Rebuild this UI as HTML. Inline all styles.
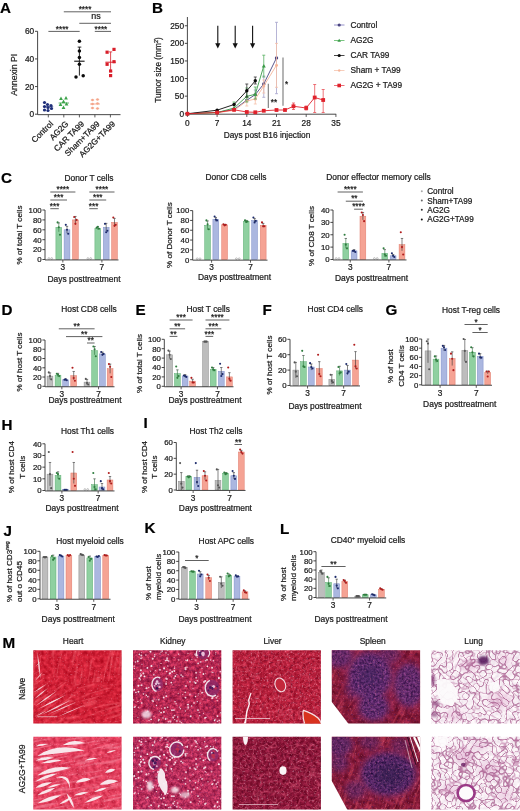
<!DOCTYPE html>
<html><head><meta charset="utf-8"><title>Figure</title>
<style>html,body{margin:0;padding:0;background:#fff;width:520px;height:811px;overflow:hidden}svg{display:block} text{stroke:#1a1a1a;stroke-width:0.22px;paint-order:stroke}</style>
</head><body>
<svg width="520" height="811" viewBox="0 0 520 811" font-family="'Liberation Sans', Arial, Helvetica, sans-serif"><defs><filter id="bl05" x="-50%" y="-50%" width="200%" height="200%"><feGaussianBlur stdDeviation="0.5"/></filter><filter id="bl1" x="-50%" y="-50%" width="200%" height="200%"><feGaussianBlur stdDeviation="0.9"/></filter><filter id="bl2" x="-50%" y="-50%" width="200%" height="200%"><feGaussianBlur stdDeviation="2.5"/></filter><filter id="bl4" x="-50%" y="-50%" width="200%" height="200%"><feGaussianBlur stdDeviation="4.5"/></filter><filter id="fHeartN" x="0" y="0" width="1" height="1" color-interpolation-filters="sRGB"><feTurbulence type="fractalNoise" baseFrequency="0.25" numOctaves="3" seed="2"/><feColorMatrix type="matrix" values="0 0 0 0.345 0.635 0 0 0 0.251 -0.008 0 0 0 0.251 0.078 0 0 0 0 1"/></filter><filter id="fibN" x="0" y="0" width="1" height="1" color-interpolation-filters="sRGB"><feTurbulence type="fractalNoise" baseFrequency="0.04 0.45" numOctaves="2" seed="31"/><feColorMatrix type="matrix" values="0 0 0 0 0.941 0 0 0 0 0.353 0 0 0 0 0.412 0 0 0 6 -3.2"/><feGaussianBlur stdDeviation="0.3"/></filter><filter id="fibA" x="0" y="0" width="1" height="1" color-interpolation-filters="sRGB"><feTurbulence type="fractalNoise" baseFrequency="0.04 0.4" numOctaves="2" seed="32"/><feColorMatrix type="matrix" values="0 0 0 0 0.980 0 0 0 0 0.588 0 0 0 0 0.667 0 0 0 6 -3.2"/><feGaussianBlur stdDeviation="0.3"/></filter><filter id="fHeartA" x="0" y="0" width="1" height="1" color-interpolation-filters="sRGB"><feTurbulence type="fractalNoise" baseFrequency="0.25" numOctaves="3" seed="3"/><feColorMatrix type="matrix" values="0 0 0 0.314 0.722 0 0 0 0.314 0.078 0 0 0 0.314 0.196 0 0 0 0 1"/></filter><filter id="fKidN" x="0" y="0" width="1" height="1" color-interpolation-filters="sRGB"><feTurbulence type="fractalNoise" baseFrequency="0.3" numOctaves="3" seed="4"/><feColorMatrix type="matrix" values="0 0 0 0.627 0.424 0 0 0 0.345 -0.008 0 0 0 0.376 0.133 0 0 0 0 1"/></filter><filter id="kNet" x="0" y="0" width="1" height="1" color-interpolation-filters="sRGB"><feTurbulence type="turbulence" baseFrequency="0.22" numOctaves="1" seed="41"/><feColorMatrix type="matrix" values="0 0 0 0 0.431 0 0 0 0 0.078 0 0 0 0 0.275 0 0 0 -16 1.6"/><feGaussianBlur stdDeviation="0.3"/></filter><filter id="kDots" x="0" y="0" width="1" height="1" color-interpolation-filters="sRGB"><feTurbulence type="fractalNoise" baseFrequency="0.38" numOctaves="1" seed="42"/><feColorMatrix type="matrix" values="0 0 0 0 0.980 0 0 0 0 0.894 0 0 0 0 0.933 0 0 0 7 -4.1"/><feGaussianBlur stdDeviation="0.45"/></filter><filter id="fKidA" x="0" y="0" width="1" height="1" color-interpolation-filters="sRGB"><feTurbulence type="fractalNoise" baseFrequency="0.3" numOctaves="3" seed="5"/><feColorMatrix type="matrix" values="0 0 0 0.627 0.431 0 0 0 0.376 0.000 0 0 0 0.408 0.157 0 0 0 0 1"/></filter><filter id="fLivN" x="0" y="0" width="1" height="1" color-interpolation-filters="sRGB"><feTurbulence type="fractalNoise" baseFrequency="0.3" numOctaves="3" seed="6"/><feColorMatrix type="matrix" values="0 0 0 0.408 0.502 0 0 0 0.251 -0.008 0 0 0 0.282 0.086 0 0 0 0 1"/></filter><filter id="fLivA" x="0" y="0" width="1" height="1" color-interpolation-filters="sRGB"><feTurbulence type="fractalNoise" baseFrequency="0.3" numOctaves="3" seed="7"/><feColorMatrix type="matrix" values="0 0 0 0.408 0.337 0 0 0 0.220 -0.024 0 0 0 0.282 0.078 0 0 0 0 1"/></filter><filter id="fSplN" x="0" y="0" width="1" height="1" color-interpolation-filters="sRGB"><feTurbulence type="fractalNoise" baseFrequency="0.2" numOctaves="3" seed="8"/><feColorMatrix type="matrix" values="0 0 0 0.439 0.290 0 0 0 0.188 0.004 0 0 0 0.251 0.086 0 0 0 0 1"/></filter><filter id="fPurp" x="0" y="0" width="1" height="1" color-interpolation-filters="sRGB"><feTurbulence type="fractalNoise" baseFrequency="0.45" numOctaves="3" seed="61"/><feColorMatrix type="matrix" values="0 0 0 0.565 0.063 0 0 0 0.314 0.008 0 0 0 0.471 0.188 0 0 0 0 1"/></filter><filter id="fPurp2" x="0" y="0" width="1" height="1" color-interpolation-filters="sRGB"><feTurbulence type="fractalNoise" baseFrequency="0.45" numOctaves="3" seed="62"/><feColorMatrix type="matrix" values="0 0 0 0.565 0.031 0 0 0 0.314 -0.008 0 0 0 0.471 0.157 0 0 0 0 1"/></filter><filter id="livNet" x="0" y="0" width="1" height="1" color-interpolation-filters="sRGB"><feTurbulence type="turbulence" baseFrequency="0.15" numOctaves="1" seed="51"/><feColorMatrix type="matrix" values="0 0 0 0 0.882 0 0 0 0 0.373 0 0 0 0 0.471 0 0 0 -14 1.3"/><feGaussianBlur stdDeviation="0.3"/></filter><filter id="livNet2" x="0" y="0" width="1" height="1" color-interpolation-filters="sRGB"><feTurbulence type="turbulence" baseFrequency="0.13" numOctaves="1" seed="52"/><feColorMatrix type="matrix" values="0 0 0 0 0.843 0 0 0 0 0.353 0 0 0 0 0.471 0 0 0 -14 1.3"/><feGaussianBlur stdDeviation="0.3"/></filter><filter id="splDots" x="0" y="0" width="1" height="1" color-interpolation-filters="sRGB"><feTurbulence type="fractalNoise" baseFrequency="0.6" numOctaves="1" seed="53"/><feColorMatrix type="matrix" values="0 0 0 0 0.902 0 0 0 0 0.471 0 0 0 0 0.588 0 0 0 6 -3.6"/><feGaussianBlur stdDeviation="0.35"/></filter><filter id="fSplA" x="0" y="0" width="1" height="1" color-interpolation-filters="sRGB"><feTurbulence type="fractalNoise" baseFrequency="0.2" numOctaves="3" seed="9"/><feColorMatrix type="matrix" values="0 0 0 0.439 0.290 0 0 0 0.188 0.004 0 0 0 0.251 0.086 0 0 0 0 1"/></filter><filter id="fLung" x="0" y="0" width="1" height="1" color-interpolation-filters="sRGB"><feTurbulence type="fractalNoise" baseFrequency="0.25" numOctaves="3" seed="10"/><feColorMatrix type="matrix" values="0 0 0 0.125 0.910 0 0 0 0.188 0.847 0 0 0 0.125 0.898 0 0 0 0 1"/></filter><filter id="dLight" x="0" y="0" width="1" height="1" color-interpolation-filters="sRGB"><feTurbulence type="fractalNoise" baseFrequency="0.7" numOctaves="1" seed="12"/><feColorMatrix type="matrix" values="0 0 0 0 0.965 0 0 0 0 0.769 0 0 0 0 0.839 0 0 0 7 -4.4"/><feGaussianBlur stdDeviation="0.35"/></filter><filter id="dLight2" x="0" y="0" width="1" height="1" color-interpolation-filters="sRGB"><feTurbulence type="fractalNoise" baseFrequency="0.55" numOctaves="1" seed="13"/><feColorMatrix type="matrix" values="0 0 0 0 0.973 0 0 0 0 0.824 0 0 0 0 0.878 0 0 0 7 -4.2"/><feGaussianBlur stdDeviation="0.35"/></filter><filter id="dPurp" x="0" y="0" width="1" height="1" color-interpolation-filters="sRGB"><feTurbulence type="fractalNoise" baseFrequency="0.5" numOctaves="1" seed="14"/><feColorMatrix type="matrix" values="0 0 0 0 0.314 0 0 0 0 0.118 0 0 0 0 0.392 0 0 0 6 -3.7"/><feGaussianBlur stdDeviation="0.35"/></filter><filter id="dDark" x="0" y="0" width="1" height="1" color-interpolation-filters="sRGB"><feTurbulence type="fractalNoise" baseFrequency="0.45" numOctaves="1" seed="15"/><feColorMatrix type="matrix" values="0 0 0 0 0.353 0 0 0 0 0.047 0 0 0 0 0.176 0 0 0 6 -3.4"/><feGaussianBlur stdDeviation="0.35"/></filter><filter id="lungMesh" x="0" y="0" width="1" height="1" color-interpolation-filters="sRGB"><feTurbulence type="turbulence" baseFrequency="0.15" numOctaves="1" seed="16"/><feColorMatrix type="matrix" values="0 0 0 0 0.588 0 0 0 0 0.267 0 0 0 0 0.478 0 0 0 -14 1.4"/><feGaussianBlur stdDeviation="0.3"/></filter><filter id="lungMesh2" x="0" y="0" width="1" height="1" color-interpolation-filters="sRGB"><feTurbulence type="turbulence" baseFrequency="0.15" numOctaves="1" seed="17"/><feColorMatrix type="matrix" values="0 0 0 0 0.686 0 0 0 0 0.353 0 0 0 0 0.569 0 0 0 -14 1.4"/><feGaussianBlur stdDeviation="0.3"/></filter><clipPath id="c00"><rect x="33.30" y="650.20" width="88.30" height="73.40"/></clipPath><clipPath id="hz1"><path d="M33.3 650.2 L121.6 650.2 L121.6 680.2 L73.3 684.2 L33.3 670.2Z"/></clipPath><clipPath id="hz2"><path d="M73.3 684.2 L121.6 680.2 L121.6 723.6 L63.3 723.6Z"/></clipPath><clipPath id="hz3"><path d="M33.3 670.2 L73.3 684.2 L63.3 723.6 L33.3 723.6Z"/></clipPath><clipPath id="c01"><rect x="33.30" y="736.70" width="88.30" height="72.80"/></clipPath><clipPath id="c10"><rect x="133.00" y="650.20" width="88.30" height="73.40"/></clipPath><clipPath id="c11"><rect x="133.00" y="736.70" width="88.30" height="72.80"/></clipPath><clipPath id="c20"><rect x="232.60" y="650.20" width="88.30" height="73.40"/></clipPath><clipPath id="c21"><rect x="232.60" y="736.70" width="88.30" height="72.80"/></clipPath><clipPath id="c30"><rect x="331.80" y="650.20" width="88.30" height="73.40"/></clipPath><mask id="mSN" maskUnits="userSpaceOnUse" x="331.8" y="650.2" width="88.3" height="73.4"><ellipse cx="370" cy="676" rx="21.3" ry="23.5" fill="#fff" fill-opacity="0.9" filter="url(#bl2)"/><ellipse cx="373.7" cy="707" rx="14.6" ry="13.4" fill="#fff" fill-opacity="0.9" filter="url(#bl2)"/><ellipse cx="409" cy="685" rx="14.6" ry="21.3" fill="#fff" fill-opacity="0.85" filter="url(#bl2)"/><ellipse cx="339" cy="656" rx="13.4" ry="11.2" fill="#fff" fill-opacity="0.75" filter="url(#bl2)"/><ellipse cx="390" cy="654" rx="10.1" ry="9.0" fill="#fff" fill-opacity="0.55" filter="url(#bl2)"/><ellipse cx="352" cy="690" rx="6.7" ry="9.0" fill="#fff" fill-opacity="0.4" filter="url(#bl2)"/></mask><clipPath id="c31"><rect x="331.80" y="736.70" width="88.30" height="72.80"/></clipPath><mask id="mSA" maskUnits="userSpaceOnUse" x="331.8" y="736.7" width="88.3" height="72.8"><ellipse cx="388.3" cy="773.9" rx="26.9" ry="21.3" fill="#fff" fill-opacity="0.95" filter="url(#bl2)"/><ellipse cx="339" cy="744.6" rx="13.4" ry="11.2" fill="#fff" fill-opacity="0.75" filter="url(#bl2)"/><ellipse cx="339" cy="763" rx="9.0" ry="9.0" fill="#fff" fill-opacity="0.6" filter="url(#bl2)"/><ellipse cx="355.4" cy="790" rx="10.1" ry="9.0" fill="#fff" fill-opacity="0.55" filter="url(#bl2)"/><ellipse cx="370" cy="742" rx="10.1" ry="7.8" fill="#fff" fill-opacity="0.5" filter="url(#bl2)"/><ellipse cx="400" cy="745" rx="9.0" ry="7.8" fill="#fff" fill-opacity="0.45" filter="url(#bl2)"/></mask><clipPath id="c40"><rect x="431.30" y="650.20" width="88.30" height="73.40"/></clipPath><clipPath id="c41"><rect x="431.30" y="736.70" width="88.30" height="72.80"/></clipPath></defs><rect width="520" height="811" fill="#fff"/><text x="0.00" y="13.10" font-size="15.2" font-weight="bold" fill="#000">A</text>
<line x1="37.60" y1="31.30" x2="37.60" y2="114.65" stroke="#333" stroke-width="0.9"/>
<line x1="35.00" y1="114.20" x2="37.60" y2="114.20" stroke="#333" stroke-width="0.9"/>
<text x="34.20" y="117.19" font-size="8.3" text-anchor="end" font-weight="normal" fill="#1a1a1a">0</text>
<line x1="35.00" y1="86.57" x2="37.60" y2="86.57" stroke="#333" stroke-width="0.9"/>
<text x="34.20" y="89.55" font-size="8.3" text-anchor="end" font-weight="normal" fill="#1a1a1a">20</text>
<line x1="35.00" y1="58.93" x2="37.60" y2="58.93" stroke="#333" stroke-width="0.9"/>
<text x="34.20" y="61.92" font-size="8.3" text-anchor="end" font-weight="normal" fill="#1a1a1a">40</text>
<line x1="35.00" y1="31.30" x2="37.60" y2="31.30" stroke="#333" stroke-width="0.9"/>
<text x="34.20" y="34.29" font-size="8.3" text-anchor="end" font-weight="normal" fill="#1a1a1a">60</text>
<line x1="37.60" y1="114.65" x2="120.50" y2="114.65" stroke="#333" stroke-width="0.9"/>
<line x1="48.30" y1="114.65" x2="48.30" y2="117.40" stroke="#333" stroke-width="0.8"/>
<text x="53.70" y="124.40" font-size="8.3" text-anchor="end" fill="#1a1a1a" transform="rotate(-45 53.70 124.40)">Control</text>
<line x1="63.80" y1="114.65" x2="63.80" y2="117.40" stroke="#333" stroke-width="0.8"/>
<text x="69.20" y="124.40" font-size="8.3" text-anchor="end" fill="#1a1a1a" transform="rotate(-45 69.20 124.40)">AG2G</text>
<line x1="79.40" y1="114.65" x2="79.40" y2="117.40" stroke="#333" stroke-width="0.8"/>
<text x="84.80" y="124.40" font-size="8.3" text-anchor="end" fill="#1a1a1a" transform="rotate(-45 84.80 124.40)">CAR TA99</text>
<line x1="94.90" y1="114.65" x2="94.90" y2="117.40" stroke="#333" stroke-width="0.8"/>
<text x="100.30" y="124.40" font-size="8.3" text-anchor="end" fill="#1a1a1a" transform="rotate(-45 100.30 124.40)">Sham+TA99</text>
<line x1="110.40" y1="114.65" x2="110.40" y2="117.40" stroke="#333" stroke-width="0.8"/>
<text x="115.80" y="124.40" font-size="8.3" text-anchor="end" fill="#1a1a1a" transform="rotate(-45 115.80 124.40)">AG2G+TA99</text>
<text x="14.20" y="77.93" font-size="8.7" text-anchor="middle" font-weight="normal" fill="#1a1a1a" transform="rotate(-90 14.20 74.80)">Annexin PI</text>
<circle cx="44.50" cy="102.50" r="1.60" fill="#1f2f7a" stroke="none" stroke-width="0.5"/>
<circle cx="47.50" cy="104.50" r="1.60" fill="#1f2f7a" stroke="none" stroke-width="0.5"/>
<circle cx="51.00" cy="105.50" r="1.60" fill="#1f2f7a" stroke="none" stroke-width="0.5"/>
<circle cx="44.50" cy="106.50" r="1.60" fill="#1f2f7a" stroke="none" stroke-width="0.5"/>
<circle cx="48.00" cy="107.50" r="1.60" fill="#1f2f7a" stroke="none" stroke-width="0.5"/>
<circle cx="51.50" cy="108.50" r="1.60" fill="#1f2f7a" stroke="none" stroke-width="0.5"/>
<circle cx="44.50" cy="110.00" r="1.60" fill="#1f2f7a" stroke="none" stroke-width="0.5"/>
<circle cx="48.00" cy="110.50" r="1.60" fill="#1f2f7a" stroke="none" stroke-width="0.5"/>
<line x1="43.20" y1="106.80" x2="53.20" y2="106.80" stroke="#1f2f7a" stroke-width="0.8"/>
<path d="M61.0 96.6 L62.9 99.9 L59.1 99.9Z" fill="#3ca34a"/>
<path d="M66.0 96.1 L67.9 99.4 L64.1 99.4Z" fill="#3ca34a"/>
<path d="M63.5 99.6 L65.4 102.9 L61.6 102.9Z" fill="#3ca34a"/>
<path d="M60.5 102.6 L62.4 105.9 L58.6 105.9Z" fill="#3ca34a"/>
<path d="M66.5 102.1 L68.4 105.4 L64.6 105.4Z" fill="#3ca34a"/>
<path d="M63.5 105.6 L65.4 108.9 L61.6 108.9Z" fill="#3ca34a"/>
<line x1="58.60" y1="103.00" x2="69.00" y2="103.00" stroke="#3ca34a" stroke-width="0.8"/>
<line x1="79.40" y1="47.10" x2="79.40" y2="75.60" stroke="#111" stroke-width="0.9"/>
<line x1="77.70" y1="47.10" x2="81.30" y2="47.10" stroke="#111" stroke-width="0.9"/>
<line x1="74.20" y1="61.20" x2="84.60" y2="61.20" stroke="#111" stroke-width="1.1"/>
<circle cx="79.40" cy="41.20" r="1.75" fill="#0a0a0a" stroke="none" stroke-width="0.5"/>
<circle cx="79.40" cy="51.10" r="1.75" fill="#0a0a0a" stroke="none" stroke-width="0.5"/>
<circle cx="79.40" cy="57.50" r="1.75" fill="#0a0a0a" stroke="none" stroke-width="0.5"/>
<circle cx="79.40" cy="64.30" r="1.75" fill="#0a0a0a" stroke="none" stroke-width="0.5"/>
<circle cx="76.00" cy="77.00" r="1.75" fill="#0a0a0a" stroke="none" stroke-width="0.5"/>
<circle cx="83.20" cy="75.80" r="1.75" fill="#0a0a0a" stroke="none" stroke-width="0.5"/>
<line x1="90.00" y1="104.00" x2="100.00" y2="104.00" stroke="#f4a58a" stroke-width="0.8"/>
<circle cx="92.50" cy="100.00" r="1.30" fill="#f4a58a" stroke="none" stroke-width="0.5"/>
<line x1="90.70" y1="100.00" x2="94.30" y2="100.00" stroke="#f4a58a" stroke-width="0.5"/>
<circle cx="97.50" cy="99.50" r="1.30" fill="#f4a58a" stroke="none" stroke-width="0.5"/>
<line x1="95.70" y1="99.50" x2="99.30" y2="99.50" stroke="#f4a58a" stroke-width="0.5"/>
<circle cx="92.50" cy="104.00" r="1.30" fill="#f4a58a" stroke="none" stroke-width="0.5"/>
<line x1="90.70" y1="104.00" x2="94.30" y2="104.00" stroke="#f4a58a" stroke-width="0.5"/>
<circle cx="97.50" cy="103.50" r="1.30" fill="#f4a58a" stroke="none" stroke-width="0.5"/>
<line x1="95.70" y1="103.50" x2="99.30" y2="103.50" stroke="#f4a58a" stroke-width="0.5"/>
<circle cx="92.50" cy="108.00" r="1.30" fill="#f4a58a" stroke="none" stroke-width="0.5"/>
<line x1="90.70" y1="108.00" x2="94.30" y2="108.00" stroke="#f4a58a" stroke-width="0.5"/>
<circle cx="97.50" cy="108.50" r="1.30" fill="#f4a58a" stroke="none" stroke-width="0.5"/>
<line x1="95.70" y1="108.50" x2="99.30" y2="108.50" stroke="#f4a58a" stroke-width="0.5"/>
<line x1="110.60" y1="51.90" x2="110.60" y2="71.50" stroke="#d81e2a" stroke-width="0.8"/>
<line x1="109.00" y1="51.90" x2="112.20" y2="51.90" stroke="#d81e2a" stroke-width="0.8"/>
<line x1="109.00" y1="71.50" x2="112.20" y2="71.50" stroke="#d81e2a" stroke-width="0.8"/>
<line x1="105.40" y1="62.20" x2="115.80" y2="62.20" stroke="#d81e2a" stroke-width="1.0"/>
<rect x="112.40" y="47.80" width="3.20" height="3.20" fill="#d81e2a" stroke="none" stroke-width="0.6"/>
<rect x="105.50" y="50.60" width="3.20" height="3.20" fill="#d81e2a" stroke="none" stroke-width="0.6"/>
<rect x="112.40" y="60.10" width="3.20" height="3.20" fill="#d81e2a" stroke="none" stroke-width="0.6"/>
<rect x="105.50" y="62.70" width="3.20" height="3.20" fill="#d81e2a" stroke="none" stroke-width="0.6"/>
<rect x="109.00" y="69.40" width="3.20" height="3.20" fill="#d81e2a" stroke="none" stroke-width="0.6"/>
<rect x="109.00" y="74.00" width="3.20" height="3.20" fill="#d81e2a" stroke="none" stroke-width="0.6"/>
<line x1="63.80" y1="11.80" x2="111.00" y2="11.80" stroke="#444" stroke-width="0.85"/>
<text x="85.00" y="12.00" font-size="8.2" text-anchor="middle" font-weight="normal" fill="#222">****</text>
<line x1="79.30" y1="23.30" x2="111.00" y2="23.30" stroke="#444" stroke-width="0.85"/>
<text x="96.00" y="18.80" font-size="9" text-anchor="middle" font-weight="normal" fill="#222">ns</text>
<line x1="48.40" y1="31.40" x2="79.70" y2="31.40" stroke="#444" stroke-width="0.85"/>
<text x="62.20" y="31.60" font-size="8.2" text-anchor="middle" font-weight="normal" fill="#222">****</text>
<line x1="94.80" y1="31.40" x2="111.00" y2="31.40" stroke="#444" stroke-width="0.85"/>
<text x="100.90" y="31.60" font-size="8.2" text-anchor="middle" font-weight="normal" fill="#222">****</text>
<text x="152.00" y="13.10" font-size="15.2" font-weight="bold" fill="#000">B</text>
<line x1="187.40" y1="17.00" x2="187.40" y2="114.20" stroke="#333" stroke-width="0.9"/>
<line x1="184.80" y1="113.75" x2="187.40" y2="113.75" stroke="#333" stroke-width="0.9"/>
<text x="184.00" y="116.74" font-size="8.3" text-anchor="end" font-weight="normal" fill="#1a1a1a">0</text>
<line x1="184.80" y1="96.15" x2="187.40" y2="96.15" stroke="#333" stroke-width="0.9"/>
<text x="184.00" y="99.14" font-size="8.3" text-anchor="end" font-weight="normal" fill="#1a1a1a">50</text>
<line x1="184.80" y1="78.55" x2="187.40" y2="78.55" stroke="#333" stroke-width="0.9"/>
<text x="184.00" y="81.54" font-size="8.3" text-anchor="end" font-weight="normal" fill="#1a1a1a">100</text>
<line x1="184.80" y1="60.95" x2="187.40" y2="60.95" stroke="#333" stroke-width="0.9"/>
<text x="184.00" y="63.94" font-size="8.3" text-anchor="end" font-weight="normal" fill="#1a1a1a">150</text>
<line x1="184.80" y1="43.35" x2="187.40" y2="43.35" stroke="#333" stroke-width="0.9"/>
<text x="184.00" y="46.34" font-size="8.3" text-anchor="end" font-weight="normal" fill="#1a1a1a">200</text>
<line x1="184.80" y1="25.75" x2="187.40" y2="25.75" stroke="#333" stroke-width="0.9"/>
<text x="184.00" y="28.74" font-size="8.3" text-anchor="end" font-weight="normal" fill="#1a1a1a">250</text>
<line x1="187.40" y1="114.20" x2="336.20" y2="114.20" stroke="#333" stroke-width="0.9"/>
<line x1="187.40" y1="114.20" x2="187.40" y2="116.95" stroke="#333" stroke-width="0.8"/>
<text x="187.40" y="126.29" font-size="8.3" text-anchor="middle" font-weight="normal" fill="#1a1a1a">0</text>
<line x1="217.10" y1="114.20" x2="217.10" y2="116.95" stroke="#333" stroke-width="0.8"/>
<text x="217.10" y="126.29" font-size="8.3" text-anchor="middle" font-weight="normal" fill="#1a1a1a">7</text>
<line x1="246.80" y1="114.20" x2="246.80" y2="116.95" stroke="#333" stroke-width="0.8"/>
<text x="246.80" y="126.29" font-size="8.3" text-anchor="middle" font-weight="normal" fill="#1a1a1a">14</text>
<line x1="276.50" y1="114.20" x2="276.50" y2="116.95" stroke="#333" stroke-width="0.8"/>
<text x="276.50" y="126.29" font-size="8.3" text-anchor="middle" font-weight="normal" fill="#1a1a1a">21</text>
<line x1="306.20" y1="114.20" x2="306.20" y2="116.95" stroke="#333" stroke-width="0.8"/>
<text x="306.20" y="126.29" font-size="8.3" text-anchor="middle" font-weight="normal" fill="#1a1a1a">28</text>
<line x1="335.91" y1="114.20" x2="335.91" y2="116.95" stroke="#333" stroke-width="0.8"/>
<text x="335.91" y="126.29" font-size="8.3" text-anchor="middle" font-weight="normal" fill="#1a1a1a">35</text>
<text x="267.00" y="137.99" font-size="8.3" text-anchor="middle" font-weight="normal" fill="#1a1a1a">Days post B16 injection</text>
<text x="158.2" y="70" font-size="8.3" text-anchor="middle" fill="#1a1a1a" transform="rotate(-90 158.2 70)" dy="2.9">Tumor size (mm<tspan font-size="5.5" dy="-3">2</tspan><tspan dy="3">)</tspan></text>
<line x1="217.80" y1="25.70" x2="217.80" y2="45.50" stroke="#111" stroke-width="1.1"/>
<path d="M215.20 43.2 L220.40 43.2 L217.80 48.4Z" fill="#111"/>
<line x1="235.20" y1="25.70" x2="235.20" y2="45.50" stroke="#111" stroke-width="1.1"/>
<path d="M232.60 43.2 L237.80 43.2 L235.20 48.4Z" fill="#111"/>
<line x1="252.60" y1="25.70" x2="252.60" y2="45.50" stroke="#111" stroke-width="1.1"/>
<path d="M250.00 43.2 L255.20 43.2 L252.60 48.4Z" fill="#111"/>
<path d="M187.40 113.75 L217.10 112.30 L234.07 109.50 L246.80 100.20 L255.29 94.60 L263.77 83.90 L276.50 57.90" fill="none" stroke="#4a4580" stroke-width="0.9"/>
<line x1="276.50" y1="22.30" x2="276.50" y2="93.70" stroke="#a4a2cc" stroke-width="0.8"/>
<line x1="275.00" y1="22.30" x2="278.00" y2="22.30" stroke="#a4a2cc" stroke-width="0.8"/>
<line x1="275.00" y1="93.70" x2="278.00" y2="93.70" stroke="#a4a2cc" stroke-width="0.8"/>
<line x1="263.77" y1="76.00" x2="263.77" y2="97.30" stroke="#a4a2cc" stroke-width="0.8"/>
<line x1="262.27" y1="76.00" x2="265.27" y2="76.00" stroke="#a4a2cc" stroke-width="0.8"/>
<line x1="262.27" y1="97.30" x2="265.27" y2="97.30" stroke="#a4a2cc" stroke-width="0.8"/>
<line x1="255.29" y1="90.00" x2="255.29" y2="99.00" stroke="#a4a2cc" stroke-width="0.8"/>
<line x1="253.79" y1="90.00" x2="256.79" y2="90.00" stroke="#a4a2cc" stroke-width="0.8"/>
<line x1="253.79" y1="99.00" x2="256.79" y2="99.00" stroke="#a4a2cc" stroke-width="0.8"/>
<circle cx="187.40" cy="113.75" r="1.70" fill="#4a4580" stroke="none" stroke-width="0.5"/>
<circle cx="217.10" cy="112.30" r="1.70" fill="#4a4580" stroke="none" stroke-width="0.5"/>
<circle cx="234.07" cy="109.50" r="1.70" fill="#4a4580" stroke="none" stroke-width="0.5"/>
<circle cx="246.80" cy="100.20" r="1.70" fill="#4a4580" stroke="none" stroke-width="0.5"/>
<circle cx="255.29" cy="94.60" r="1.70" fill="#4a4580" stroke="none" stroke-width="0.5"/>
<circle cx="263.77" cy="83.90" r="1.70" fill="#4a4580" stroke="none" stroke-width="0.5"/>
<circle cx="276.50" cy="57.90" r="1.70" fill="#4a4580" stroke="none" stroke-width="0.5"/>
<path d="M187.40 113.75 L217.10 112.60 L234.07 110.50 L246.80 101.00 L255.29 99.00 L263.77 86.00 L276.50 65.20" fill="none" stroke="#f6b59a" stroke-width="0.9"/>
<line x1="276.50" y1="43.40" x2="276.50" y2="87.30" stroke="#f6c0a8" stroke-width="0.8"/>
<line x1="275.00" y1="43.40" x2="278.00" y2="43.40" stroke="#f6c0a8" stroke-width="0.8"/>
<line x1="275.00" y1="87.30" x2="278.00" y2="87.30" stroke="#f6c0a8" stroke-width="0.8"/>
<line x1="263.77" y1="80.00" x2="263.77" y2="93.00" stroke="#f6c0a8" stroke-width="0.8"/>
<line x1="262.27" y1="80.00" x2="265.27" y2="80.00" stroke="#f6c0a8" stroke-width="0.8"/>
<line x1="262.27" y1="93.00" x2="265.27" y2="93.00" stroke="#f6c0a8" stroke-width="0.8"/>
<line x1="255.29" y1="94.00" x2="255.29" y2="104.00" stroke="#f6c0a8" stroke-width="0.8"/>
<line x1="253.79" y1="94.00" x2="256.79" y2="94.00" stroke="#f6c0a8" stroke-width="0.8"/>
<line x1="253.79" y1="104.00" x2="256.79" y2="104.00" stroke="#f6c0a8" stroke-width="0.8"/>
<line x1="246.80" y1="97.00" x2="246.80" y2="106.00" stroke="#f6c0a8" stroke-width="0.8"/>
<line x1="245.30" y1="97.00" x2="248.30" y2="97.00" stroke="#f6c0a8" stroke-width="0.8"/>
<line x1="245.30" y1="106.00" x2="248.30" y2="106.00" stroke="#f6c0a8" stroke-width="0.8"/>
<circle cx="187.40" cy="113.75" r="1.50" fill="#f6b59a" stroke="none" stroke-width="0.5"/>
<circle cx="217.10" cy="112.60" r="1.50" fill="#f6b59a" stroke="none" stroke-width="0.5"/>
<circle cx="234.07" cy="110.50" r="1.50" fill="#f6b59a" stroke="none" stroke-width="0.5"/>
<circle cx="246.80" cy="101.00" r="1.50" fill="#f6b59a" stroke="none" stroke-width="0.5"/>
<circle cx="255.29" cy="99.00" r="1.50" fill="#f6b59a" stroke="none" stroke-width="0.5"/>
<circle cx="263.77" cy="86.00" r="1.50" fill="#f6b59a" stroke="none" stroke-width="0.5"/>
<circle cx="276.50" cy="65.20" r="1.50" fill="#f6b59a" stroke="none" stroke-width="0.5"/>
<path d="M187.40 113.75 L217.10 112.60 L234.07 108.00 L246.80 96.30 L255.29 94.30 L263.77 66.00" fill="none" stroke="#3a9a48" stroke-width="0.9"/>
<line x1="263.77" y1="55.20" x2="263.77" y2="77.00" stroke="#55b060" stroke-width="0.8"/>
<line x1="262.27" y1="55.20" x2="265.27" y2="55.20" stroke="#55b060" stroke-width="0.8"/>
<line x1="262.27" y1="77.00" x2="265.27" y2="77.00" stroke="#55b060" stroke-width="0.8"/>
<line x1="246.80" y1="88.00" x2="246.80" y2="102.00" stroke="#55b060" stroke-width="0.8"/>
<line x1="245.30" y1="88.00" x2="248.30" y2="88.00" stroke="#55b060" stroke-width="0.8"/>
<line x1="245.30" y1="102.00" x2="248.30" y2="102.00" stroke="#55b060" stroke-width="0.8"/>
<line x1="255.29" y1="87.00" x2="255.29" y2="99.00" stroke="#55b060" stroke-width="0.8"/>
<line x1="253.79" y1="87.00" x2="256.79" y2="87.00" stroke="#55b060" stroke-width="0.8"/>
<line x1="253.79" y1="99.00" x2="256.79" y2="99.00" stroke="#55b060" stroke-width="0.8"/>
<line x1="234.07" y1="102.00" x2="234.07" y2="110.00" stroke="#55b060" stroke-width="0.8"/>
<line x1="232.57" y1="102.00" x2="235.57" y2="102.00" stroke="#55b060" stroke-width="0.8"/>
<line x1="232.57" y1="110.00" x2="235.57" y2="110.00" stroke="#55b060" stroke-width="0.8"/>
<path d="M187.4 111.8 L189.4 115.2 L185.4 115.2Z" fill="#3a9a48"/>
<path d="M217.1 110.6 L219.1 114.0 L215.1 114.0Z" fill="#3a9a48"/>
<path d="M234.1 106.0 L236.1 109.4 L232.1 109.4Z" fill="#3a9a48"/>
<path d="M246.8 94.3 L248.8 97.7 L244.8 97.7Z" fill="#3a9a48"/>
<path d="M255.3 92.3 L257.3 95.7 L253.3 95.7Z" fill="#3a9a48"/>
<path d="M263.8 64.0 L265.8 67.4 L261.8 67.4Z" fill="#3a9a48"/>
<path d="M187.40 113.75 L217.10 110.20 L234.07 104.50 L246.80 90.80 L255.29 80.80" fill="none" stroke="#0a0a0a" stroke-width="0.9"/>
<line x1="246.80" y1="84.00" x2="246.80" y2="97.00" stroke="#333" stroke-width="0.8"/>
<line x1="245.30" y1="84.00" x2="248.30" y2="84.00" stroke="#333" stroke-width="0.8"/>
<line x1="245.30" y1="97.00" x2="248.30" y2="97.00" stroke="#333" stroke-width="0.8"/>
<line x1="255.29" y1="77.00" x2="255.29" y2="84.00" stroke="#333" stroke-width="0.8"/>
<line x1="253.79" y1="77.00" x2="256.79" y2="77.00" stroke="#333" stroke-width="0.8"/>
<line x1="253.79" y1="84.00" x2="256.79" y2="84.00" stroke="#333" stroke-width="0.8"/>
<circle cx="187.40" cy="113.75" r="1.70" fill="#0a0a0a" stroke="none" stroke-width="0.5"/>
<circle cx="217.10" cy="110.20" r="1.70" fill="#0a0a0a" stroke="none" stroke-width="0.5"/>
<circle cx="234.07" cy="104.50" r="1.70" fill="#0a0a0a" stroke="none" stroke-width="0.5"/>
<circle cx="246.80" cy="90.80" r="1.70" fill="#0a0a0a" stroke="none" stroke-width="0.5"/>
<circle cx="255.29" cy="80.80" r="1.70" fill="#0a0a0a" stroke="none" stroke-width="0.5"/>
<path d="M187.40 113.75 L217.10 112.50 L234.07 109.80 L246.80 112.00 L255.29 112.30 L263.77 110.75 L276.50 110.00 L284.99 110.00 L293.48 106.25 L306.20 108.00 L314.69 97.50 L323.18 100.00" fill="none" stroke="#e0222c" stroke-width="0.9"/>
<line x1="314.69" y1="84.50" x2="314.69" y2="112.50" stroke="#e85058" stroke-width="0.8"/>
<line x1="313.19" y1="84.50" x2="316.19" y2="84.50" stroke="#e85058" stroke-width="0.8"/>
<line x1="313.19" y1="112.50" x2="316.19" y2="112.50" stroke="#e85058" stroke-width="0.8"/>
<line x1="323.18" y1="89.50" x2="323.18" y2="112.50" stroke="#e85058" stroke-width="0.8"/>
<line x1="321.68" y1="89.50" x2="324.68" y2="89.50" stroke="#e85058" stroke-width="0.8"/>
<line x1="321.68" y1="112.50" x2="324.68" y2="112.50" stroke="#e85058" stroke-width="0.8"/>
<line x1="293.48" y1="103.00" x2="293.48" y2="109.50" stroke="#e85058" stroke-width="0.8"/>
<line x1="291.98" y1="103.00" x2="294.98" y2="103.00" stroke="#e85058" stroke-width="0.8"/>
<line x1="291.98" y1="109.50" x2="294.98" y2="109.50" stroke="#e85058" stroke-width="0.8"/>
<line x1="306.20" y1="106.00" x2="306.20" y2="110.00" stroke="#e85058" stroke-width="0.8"/>
<line x1="304.70" y1="106.00" x2="307.70" y2="106.00" stroke="#e85058" stroke-width="0.8"/>
<line x1="304.70" y1="110.00" x2="307.70" y2="110.00" stroke="#e85058" stroke-width="0.8"/>
<rect x="185.50" y="111.85" width="3.80" height="3.80" fill="#e0222c" stroke="none" stroke-width="0.6"/>
<rect x="215.20" y="110.60" width="3.80" height="3.80" fill="#e0222c" stroke="none" stroke-width="0.6"/>
<rect x="232.17" y="107.90" width="3.80" height="3.80" fill="#e0222c" stroke="none" stroke-width="0.6"/>
<rect x="244.90" y="110.10" width="3.80" height="3.80" fill="#e0222c" stroke="none" stroke-width="0.6"/>
<rect x="253.39" y="110.40" width="3.80" height="3.80" fill="#e0222c" stroke="none" stroke-width="0.6"/>
<rect x="261.87" y="108.85" width="3.80" height="3.80" fill="#e0222c" stroke="none" stroke-width="0.6"/>
<rect x="274.60" y="108.10" width="3.80" height="3.80" fill="#e0222c" stroke="none" stroke-width="0.6"/>
<rect x="283.09" y="108.10" width="3.80" height="3.80" fill="#e0222c" stroke="none" stroke-width="0.6"/>
<rect x="291.58" y="104.35" width="3.80" height="3.80" fill="#e0222c" stroke="none" stroke-width="0.6"/>
<rect x="304.30" y="106.10" width="3.80" height="3.80" fill="#e0222c" stroke="none" stroke-width="0.6"/>
<rect x="312.79" y="95.60" width="3.80" height="3.80" fill="#e0222c" stroke="none" stroke-width="0.6"/>
<rect x="321.28" y="98.10" width="3.80" height="3.80" fill="#e0222c" stroke="none" stroke-width="0.6"/>
<line x1="268.30" y1="83.70" x2="268.30" y2="108.10" stroke="#777" stroke-width="1.1"/>
<text x="274.00" y="104.80" font-size="8.2" text-anchor="middle" font-weight="normal" fill="#1a1a1a">**</text>
<line x1="283.00" y1="57.60" x2="283.00" y2="105.70" stroke="#777" stroke-width="1.1"/>
<text x="286.60" y="87.00" font-size="8.2" text-anchor="middle" font-weight="normal" fill="#1a1a1a">*</text>
<line x1="334.00" y1="25.00" x2="344.50" y2="25.00" stroke="#8a86c4" stroke-width="0.9"/>
<circle cx="339.20" cy="25.00" r="1.60" fill="#4a4580" stroke="none" stroke-width="0.5"/>
<text x="350.50" y="27.99" font-size="8.3" text-anchor="start" font-weight="normal" fill="#1a1a1a">Control</text>
<line x1="334.00" y1="40.50" x2="344.50" y2="40.50" stroke="#6cbf74" stroke-width="0.9"/>
<path d="M339.2 38.8 L341 41.7 L337.4 41.7Z" fill="#3a9a48"/>
<text x="350.50" y="43.49" font-size="8.3" text-anchor="start" font-weight="normal" fill="#1a1a1a">AG2G</text>
<line x1="334.00" y1="55.50" x2="344.50" y2="55.50" stroke="#333" stroke-width="0.9"/>
<circle cx="339.20" cy="55.50" r="1.60" fill="#0a0a0a" stroke="none" stroke-width="0.5"/>
<text x="350.50" y="58.49" font-size="8.3" text-anchor="start" font-weight="normal" fill="#1a1a1a">CAR TA99</text>
<line x1="334.00" y1="70.50" x2="344.50" y2="70.50" stroke="#f6c8b4" stroke-width="0.9"/>
<circle cx="339.20" cy="70.50" r="1.20" fill="#f6b59a" stroke="none" stroke-width="0.5"/>
<text x="350.50" y="73.49" font-size="8.3" text-anchor="start" font-weight="normal" fill="#1a1a1a">Sham + TA99</text>
<line x1="334.00" y1="85.50" x2="344.50" y2="85.50" stroke="#e8606a" stroke-width="0.9"/>
<rect x="337.40" y="83.70" width="3.60" height="3.60" fill="#e0222c" stroke="none" stroke-width="0.6"/>
<text x="350.50" y="88.49" font-size="8.3" text-anchor="start" font-weight="normal" fill="#1a1a1a">AG2G + TA99</text>
<text x="1.00" y="183.20" font-size="15.2" font-weight="bold" fill="#000">C</text>
<line x1="45.00" y1="210.00" x2="45.00" y2="259.95" stroke="#333" stroke-width="0.9"/>
<line x1="42.40" y1="259.50" x2="45.00" y2="259.50" stroke="#333" stroke-width="0.9"/>
<text x="41.60" y="262.31" font-size="7.8" text-anchor="end" font-weight="normal" fill="#1a1a1a">0</text>
<line x1="42.40" y1="249.60" x2="45.00" y2="249.60" stroke="#333" stroke-width="0.9"/>
<text x="41.60" y="252.41" font-size="7.8" text-anchor="end" font-weight="normal" fill="#1a1a1a">20</text>
<line x1="42.40" y1="239.70" x2="45.00" y2="239.70" stroke="#333" stroke-width="0.9"/>
<text x="41.60" y="242.51" font-size="7.8" text-anchor="end" font-weight="normal" fill="#1a1a1a">40</text>
<line x1="42.40" y1="229.80" x2="45.00" y2="229.80" stroke="#333" stroke-width="0.9"/>
<text x="41.60" y="232.61" font-size="7.8" text-anchor="end" font-weight="normal" fill="#1a1a1a">60</text>
<line x1="42.40" y1="219.90" x2="45.00" y2="219.90" stroke="#333" stroke-width="0.9"/>
<text x="41.60" y="222.71" font-size="7.8" text-anchor="end" font-weight="normal" fill="#1a1a1a">80</text>
<line x1="42.40" y1="210.00" x2="45.00" y2="210.00" stroke="#333" stroke-width="0.9"/>
<text x="41.60" y="212.81" font-size="7.8" text-anchor="end" font-weight="normal" fill="#1a1a1a">100</text>
<circle cx="48.90" cy="258.50" r="0.90" fill="none" stroke="#8a8a8a" stroke-width="0.5"/>
<circle cx="51.70" cy="258.50" r="0.90" fill="none" stroke="#8a8a8a" stroke-width="0.5"/>
<rect x="55.90" y="227.32" width="5.80" height="32.17" fill="#8fd0a0" stroke="#5fae74" stroke-width="0.5"/>
<line x1="58.80" y1="222.87" x2="58.80" y2="231.78" stroke="#2e6e3a" stroke-width="0.6"/>
<line x1="57.60" y1="222.87" x2="60.00" y2="222.87" stroke="#333" stroke-width="0.6"/>
<circle cx="57.60" cy="222.38" r="1.05" fill="#2e7d3e" stroke="none" stroke-width="0.5"/>
<circle cx="60.00" cy="234.75" r="1.05" fill="#2e7d3e" stroke="none" stroke-width="0.5"/>
<circle cx="58.80" cy="227.32" r="1.05" fill="#2e7d3e" stroke="none" stroke-width="0.5"/>
<rect x="64.10" y="229.80" width="5.80" height="29.70" fill="#abb7e0" stroke="#7f8fc8" stroke-width="0.5"/>
<line x1="67.00" y1="226.34" x2="67.00" y2="233.27" stroke="#333" stroke-width="0.6"/>
<line x1="65.80" y1="226.34" x2="68.20" y2="226.34" stroke="#333" stroke-width="0.6"/>
<circle cx="65.80" cy="224.85" r="1.05" fill="#1c2a6a" stroke="none" stroke-width="0.5"/>
<circle cx="68.20" cy="233.76" r="1.05" fill="#1c2a6a" stroke="none" stroke-width="0.5"/>
<circle cx="67.00" cy="229.80" r="1.05" fill="#1c2a6a" stroke="none" stroke-width="0.5"/>
<rect x="72.50" y="219.90" width="5.80" height="39.60" fill="#f5a394" stroke="#e07a6a" stroke-width="0.5"/>
<line x1="75.40" y1="216.44" x2="75.40" y2="223.37" stroke="#333" stroke-width="0.6"/>
<line x1="74.20" y1="216.44" x2="76.60" y2="216.44" stroke="#333" stroke-width="0.6"/>
<circle cx="74.20" cy="216.93" r="1.05" fill="#b01c1c" stroke="none" stroke-width="0.5"/>
<circle cx="76.60" cy="219.90" r="1.05" fill="#b01c1c" stroke="none" stroke-width="0.5"/>
<circle cx="75.40" cy="223.86" r="1.05" fill="#b01c1c" stroke="none" stroke-width="0.5"/>
<circle cx="87.90" cy="258.50" r="0.90" fill="none" stroke="#8a8a8a" stroke-width="0.5"/>
<circle cx="90.70" cy="258.50" r="0.90" fill="none" stroke="#8a8a8a" stroke-width="0.5"/>
<rect x="94.90" y="228.31" width="5.80" height="31.18" fill="#8fd0a0" stroke="#5fae74" stroke-width="0.5"/>
<line x1="97.80" y1="226.83" x2="97.80" y2="229.80" stroke="#2e6e3a" stroke-width="0.6"/>
<line x1="96.60" y1="226.83" x2="99.00" y2="226.83" stroke="#333" stroke-width="0.6"/>
<circle cx="96.60" cy="227.82" r="1.05" fill="#2e7d3e" stroke="none" stroke-width="0.5"/>
<circle cx="99.00" cy="228.81" r="1.05" fill="#2e7d3e" stroke="none" stroke-width="0.5"/>
<circle cx="97.80" cy="226.83" r="1.05" fill="#2e7d3e" stroke="none" stroke-width="0.5"/>
<rect x="103.30" y="227.32" width="5.80" height="32.17" fill="#abb7e0" stroke="#7f8fc8" stroke-width="0.5"/>
<line x1="106.20" y1="223.36" x2="106.20" y2="231.28" stroke="#333" stroke-width="0.6"/>
<line x1="105.00" y1="223.36" x2="107.40" y2="223.36" stroke="#333" stroke-width="0.6"/>
<circle cx="105.00" cy="223.86" r="1.05" fill="#1c2a6a" stroke="none" stroke-width="0.5"/>
<circle cx="107.40" cy="230.79" r="1.05" fill="#1c2a6a" stroke="none" stroke-width="0.5"/>
<circle cx="106.20" cy="232.28" r="1.05" fill="#1c2a6a" stroke="none" stroke-width="0.5"/>
<rect x="111.60" y="222.38" width="5.80" height="37.12" fill="#f5a394" stroke="#e07a6a" stroke-width="0.5"/>
<line x1="114.50" y1="218.41" x2="114.50" y2="226.34" stroke="#333" stroke-width="0.6"/>
<line x1="113.30" y1="218.41" x2="115.70" y2="218.41" stroke="#333" stroke-width="0.6"/>
<circle cx="113.30" cy="217.43" r="1.05" fill="#b01c1c" stroke="none" stroke-width="0.5"/>
<circle cx="115.70" cy="224.85" r="1.05" fill="#b01c1c" stroke="none" stroke-width="0.5"/>
<circle cx="114.50" cy="225.84" r="1.05" fill="#b01c1c" stroke="none" stroke-width="0.5"/>
<line x1="45.00" y1="259.95" x2="118.50" y2="259.95" stroke="#333" stroke-width="0.9"/>
<line x1="62.85" y1="259.95" x2="62.85" y2="262.50" stroke="#333" stroke-width="0.8"/>
<line x1="101.90" y1="259.95" x2="101.90" y2="262.50" stroke="#333" stroke-width="0.8"/>
<text x="62.85" y="270.29" font-size="8.3" text-anchor="middle" font-weight="normal" fill="#1a1a1a">3</text>
<text x="101.90" y="270.29" font-size="8.3" text-anchor="middle" font-weight="normal" fill="#1a1a1a">7</text>
<text x="84.00" y="282.04" font-size="8.45" text-anchor="middle" font-weight="normal" fill="#1a1a1a">Days posttreatment</text>
<text x="89.00" y="180.52" font-size="8.4" text-anchor="middle" font-weight="normal" fill="#1a1a1a">Donor T cells</text>
<text x="19.30" y="237.92" font-size="8.1" text-anchor="middle" font-weight="normal" fill="#1a1a1a" transform="rotate(-90 19.30 235.00)">% of total T cells</text>
<line x1="50.30" y1="192.00" x2="75.40" y2="192.00" stroke="#444" stroke-width="0.85"/>
<text x="62.85" y="192.20" font-size="8.2" text-anchor="middle" font-weight="normal" fill="#222">****</text>
<line x1="50.30" y1="200.00" x2="67.00" y2="200.00" stroke="#444" stroke-width="0.85"/>
<text x="58.65" y="200.20" font-size="8.2" text-anchor="middle" font-weight="normal" fill="#222">***</text>
<line x1="50.30" y1="208.70" x2="58.80" y2="208.70" stroke="#444" stroke-width="0.85"/>
<text x="54.55" y="208.90" font-size="8.2" text-anchor="middle" font-weight="normal" fill="#222">***</text>
<line x1="89.30" y1="192.00" x2="114.50" y2="192.00" stroke="#444" stroke-width="0.85"/>
<text x="101.90" y="192.20" font-size="8.2" text-anchor="middle" font-weight="normal" fill="#222">****</text>
<line x1="89.30" y1="200.00" x2="106.20" y2="200.00" stroke="#444" stroke-width="0.85"/>
<text x="97.75" y="200.20" font-size="8.2" text-anchor="middle" font-weight="normal" fill="#222">***</text>
<line x1="89.30" y1="208.70" x2="97.80" y2="208.70" stroke="#444" stroke-width="0.85"/>
<text x="93.55" y="208.90" font-size="8.2" text-anchor="middle" font-weight="normal" fill="#222">***</text>
<line x1="192.70" y1="210.60" x2="192.70" y2="260.15" stroke="#333" stroke-width="0.9"/>
<line x1="190.10" y1="259.70" x2="192.70" y2="259.70" stroke="#333" stroke-width="0.9"/>
<text x="189.30" y="262.51" font-size="7.8" text-anchor="end" font-weight="normal" fill="#1a1a1a">0</text>
<line x1="190.10" y1="249.88" x2="192.70" y2="249.88" stroke="#333" stroke-width="0.9"/>
<text x="189.30" y="252.69" font-size="7.8" text-anchor="end" font-weight="normal" fill="#1a1a1a">20</text>
<line x1="190.10" y1="240.06" x2="192.70" y2="240.06" stroke="#333" stroke-width="0.9"/>
<text x="189.30" y="242.87" font-size="7.8" text-anchor="end" font-weight="normal" fill="#1a1a1a">40</text>
<line x1="190.10" y1="230.24" x2="192.70" y2="230.24" stroke="#333" stroke-width="0.9"/>
<text x="189.30" y="233.05" font-size="7.8" text-anchor="end" font-weight="normal" fill="#1a1a1a">60</text>
<line x1="190.10" y1="220.42" x2="192.70" y2="220.42" stroke="#333" stroke-width="0.9"/>
<text x="189.30" y="223.23" font-size="7.8" text-anchor="end" font-weight="normal" fill="#1a1a1a">80</text>
<line x1="190.10" y1="210.60" x2="192.70" y2="210.60" stroke="#333" stroke-width="0.9"/>
<text x="189.30" y="213.41" font-size="7.8" text-anchor="end" font-weight="normal" fill="#1a1a1a">100</text>
<circle cx="197.20" cy="258.70" r="0.90" fill="none" stroke="#8a8a8a" stroke-width="0.5"/>
<circle cx="200.00" cy="258.70" r="0.90" fill="none" stroke="#8a8a8a" stroke-width="0.5"/>
<rect x="204.70" y="225.33" width="5.80" height="34.37" fill="#8fd0a0" stroke="#5fae74" stroke-width="0.5"/>
<line x1="207.60" y1="220.91" x2="207.60" y2="229.75" stroke="#2e6e3a" stroke-width="0.6"/>
<line x1="206.40" y1="220.91" x2="208.80" y2="220.91" stroke="#333" stroke-width="0.6"/>
<circle cx="206.40" cy="220.42" r="1.05" fill="#2e7d3e" stroke="none" stroke-width="0.5"/>
<circle cx="208.80" cy="229.26" r="1.05" fill="#2e7d3e" stroke="none" stroke-width="0.5"/>
<circle cx="207.60" cy="224.35" r="1.05" fill="#2e7d3e" stroke="none" stroke-width="0.5"/>
<rect x="212.90" y="219.44" width="5.80" height="40.26" fill="#abb7e0" stroke="#7f8fc8" stroke-width="0.5"/>
<line x1="215.80" y1="217.47" x2="215.80" y2="221.40" stroke="#333" stroke-width="0.6"/>
<line x1="214.60" y1="217.47" x2="217.00" y2="217.47" stroke="#333" stroke-width="0.6"/>
<circle cx="214.60" cy="216.49" r="1.05" fill="#1c2a6a" stroke="none" stroke-width="0.5"/>
<circle cx="217.00" cy="220.42" r="1.05" fill="#1c2a6a" stroke="none" stroke-width="0.5"/>
<circle cx="215.80" cy="219.44" r="1.05" fill="#1c2a6a" stroke="none" stroke-width="0.5"/>
<rect x="221.70" y="224.84" width="5.80" height="34.86" fill="#f5a394" stroke="#e07a6a" stroke-width="0.5"/>
<line x1="224.60" y1="224.35" x2="224.60" y2="225.33" stroke="#333" stroke-width="0.6"/>
<line x1="223.40" y1="224.35" x2="225.80" y2="224.35" stroke="#333" stroke-width="0.6"/>
<circle cx="223.40" cy="224.35" r="1.05" fill="#b01c1c" stroke="none" stroke-width="0.5"/>
<circle cx="225.80" cy="224.84" r="1.05" fill="#b01c1c" stroke="none" stroke-width="0.5"/>
<circle cx="224.60" cy="225.33" r="1.05" fill="#b01c1c" stroke="none" stroke-width="0.5"/>
<circle cx="236.40" cy="258.70" r="0.90" fill="none" stroke="#8a8a8a" stroke-width="0.5"/>
<circle cx="239.20" cy="258.70" r="0.90" fill="none" stroke="#8a8a8a" stroke-width="0.5"/>
<rect x="243.30" y="221.40" width="5.80" height="38.30" fill="#8fd0a0" stroke="#5fae74" stroke-width="0.5"/>
<line x1="246.20" y1="220.42" x2="246.20" y2="222.38" stroke="#2e6e3a" stroke-width="0.6"/>
<line x1="245.00" y1="220.42" x2="247.40" y2="220.42" stroke="#333" stroke-width="0.6"/>
<circle cx="245.00" cy="220.42" r="1.05" fill="#2e7d3e" stroke="none" stroke-width="0.5"/>
<circle cx="247.40" cy="221.40" r="1.05" fill="#2e7d3e" stroke="none" stroke-width="0.5"/>
<circle cx="246.20" cy="221.89" r="1.05" fill="#2e7d3e" stroke="none" stroke-width="0.5"/>
<rect x="251.70" y="220.42" width="5.80" height="39.28" fill="#abb7e0" stroke="#7f8fc8" stroke-width="0.5"/>
<line x1="254.60" y1="218.46" x2="254.60" y2="222.38" stroke="#333" stroke-width="0.6"/>
<line x1="253.40" y1="218.46" x2="255.80" y2="218.46" stroke="#333" stroke-width="0.6"/>
<circle cx="253.40" cy="217.47" r="1.05" fill="#1c2a6a" stroke="none" stroke-width="0.5"/>
<circle cx="255.80" cy="220.91" r="1.05" fill="#1c2a6a" stroke="none" stroke-width="0.5"/>
<circle cx="254.60" cy="222.38" r="1.05" fill="#1c2a6a" stroke="none" stroke-width="0.5"/>
<rect x="260.30" y="225.33" width="5.80" height="34.37" fill="#f5a394" stroke="#e07a6a" stroke-width="0.5"/>
<line x1="263.20" y1="223.37" x2="263.20" y2="227.29" stroke="#333" stroke-width="0.6"/>
<line x1="262.00" y1="223.37" x2="264.40" y2="223.37" stroke="#333" stroke-width="0.6"/>
<circle cx="262.00" cy="222.38" r="1.05" fill="#b01c1c" stroke="none" stroke-width="0.5"/>
<circle cx="264.40" cy="226.31" r="1.05" fill="#b01c1c" stroke="none" stroke-width="0.5"/>
<circle cx="263.20" cy="226.31" r="1.05" fill="#b01c1c" stroke="none" stroke-width="0.5"/>
<line x1="192.70" y1="260.15" x2="267.50" y2="260.15" stroke="#333" stroke-width="0.9"/>
<line x1="211.60" y1="260.15" x2="211.60" y2="262.70" stroke="#333" stroke-width="0.8"/>
<line x1="250.50" y1="260.15" x2="250.50" y2="262.70" stroke="#333" stroke-width="0.8"/>
<text x="211.60" y="270.49" font-size="8.3" text-anchor="middle" font-weight="normal" fill="#1a1a1a">3</text>
<text x="250.50" y="270.49" font-size="8.3" text-anchor="middle" font-weight="normal" fill="#1a1a1a">7</text>
<text x="234.50" y="279.64" font-size="8.45" text-anchor="middle" font-weight="normal" fill="#1a1a1a">Days posttreatment</text>
<text x="236.00" y="180.32" font-size="8.4" text-anchor="middle" font-weight="normal" fill="#1a1a1a">Donor CD8 cells</text>
<text x="168.80" y="237.92" font-size="8.1" text-anchor="middle" font-weight="normal" fill="#1a1a1a" transform="rotate(-90 168.80 235.00)">% of Donor T cells</text>
<line x1="333.00" y1="210.00" x2="333.00" y2="259.95" stroke="#333" stroke-width="0.9"/>
<line x1="330.40" y1="259.50" x2="333.00" y2="259.50" stroke="#333" stroke-width="0.9"/>
<text x="329.60" y="262.31" font-size="7.8" text-anchor="end" font-weight="normal" fill="#1a1a1a">0</text>
<line x1="330.40" y1="247.12" x2="333.00" y2="247.12" stroke="#333" stroke-width="0.9"/>
<text x="329.60" y="249.93" font-size="7.8" text-anchor="end" font-weight="normal" fill="#1a1a1a">10</text>
<line x1="330.40" y1="234.75" x2="333.00" y2="234.75" stroke="#333" stroke-width="0.9"/>
<text x="329.60" y="237.56" font-size="7.8" text-anchor="end" font-weight="normal" fill="#1a1a1a">20</text>
<line x1="330.40" y1="222.38" x2="333.00" y2="222.38" stroke="#333" stroke-width="0.9"/>
<text x="329.60" y="225.18" font-size="7.8" text-anchor="end" font-weight="normal" fill="#1a1a1a">30</text>
<line x1="330.40" y1="210.00" x2="333.00" y2="210.00" stroke="#333" stroke-width="0.9"/>
<text x="329.60" y="212.81" font-size="7.8" text-anchor="end" font-weight="normal" fill="#1a1a1a">40</text>
<circle cx="336.20" cy="258.50" r="0.90" fill="none" stroke="#8a8a8a" stroke-width="0.5"/>
<circle cx="339.00" cy="258.50" r="0.90" fill="none" stroke="#8a8a8a" stroke-width="0.5"/>
<rect x="342.90" y="243.41" width="5.80" height="16.09" fill="#8fd0a0" stroke="#5fae74" stroke-width="0.5"/>
<line x1="345.80" y1="238.46" x2="345.80" y2="248.36" stroke="#2e6e3a" stroke-width="0.6"/>
<line x1="344.60" y1="238.46" x2="347.00" y2="238.46" stroke="#333" stroke-width="0.6"/>
<circle cx="344.60" cy="234.75" r="1.05" fill="#2e7d3e" stroke="none" stroke-width="0.5"/>
<circle cx="347.00" cy="248.36" r="1.05" fill="#2e7d3e" stroke="none" stroke-width="0.5"/>
<circle cx="345.80" cy="244.65" r="1.05" fill="#2e7d3e" stroke="none" stroke-width="0.5"/>
<rect x="351.20" y="250.84" width="5.80" height="8.66" fill="#abb7e0" stroke="#7f8fc8" stroke-width="0.5"/>
<line x1="354.10" y1="249.60" x2="354.10" y2="252.08" stroke="#333" stroke-width="0.6"/>
<line x1="352.90" y1="249.60" x2="355.30" y2="249.60" stroke="#333" stroke-width="0.6"/>
<circle cx="352.90" cy="250.84" r="1.05" fill="#1c2a6a" stroke="none" stroke-width="0.5"/>
<circle cx="355.30" cy="252.07" r="1.05" fill="#1c2a6a" stroke="none" stroke-width="0.5"/>
<circle cx="354.10" cy="250.84" r="1.05" fill="#1c2a6a" stroke="none" stroke-width="0.5"/>
<rect x="360.00" y="216.19" width="5.80" height="43.31" fill="#f5a394" stroke="#e07a6a" stroke-width="0.5"/>
<line x1="362.90" y1="212.47" x2="362.90" y2="219.90" stroke="#333" stroke-width="0.6"/>
<line x1="361.70" y1="212.47" x2="364.10" y2="212.47" stroke="#333" stroke-width="0.6"/>
<circle cx="361.70" cy="212.47" r="1.05" fill="#b01c1c" stroke="none" stroke-width="0.5"/>
<circle cx="364.10" cy="221.14" r="1.05" fill="#b01c1c" stroke="none" stroke-width="0.5"/>
<circle cx="362.90" cy="214.95" r="1.05" fill="#b01c1c" stroke="none" stroke-width="0.5"/>
<circle cx="374.40" cy="258.50" r="0.90" fill="none" stroke="#8a8a8a" stroke-width="0.5"/>
<circle cx="377.20" cy="258.50" r="0.90" fill="none" stroke="#8a8a8a" stroke-width="0.5"/>
<rect x="381.90" y="253.31" width="5.80" height="6.19" fill="#8fd0a0" stroke="#5fae74" stroke-width="0.5"/>
<line x1="384.80" y1="249.60" x2="384.80" y2="257.02" stroke="#2e6e3a" stroke-width="0.6"/>
<line x1="383.60" y1="249.60" x2="386.00" y2="249.60" stroke="#333" stroke-width="0.6"/>
<circle cx="383.60" cy="248.36" r="1.05" fill="#2e7d3e" stroke="none" stroke-width="0.5"/>
<circle cx="386.00" cy="255.79" r="1.05" fill="#2e7d3e" stroke="none" stroke-width="0.5"/>
<circle cx="384.80" cy="254.55" r="1.05" fill="#2e7d3e" stroke="none" stroke-width="0.5"/>
<rect x="390.20" y="255.79" width="5.80" height="3.71" fill="#abb7e0" stroke="#7f8fc8" stroke-width="0.5"/>
<line x1="393.10" y1="254.55" x2="393.10" y2="257.02" stroke="#333" stroke-width="0.6"/>
<line x1="391.90" y1="254.55" x2="394.30" y2="254.55" stroke="#333" stroke-width="0.6"/>
<circle cx="391.90" cy="253.31" r="1.05" fill="#1c2a6a" stroke="none" stroke-width="0.5"/>
<circle cx="394.30" cy="257.02" r="1.05" fill="#1c2a6a" stroke="none" stroke-width="0.5"/>
<circle cx="393.10" cy="255.79" r="1.05" fill="#1c2a6a" stroke="none" stroke-width="0.5"/>
<rect x="399.10" y="244.65" width="5.80" height="14.85" fill="#f5a394" stroke="#e07a6a" stroke-width="0.5"/>
<line x1="402.00" y1="238.46" x2="402.00" y2="250.84" stroke="#333" stroke-width="0.6"/>
<line x1="400.80" y1="238.46" x2="403.20" y2="238.46" stroke="#333" stroke-width="0.6"/>
<circle cx="400.80" cy="232.28" r="1.05" fill="#b01c1c" stroke="none" stroke-width="0.5"/>
<circle cx="403.20" cy="254.55" r="1.05" fill="#b01c1c" stroke="none" stroke-width="0.5"/>
<circle cx="402.00" cy="247.12" r="1.05" fill="#b01c1c" stroke="none" stroke-width="0.5"/>
<line x1="333.00" y1="259.95" x2="406.50" y2="259.95" stroke="#333" stroke-width="0.9"/>
<line x1="350.25" y1="259.95" x2="350.25" y2="262.50" stroke="#333" stroke-width="0.8"/>
<line x1="388.90" y1="259.95" x2="388.90" y2="262.50" stroke="#333" stroke-width="0.8"/>
<text x="350.25" y="270.29" font-size="8.3" text-anchor="middle" font-weight="normal" fill="#1a1a1a">3</text>
<text x="388.90" y="270.29" font-size="8.3" text-anchor="middle" font-weight="normal" fill="#1a1a1a">7</text>
<text x="371.50" y="280.64" font-size="8.45" text-anchor="middle" font-weight="normal" fill="#1a1a1a">Days posttreatment</text>
<text x="378.50" y="180.32" font-size="8.4" text-anchor="middle" font-weight="normal" fill="#1a1a1a">Donor effector memory cells</text>
<text x="311.50" y="238.92" font-size="8.1" text-anchor="middle" font-weight="normal" fill="#1a1a1a" transform="rotate(-90 311.50 236.00)">% of CD8 T cells</text>
<line x1="337.60" y1="192.00" x2="362.90" y2="192.00" stroke="#444" stroke-width="0.85"/>
<text x="350.25" y="192.20" font-size="8.2" text-anchor="middle" font-weight="normal" fill="#222">****</text>
<line x1="345.80" y1="201.20" x2="362.90" y2="201.20" stroke="#444" stroke-width="0.85"/>
<text x="354.35" y="201.40" font-size="8.2" text-anchor="middle" font-weight="normal" fill="#222">**</text>
<line x1="354.10" y1="209.20" x2="362.90" y2="209.20" stroke="#444" stroke-width="0.85"/>
<text x="358.50" y="209.40" font-size="8.2" text-anchor="middle" font-weight="normal" fill="#222">****</text>
<circle cx="421.80" cy="191.20" r="1.00" fill="#aaa" stroke="none" stroke-width="0.5"/>
<text x="427.20" y="194.15" font-size="8.2" text-anchor="start" font-weight="normal" fill="#1a1a1a">Control</text>
<circle cx="421.80" cy="200.60" r="1.00" fill="#666" stroke="none" stroke-width="0.5"/>
<text x="427.20" y="203.55" font-size="8.2" text-anchor="start" font-weight="normal" fill="#1a1a1a">Sham+TA99</text>
<circle cx="421.80" cy="209.80" r="1.00" fill="#333" stroke="none" stroke-width="0.5"/>
<text x="427.20" y="212.75" font-size="8.2" text-anchor="start" font-weight="normal" fill="#1a1a1a">AG2G</text>
<circle cx="421.80" cy="219.50" r="1.00" fill="#111" stroke="none" stroke-width="0.5"/>
<text x="427.20" y="222.45" font-size="8.2" text-anchor="start" font-weight="normal" fill="#1a1a1a">AG2G+TA99</text>
<text x="1.50" y="314.50" font-size="15.2" font-weight="bold" fill="#000">D</text>
<line x1="45.00" y1="340.00" x2="45.00" y2="386.75" stroke="#333" stroke-width="0.9"/>
<line x1="42.40" y1="386.30" x2="45.00" y2="386.30" stroke="#333" stroke-width="0.9"/>
<text x="41.60" y="389.11" font-size="7.8" text-anchor="end" font-weight="normal" fill="#1a1a1a">0</text>
<line x1="42.40" y1="377.04" x2="45.00" y2="377.04" stroke="#333" stroke-width="0.9"/>
<text x="41.60" y="379.85" font-size="7.8" text-anchor="end" font-weight="normal" fill="#1a1a1a">20</text>
<line x1="42.40" y1="367.78" x2="45.00" y2="367.78" stroke="#333" stroke-width="0.9"/>
<text x="41.60" y="370.59" font-size="7.8" text-anchor="end" font-weight="normal" fill="#1a1a1a">40</text>
<line x1="42.40" y1="358.52" x2="45.00" y2="358.52" stroke="#333" stroke-width="0.9"/>
<text x="41.60" y="361.33" font-size="7.8" text-anchor="end" font-weight="normal" fill="#1a1a1a">60</text>
<line x1="42.40" y1="349.26" x2="45.00" y2="349.26" stroke="#333" stroke-width="0.9"/>
<text x="41.60" y="352.07" font-size="7.8" text-anchor="end" font-weight="normal" fill="#1a1a1a">80</text>
<line x1="42.40" y1="340.00" x2="45.00" y2="340.00" stroke="#333" stroke-width="0.9"/>
<text x="41.60" y="342.81" font-size="7.8" text-anchor="end" font-weight="normal" fill="#1a1a1a">100</text>
<rect x="47.10" y="376.11" width="5.80" height="10.19" fill="#bdbdbd" stroke="#8a8a8a" stroke-width="0.5"/>
<line x1="50.00" y1="372.87" x2="50.00" y2="379.36" stroke="#333" stroke-width="0.6"/>
<line x1="48.80" y1="372.87" x2="51.20" y2="372.87" stroke="#333" stroke-width="0.6"/>
<circle cx="48.80" cy="372.41" r="1.05" fill="#555555" stroke="none" stroke-width="0.5"/>
<circle cx="51.20" cy="379.36" r="1.05" fill="#555555" stroke="none" stroke-width="0.5"/>
<circle cx="50.00" cy="376.11" r="1.05" fill="#555555" stroke="none" stroke-width="0.5"/>
<rect x="55.10" y="375.19" width="5.80" height="11.11" fill="#8fd0a0" stroke="#5fae74" stroke-width="0.5"/>
<line x1="58.00" y1="373.34" x2="58.00" y2="377.04" stroke="#2e6e3a" stroke-width="0.6"/>
<line x1="56.80" y1="373.34" x2="59.20" y2="373.34" stroke="#333" stroke-width="0.6"/>
<circle cx="56.80" cy="373.80" r="1.05" fill="#2e7d3e" stroke="none" stroke-width="0.5"/>
<circle cx="59.20" cy="376.11" r="1.05" fill="#2e7d3e" stroke="none" stroke-width="0.5"/>
<circle cx="58.00" cy="374.73" r="1.05" fill="#2e7d3e" stroke="none" stroke-width="0.5"/>
<rect x="62.70" y="379.82" width="5.80" height="6.48" fill="#abb7e0" stroke="#7f8fc8" stroke-width="0.5"/>
<line x1="65.60" y1="378.89" x2="65.60" y2="380.74" stroke="#333" stroke-width="0.6"/>
<line x1="64.40" y1="378.89" x2="66.80" y2="378.89" stroke="#333" stroke-width="0.6"/>
<circle cx="64.40" cy="379.82" r="1.05" fill="#1c2a6a" stroke="none" stroke-width="0.5"/>
<circle cx="66.80" cy="380.28" r="1.05" fill="#1c2a6a" stroke="none" stroke-width="0.5"/>
<circle cx="65.60" cy="379.36" r="1.05" fill="#1c2a6a" stroke="none" stroke-width="0.5"/>
<rect x="70.80" y="375.65" width="5.80" height="10.65" fill="#f5a394" stroke="#e07a6a" stroke-width="0.5"/>
<line x1="73.70" y1="371.48" x2="73.70" y2="379.82" stroke="#333" stroke-width="0.6"/>
<line x1="72.50" y1="371.48" x2="74.90" y2="371.48" stroke="#333" stroke-width="0.6"/>
<circle cx="72.50" cy="367.78" r="1.05" fill="#b01c1c" stroke="none" stroke-width="0.5"/>
<circle cx="74.90" cy="380.74" r="1.05" fill="#b01c1c" stroke="none" stroke-width="0.5"/>
<circle cx="73.70" cy="377.97" r="1.05" fill="#b01c1c" stroke="none" stroke-width="0.5"/>
<rect x="84.10" y="382.13" width="5.80" height="4.17" fill="#bdbdbd" stroke="#8a8a8a" stroke-width="0.5"/>
<line x1="87.00" y1="379.36" x2="87.00" y2="384.91" stroke="#333" stroke-width="0.6"/>
<line x1="85.80" y1="379.36" x2="88.20" y2="379.36" stroke="#333" stroke-width="0.6"/>
<circle cx="85.80" cy="378.89" r="1.05" fill="#555555" stroke="none" stroke-width="0.5"/>
<circle cx="88.20" cy="384.45" r="1.05" fill="#555555" stroke="none" stroke-width="0.5"/>
<circle cx="87.00" cy="383.06" r="1.05" fill="#555555" stroke="none" stroke-width="0.5"/>
<rect x="91.70" y="350.65" width="5.80" height="35.65" fill="#8fd0a0" stroke="#5fae74" stroke-width="0.5"/>
<line x1="94.60" y1="346.48" x2="94.60" y2="354.82" stroke="#2e6e3a" stroke-width="0.6"/>
<line x1="93.40" y1="346.48" x2="95.80" y2="346.48" stroke="#333" stroke-width="0.6"/>
<circle cx="93.40" cy="346.48" r="1.05" fill="#2e7d3e" stroke="none" stroke-width="0.5"/>
<circle cx="95.80" cy="356.20" r="1.05" fill="#2e7d3e" stroke="none" stroke-width="0.5"/>
<circle cx="94.60" cy="349.26" r="1.05" fill="#2e7d3e" stroke="none" stroke-width="0.5"/>
<rect x="99.50" y="353.89" width="5.80" height="32.41" fill="#abb7e0" stroke="#7f8fc8" stroke-width="0.5"/>
<line x1="102.40" y1="352.04" x2="102.40" y2="355.74" stroke="#333" stroke-width="0.6"/>
<line x1="101.20" y1="352.04" x2="103.60" y2="352.04" stroke="#333" stroke-width="0.6"/>
<circle cx="101.20" cy="352.04" r="1.05" fill="#1c2a6a" stroke="none" stroke-width="0.5"/>
<circle cx="103.60" cy="353.89" r="1.05" fill="#1c2a6a" stroke="none" stroke-width="0.5"/>
<circle cx="102.40" cy="354.82" r="1.05" fill="#1c2a6a" stroke="none" stroke-width="0.5"/>
<rect x="107.20" y="368.71" width="5.80" height="17.59" fill="#f5a394" stroke="#e07a6a" stroke-width="0.5"/>
<line x1="110.10" y1="364.08" x2="110.10" y2="373.34" stroke="#333" stroke-width="0.6"/>
<line x1="108.90" y1="364.08" x2="111.30" y2="364.08" stroke="#333" stroke-width="0.6"/>
<circle cx="108.90" cy="364.08" r="1.05" fill="#b01c1c" stroke="none" stroke-width="0.5"/>
<circle cx="111.30" cy="377.04" r="1.05" fill="#b01c1c" stroke="none" stroke-width="0.5"/>
<circle cx="110.10" cy="366.85" r="1.05" fill="#b01c1c" stroke="none" stroke-width="0.5"/>
<line x1="45.00" y1="386.75" x2="114.50" y2="386.75" stroke="#333" stroke-width="0.9"/>
<line x1="61.85" y1="386.75" x2="61.85" y2="389.30" stroke="#333" stroke-width="0.8"/>
<line x1="98.55" y1="386.75" x2="98.55" y2="389.30" stroke="#333" stroke-width="0.8"/>
<text x="61.85" y="397.09" font-size="8.3" text-anchor="middle" font-weight="normal" fill="#1a1a1a">3</text>
<text x="98.55" y="397.09" font-size="8.3" text-anchor="middle" font-weight="normal" fill="#1a1a1a">7</text>
<text x="85.00" y="403.04" font-size="8.45" text-anchor="middle" font-weight="normal" fill="#1a1a1a">Days posttreatment</text>
<text x="89.00" y="312.02" font-size="8.4" text-anchor="middle" font-weight="normal" fill="#1a1a1a">Host CD8 cells</text>
<text x="19.30" y="364.92" font-size="8.1" text-anchor="middle" font-weight="normal" fill="#1a1a1a" transform="rotate(-90 19.30 362.00)">% of host T cells</text>
<line x1="58.80" y1="328.80" x2="94.60" y2="328.80" stroke="#444" stroke-width="0.85"/>
<text x="76.70" y="329.00" font-size="8.2" text-anchor="middle" font-weight="normal" fill="#222">**</text>
<line x1="66.00" y1="336.60" x2="102.40" y2="336.60" stroke="#444" stroke-width="0.85"/>
<text x="84.20" y="336.80" font-size="8.2" text-anchor="middle" font-weight="normal" fill="#222">**</text>
<line x1="87.00" y1="343.00" x2="94.60" y2="343.00" stroke="#444" stroke-width="0.85"/>
<text x="90.80" y="343.20" font-size="8.2" text-anchor="middle" font-weight="normal" fill="#222">**</text>
<text x="135.60" y="315.10" font-size="15.2" font-weight="bold" fill="#000">E</text>
<line x1="164.30" y1="339.30" x2="164.30" y2="386.75" stroke="#333" stroke-width="0.9"/>
<line x1="161.70" y1="386.30" x2="164.30" y2="386.30" stroke="#333" stroke-width="0.9"/>
<text x="160.90" y="389.11" font-size="7.8" text-anchor="end" font-weight="normal" fill="#1a1a1a">0</text>
<line x1="161.70" y1="376.90" x2="164.30" y2="376.90" stroke="#333" stroke-width="0.9"/>
<text x="160.90" y="379.71" font-size="7.8" text-anchor="end" font-weight="normal" fill="#1a1a1a">20</text>
<line x1="161.70" y1="367.50" x2="164.30" y2="367.50" stroke="#333" stroke-width="0.9"/>
<text x="160.90" y="370.31" font-size="7.8" text-anchor="end" font-weight="normal" fill="#1a1a1a">40</text>
<line x1="161.70" y1="358.10" x2="164.30" y2="358.10" stroke="#333" stroke-width="0.9"/>
<text x="160.90" y="360.91" font-size="7.8" text-anchor="end" font-weight="normal" fill="#1a1a1a">60</text>
<line x1="161.70" y1="348.70" x2="164.30" y2="348.70" stroke="#333" stroke-width="0.9"/>
<text x="160.90" y="351.51" font-size="7.8" text-anchor="end" font-weight="normal" fill="#1a1a1a">80</text>
<line x1="161.70" y1="339.30" x2="164.30" y2="339.30" stroke="#333" stroke-width="0.9"/>
<text x="160.90" y="342.11" font-size="7.8" text-anchor="end" font-weight="normal" fill="#1a1a1a">100</text>
<rect x="166.70" y="354.81" width="5.80" height="31.49" fill="#bdbdbd" stroke="#8a8a8a" stroke-width="0.5"/>
<line x1="169.60" y1="351.05" x2="169.60" y2="358.57" stroke="#333" stroke-width="0.6"/>
<line x1="168.40" y1="351.05" x2="170.80" y2="351.05" stroke="#333" stroke-width="0.6"/>
<circle cx="168.40" cy="350.58" r="1.05" fill="#555555" stroke="none" stroke-width="0.5"/>
<circle cx="170.80" cy="359.04" r="1.05" fill="#555555" stroke="none" stroke-width="0.5"/>
<circle cx="169.60" cy="354.81" r="1.05" fill="#555555" stroke="none" stroke-width="0.5"/>
<rect x="174.50" y="373.61" width="5.80" height="12.69" fill="#8fd0a0" stroke="#5fae74" stroke-width="0.5"/>
<line x1="177.40" y1="369.85" x2="177.40" y2="377.37" stroke="#2e6e3a" stroke-width="0.6"/>
<line x1="176.20" y1="369.85" x2="178.60" y2="369.85" stroke="#333" stroke-width="0.6"/>
<circle cx="176.20" cy="366.56" r="1.05" fill="#2e7d3e" stroke="none" stroke-width="0.5"/>
<circle cx="178.60" cy="375.96" r="1.05" fill="#2e7d3e" stroke="none" stroke-width="0.5"/>
<circle cx="177.40" cy="377.84" r="1.05" fill="#2e7d3e" stroke="none" stroke-width="0.5"/>
<rect x="182.20" y="375.96" width="5.80" height="10.34" fill="#abb7e0" stroke="#7f8fc8" stroke-width="0.5"/>
<line x1="185.10" y1="374.55" x2="185.10" y2="377.37" stroke="#333" stroke-width="0.6"/>
<line x1="183.90" y1="374.55" x2="186.30" y2="374.55" stroke="#333" stroke-width="0.6"/>
<circle cx="183.90" cy="375.49" r="1.05" fill="#1c2a6a" stroke="none" stroke-width="0.5"/>
<circle cx="186.30" cy="376.90" r="1.05" fill="#1c2a6a" stroke="none" stroke-width="0.5"/>
<circle cx="185.10" cy="375.96" r="1.05" fill="#1c2a6a" stroke="none" stroke-width="0.5"/>
<rect x="189.70" y="381.13" width="5.80" height="5.17" fill="#f5a394" stroke="#e07a6a" stroke-width="0.5"/>
<line x1="192.60" y1="379.25" x2="192.60" y2="383.01" stroke="#333" stroke-width="0.6"/>
<line x1="191.40" y1="379.25" x2="193.80" y2="379.25" stroke="#333" stroke-width="0.6"/>
<circle cx="191.40" cy="377.84" r="1.05" fill="#b01c1c" stroke="none" stroke-width="0.5"/>
<circle cx="193.80" cy="382.54" r="1.05" fill="#b01c1c" stroke="none" stroke-width="0.5"/>
<circle cx="192.60" cy="382.54" r="1.05" fill="#b01c1c" stroke="none" stroke-width="0.5"/>
<rect x="202.60" y="341.65" width="5.80" height="44.65" fill="#bdbdbd" stroke="#8a8a8a" stroke-width="0.5"/>
<line x1="205.50" y1="341.18" x2="205.50" y2="342.12" stroke="#333" stroke-width="0.6"/>
<line x1="204.30" y1="341.18" x2="206.70" y2="341.18" stroke="#333" stroke-width="0.6"/>
<circle cx="204.30" cy="341.65" r="1.05" fill="#555555" stroke="none" stroke-width="0.5"/>
<circle cx="206.70" cy="341.65" r="1.05" fill="#555555" stroke="none" stroke-width="0.5"/>
<circle cx="205.50" cy="341.65" r="1.05" fill="#555555" stroke="none" stroke-width="0.5"/>
<rect x="210.30" y="369.38" width="5.80" height="16.92" fill="#8fd0a0" stroke="#5fae74" stroke-width="0.5"/>
<line x1="213.20" y1="367.50" x2="213.20" y2="371.26" stroke="#2e6e3a" stroke-width="0.6"/>
<line x1="212.00" y1="367.50" x2="214.40" y2="367.50" stroke="#333" stroke-width="0.6"/>
<circle cx="212.00" cy="367.50" r="1.05" fill="#2e7d3e" stroke="none" stroke-width="0.5"/>
<circle cx="214.40" cy="370.32" r="1.05" fill="#2e7d3e" stroke="none" stroke-width="0.5"/>
<circle cx="213.20" cy="369.38" r="1.05" fill="#2e7d3e" stroke="none" stroke-width="0.5"/>
<rect x="218.40" y="371.26" width="5.80" height="15.04" fill="#abb7e0" stroke="#7f8fc8" stroke-width="0.5"/>
<line x1="221.30" y1="367.50" x2="221.30" y2="375.02" stroke="#333" stroke-width="0.6"/>
<line x1="220.10" y1="367.50" x2="222.50" y2="367.50" stroke="#333" stroke-width="0.6"/>
<circle cx="220.10" cy="363.74" r="1.05" fill="#1c2a6a" stroke="none" stroke-width="0.5"/>
<circle cx="222.50" cy="374.08" r="1.05" fill="#1c2a6a" stroke="none" stroke-width="0.5"/>
<circle cx="221.30" cy="375.96" r="1.05" fill="#1c2a6a" stroke="none" stroke-width="0.5"/>
<rect x="226.50" y="376.90" width="5.80" height="9.40" fill="#f5a394" stroke="#e07a6a" stroke-width="0.5"/>
<line x1="229.40" y1="372.67" x2="229.40" y2="381.13" stroke="#333" stroke-width="0.6"/>
<line x1="228.20" y1="372.67" x2="230.60" y2="372.67" stroke="#333" stroke-width="0.6"/>
<circle cx="228.20" cy="367.50" r="1.05" fill="#b01c1c" stroke="none" stroke-width="0.5"/>
<circle cx="230.60" cy="380.66" r="1.05" fill="#b01c1c" stroke="none" stroke-width="0.5"/>
<circle cx="229.40" cy="378.78" r="1.05" fill="#b01c1c" stroke="none" stroke-width="0.5"/>
<line x1="164.30" y1="386.75" x2="233.50" y2="386.75" stroke="#333" stroke-width="0.9"/>
<line x1="181.10" y1="386.75" x2="181.10" y2="389.30" stroke="#333" stroke-width="0.8"/>
<line x1="217.45" y1="386.75" x2="217.45" y2="389.30" stroke="#333" stroke-width="0.8"/>
<text x="181.10" y="397.09" font-size="8.3" text-anchor="middle" font-weight="normal" fill="#1a1a1a">3</text>
<text x="217.45" y="397.09" font-size="8.3" text-anchor="middle" font-weight="normal" fill="#1a1a1a">7</text>
<text x="205.00" y="403.04" font-size="8.45" text-anchor="middle" font-weight="normal" fill="#1a1a1a">Days posttreatment</text>
<text x="208.20" y="311.82" font-size="8.4" text-anchor="middle" font-weight="normal" fill="#1a1a1a">Host T cells</text>
<text x="138.80" y="366.42" font-size="8.1" text-anchor="middle" font-weight="normal" fill="#1a1a1a" transform="rotate(-90 138.80 363.50)">% of total T cells</text>
<line x1="169.60" y1="320.00" x2="192.60" y2="320.00" stroke="#444" stroke-width="0.85"/>
<text x="181.10" y="320.20" font-size="8.2" text-anchor="middle" font-weight="normal" fill="#222">***</text>
<line x1="169.60" y1="328.80" x2="185.10" y2="328.80" stroke="#444" stroke-width="0.85"/>
<text x="177.35" y="329.00" font-size="8.2" text-anchor="middle" font-weight="normal" fill="#222">**</text>
<line x1="169.60" y1="336.40" x2="177.40" y2="336.40" stroke="#444" stroke-width="0.85"/>
<text x="173.50" y="336.60" font-size="8.2" text-anchor="middle" font-weight="normal" fill="#222">**</text>
<line x1="205.50" y1="320.00" x2="229.40" y2="320.00" stroke="#444" stroke-width="0.85"/>
<text x="217.45" y="320.20" font-size="8.2" text-anchor="middle" font-weight="normal" fill="#222">****</text>
<line x1="205.50" y1="328.80" x2="221.30" y2="328.80" stroke="#444" stroke-width="0.85"/>
<text x="213.40" y="329.00" font-size="8.2" text-anchor="middle" font-weight="normal" fill="#222">***</text>
<line x1="205.50" y1="336.40" x2="213.20" y2="336.40" stroke="#444" stroke-width="0.85"/>
<text x="209.35" y="336.60" font-size="8.2" text-anchor="middle" font-weight="normal" fill="#222">***</text>
<text x="262.50" y="314.90" font-size="15.2" font-weight="bold" fill="#000">F</text>
<line x1="290.00" y1="339.30" x2="290.00" y2="385.95" stroke="#333" stroke-width="0.9"/>
<line x1="287.40" y1="385.50" x2="290.00" y2="385.50" stroke="#333" stroke-width="0.9"/>
<text x="286.60" y="388.31" font-size="7.8" text-anchor="end" font-weight="normal" fill="#1a1a1a">0</text>
<line x1="287.40" y1="370.10" x2="290.00" y2="370.10" stroke="#333" stroke-width="0.9"/>
<text x="286.60" y="372.91" font-size="7.8" text-anchor="end" font-weight="normal" fill="#1a1a1a">20</text>
<line x1="287.40" y1="354.70" x2="290.00" y2="354.70" stroke="#333" stroke-width="0.9"/>
<text x="286.60" y="357.51" font-size="7.8" text-anchor="end" font-weight="normal" fill="#1a1a1a">40</text>
<line x1="287.40" y1="339.30" x2="290.00" y2="339.30" stroke="#333" stroke-width="0.9"/>
<text x="286.60" y="342.11" font-size="7.8" text-anchor="end" font-weight="normal" fill="#1a1a1a">60</text>
<rect x="292.90" y="370.10" width="5.80" height="15.40" fill="#bdbdbd" stroke="#8a8a8a" stroke-width="0.5"/>
<line x1="295.80" y1="362.40" x2="295.80" y2="377.80" stroke="#333" stroke-width="0.6"/>
<line x1="294.60" y1="362.40" x2="297.00" y2="362.40" stroke="#333" stroke-width="0.6"/>
<circle cx="294.60" cy="362.40" r="1.05" fill="#555555" stroke="none" stroke-width="0.5"/>
<circle cx="297.00" cy="376.26" r="1.05" fill="#555555" stroke="none" stroke-width="0.5"/>
<circle cx="295.80" cy="371.64" r="1.05" fill="#555555" stroke="none" stroke-width="0.5"/>
<rect x="300.50" y="361.63" width="5.80" height="23.87" fill="#8fd0a0" stroke="#5fae74" stroke-width="0.5"/>
<line x1="303.40" y1="355.47" x2="303.40" y2="367.79" stroke="#2e6e3a" stroke-width="0.6"/>
<line x1="302.20" y1="355.47" x2="304.60" y2="355.47" stroke="#333" stroke-width="0.6"/>
<circle cx="302.20" cy="350.85" r="1.05" fill="#2e7d3e" stroke="none" stroke-width="0.5"/>
<circle cx="304.60" cy="367.02" r="1.05" fill="#2e7d3e" stroke="none" stroke-width="0.5"/>
<circle cx="303.40" cy="366.25" r="1.05" fill="#2e7d3e" stroke="none" stroke-width="0.5"/>
<rect x="308.40" y="367.02" width="5.80" height="18.48" fill="#abb7e0" stroke="#7f8fc8" stroke-width="0.5"/>
<line x1="311.30" y1="363.94" x2="311.30" y2="370.10" stroke="#333" stroke-width="0.6"/>
<line x1="310.10" y1="363.94" x2="312.50" y2="363.94" stroke="#333" stroke-width="0.6"/>
<circle cx="310.10" cy="363.17" r="1.05" fill="#1c2a6a" stroke="none" stroke-width="0.5"/>
<circle cx="312.50" cy="368.56" r="1.05" fill="#1c2a6a" stroke="none" stroke-width="0.5"/>
<circle cx="311.30" cy="367.02" r="1.05" fill="#1c2a6a" stroke="none" stroke-width="0.5"/>
<rect x="316.40" y="368.56" width="5.80" height="16.94" fill="#f5a394" stroke="#e07a6a" stroke-width="0.5"/>
<line x1="319.30" y1="361.63" x2="319.30" y2="375.49" stroke="#333" stroke-width="0.6"/>
<line x1="318.10" y1="361.63" x2="320.50" y2="361.63" stroke="#333" stroke-width="0.6"/>
<circle cx="318.10" cy="354.70" r="1.05" fill="#b01c1c" stroke="none" stroke-width="0.5"/>
<circle cx="320.50" cy="376.26" r="1.05" fill="#b01c1c" stroke="none" stroke-width="0.5"/>
<circle cx="319.30" cy="373.95" r="1.05" fill="#b01c1c" stroke="none" stroke-width="0.5"/>
<rect x="328.90" y="379.34" width="5.80" height="6.16" fill="#bdbdbd" stroke="#8a8a8a" stroke-width="0.5"/>
<line x1="331.80" y1="374.72" x2="331.80" y2="383.96" stroke="#333" stroke-width="0.6"/>
<line x1="330.60" y1="374.72" x2="333.00" y2="374.72" stroke="#333" stroke-width="0.6"/>
<circle cx="330.60" cy="374.72" r="1.05" fill="#555555" stroke="none" stroke-width="0.5"/>
<circle cx="333.00" cy="382.42" r="1.05" fill="#555555" stroke="none" stroke-width="0.5"/>
<circle cx="331.80" cy="380.88" r="1.05" fill="#555555" stroke="none" stroke-width="0.5"/>
<rect x="336.70" y="370.87" width="5.80" height="14.63" fill="#8fd0a0" stroke="#5fae74" stroke-width="0.5"/>
<line x1="339.60" y1="366.25" x2="339.60" y2="375.49" stroke="#2e6e3a" stroke-width="0.6"/>
<line x1="338.40" y1="366.25" x2="340.80" y2="366.25" stroke="#333" stroke-width="0.6"/>
<circle cx="338.40" cy="367.02" r="1.05" fill="#2e7d3e" stroke="none" stroke-width="0.5"/>
<circle cx="340.80" cy="372.41" r="1.05" fill="#2e7d3e" stroke="none" stroke-width="0.5"/>
<circle cx="339.60" cy="373.18" r="1.05" fill="#2e7d3e" stroke="none" stroke-width="0.5"/>
<rect x="344.60" y="370.10" width="5.80" height="15.40" fill="#abb7e0" stroke="#7f8fc8" stroke-width="0.5"/>
<line x1="347.50" y1="365.48" x2="347.50" y2="374.72" stroke="#333" stroke-width="0.6"/>
<line x1="346.30" y1="365.48" x2="348.70" y2="365.48" stroke="#333" stroke-width="0.6"/>
<circle cx="346.30" cy="363.94" r="1.05" fill="#1c2a6a" stroke="none" stroke-width="0.5"/>
<circle cx="348.70" cy="371.64" r="1.05" fill="#1c2a6a" stroke="none" stroke-width="0.5"/>
<circle cx="347.50" cy="373.18" r="1.05" fill="#1c2a6a" stroke="none" stroke-width="0.5"/>
<rect x="352.60" y="360.09" width="5.80" height="25.41" fill="#f5a394" stroke="#e07a6a" stroke-width="0.5"/>
<line x1="355.50" y1="351.62" x2="355.50" y2="368.56" stroke="#333" stroke-width="0.6"/>
<line x1="354.30" y1="351.62" x2="356.70" y2="351.62" stroke="#333" stroke-width="0.6"/>
<circle cx="354.30" cy="344.69" r="1.05" fill="#b01c1c" stroke="none" stroke-width="0.5"/>
<circle cx="356.70" cy="368.56" r="1.05" fill="#b01c1c" stroke="none" stroke-width="0.5"/>
<circle cx="355.50" cy="366.25" r="1.05" fill="#b01c1c" stroke="none" stroke-width="0.5"/>
<line x1="290.00" y1="385.95" x2="360.00" y2="385.95" stroke="#333" stroke-width="0.9"/>
<line x1="307.55" y1="385.95" x2="307.55" y2="388.50" stroke="#333" stroke-width="0.8"/>
<line x1="343.65" y1="385.95" x2="343.65" y2="388.50" stroke="#333" stroke-width="0.8"/>
<text x="307.55" y="396.29" font-size="8.3" text-anchor="middle" font-weight="normal" fill="#1a1a1a">3</text>
<text x="343.65" y="396.29" font-size="8.3" text-anchor="middle" font-weight="normal" fill="#1a1a1a">7</text>
<text x="325.00" y="408.54" font-size="8.45" text-anchor="middle" font-weight="normal" fill="#1a1a1a">Days posttreatment</text>
<text x="335.30" y="311.82" font-size="8.4" text-anchor="middle" font-weight="normal" fill="#1a1a1a">Host CD4 cells</text>
<text x="268.80" y="367.92" font-size="8.1" text-anchor="middle" font-weight="normal" fill="#1a1a1a" transform="rotate(-90 268.80 365.00)">% of host T cells</text>
<text x="385.50" y="314.90" font-size="15.2" font-weight="bold" fill="#000">G</text>
<line x1="421.70" y1="339.00" x2="421.70" y2="385.25" stroke="#333" stroke-width="0.9"/>
<line x1="419.10" y1="384.80" x2="421.70" y2="384.80" stroke="#333" stroke-width="0.9"/>
<text x="418.30" y="387.61" font-size="7.8" text-anchor="end" font-weight="normal" fill="#1a1a1a">0</text>
<line x1="419.10" y1="375.64" x2="421.70" y2="375.64" stroke="#333" stroke-width="0.9"/>
<text x="418.30" y="378.45" font-size="7.8" text-anchor="end" font-weight="normal" fill="#1a1a1a">20</text>
<line x1="419.10" y1="366.48" x2="421.70" y2="366.48" stroke="#333" stroke-width="0.9"/>
<text x="418.30" y="369.29" font-size="7.8" text-anchor="end" font-weight="normal" fill="#1a1a1a">40</text>
<line x1="419.10" y1="357.32" x2="421.70" y2="357.32" stroke="#333" stroke-width="0.9"/>
<text x="418.30" y="360.13" font-size="7.8" text-anchor="end" font-weight="normal" fill="#1a1a1a">60</text>
<line x1="419.10" y1="348.16" x2="421.70" y2="348.16" stroke="#333" stroke-width="0.9"/>
<text x="418.30" y="350.97" font-size="7.8" text-anchor="end" font-weight="normal" fill="#1a1a1a">80</text>
<line x1="419.10" y1="339.00" x2="421.70" y2="339.00" stroke="#333" stroke-width="0.9"/>
<text x="418.30" y="341.81" font-size="7.8" text-anchor="end" font-weight="normal" fill="#1a1a1a">100</text>
<rect x="425.10" y="350.91" width="5.80" height="33.89" fill="#bdbdbd" stroke="#8a8a8a" stroke-width="0.5"/>
<line x1="428.00" y1="339.00" x2="428.00" y2="362.82" stroke="#333" stroke-width="0.6"/>
<line x1="426.80" y1="339.00" x2="429.20" y2="339.00" stroke="#333" stroke-width="0.6"/>
<circle cx="426.80" cy="341.29" r="1.05" fill="#555555" stroke="none" stroke-width="0.5"/>
<circle cx="429.20" cy="369.23" r="1.05" fill="#555555" stroke="none" stroke-width="0.5"/>
<circle cx="428.00" cy="343.58" r="1.05" fill="#555555" stroke="none" stroke-width="0.5"/>
<rect x="433.10" y="359.15" width="5.80" height="25.65" fill="#8fd0a0" stroke="#5fae74" stroke-width="0.5"/>
<line x1="436.00" y1="355.95" x2="436.00" y2="362.36" stroke="#2e6e3a" stroke-width="0.6"/>
<line x1="434.80" y1="355.95" x2="437.20" y2="355.95" stroke="#333" stroke-width="0.6"/>
<circle cx="434.80" cy="356.40" r="1.05" fill="#2e7d3e" stroke="none" stroke-width="0.5"/>
<circle cx="437.20" cy="360.98" r="1.05" fill="#2e7d3e" stroke="none" stroke-width="0.5"/>
<circle cx="436.00" cy="359.61" r="1.05" fill="#2e7d3e" stroke="none" stroke-width="0.5"/>
<rect x="441.10" y="348.16" width="5.80" height="36.64" fill="#abb7e0" stroke="#7f8fc8" stroke-width="0.5"/>
<line x1="444.00" y1="345.41" x2="444.00" y2="350.91" stroke="#333" stroke-width="0.6"/>
<line x1="442.80" y1="345.41" x2="445.20" y2="345.41" stroke="#333" stroke-width="0.6"/>
<circle cx="442.80" cy="345.87" r="1.05" fill="#1c2a6a" stroke="none" stroke-width="0.5"/>
<circle cx="445.20" cy="349.99" r="1.05" fill="#1c2a6a" stroke="none" stroke-width="0.5"/>
<circle cx="444.00" cy="347.24" r="1.05" fill="#1c2a6a" stroke="none" stroke-width="0.5"/>
<rect x="449.30" y="358.69" width="5.80" height="26.11" fill="#f5a394" stroke="#e07a6a" stroke-width="0.5"/>
<line x1="452.20" y1="351.82" x2="452.20" y2="365.56" stroke="#333" stroke-width="0.6"/>
<line x1="451.00" y1="351.82" x2="453.40" y2="351.82" stroke="#333" stroke-width="0.6"/>
<circle cx="451.00" cy="353.66" r="1.05" fill="#b01c1c" stroke="none" stroke-width="0.5"/>
<circle cx="453.40" cy="370.14" r="1.05" fill="#b01c1c" stroke="none" stroke-width="0.5"/>
<circle cx="452.20" cy="358.69" r="1.05" fill="#b01c1c" stroke="none" stroke-width="0.5"/>
<rect x="461.90" y="350.45" width="5.80" height="34.35" fill="#bdbdbd" stroke="#8a8a8a" stroke-width="0.5"/>
<line x1="464.80" y1="339.46" x2="464.80" y2="361.44" stroke="#333" stroke-width="0.6"/>
<line x1="463.60" y1="339.46" x2="466.00" y2="339.46" stroke="#333" stroke-width="0.6"/>
<circle cx="463.60" cy="339.00" r="1.05" fill="#555555" stroke="none" stroke-width="0.5"/>
<circle cx="466.00" cy="361.90" r="1.05" fill="#555555" stroke="none" stroke-width="0.5"/>
<circle cx="464.80" cy="350.91" r="1.05" fill="#555555" stroke="none" stroke-width="0.5"/>
<rect x="469.50" y="352.28" width="5.80" height="32.52" fill="#8fd0a0" stroke="#5fae74" stroke-width="0.5"/>
<line x1="472.40" y1="347.70" x2="472.40" y2="356.86" stroke="#2e6e3a" stroke-width="0.6"/>
<line x1="471.20" y1="347.70" x2="473.60" y2="347.70" stroke="#333" stroke-width="0.6"/>
<circle cx="471.20" cy="347.24" r="1.05" fill="#2e7d3e" stroke="none" stroke-width="0.5"/>
<circle cx="473.60" cy="356.40" r="1.05" fill="#2e7d3e" stroke="none" stroke-width="0.5"/>
<circle cx="472.40" cy="352.28" r="1.05" fill="#2e7d3e" stroke="none" stroke-width="0.5"/>
<rect x="477.30" y="356.40" width="5.80" height="28.40" fill="#abb7e0" stroke="#7f8fc8" stroke-width="0.5"/>
<line x1="480.20" y1="353.66" x2="480.20" y2="359.15" stroke="#333" stroke-width="0.6"/>
<line x1="479.00" y1="353.66" x2="481.40" y2="353.66" stroke="#333" stroke-width="0.6"/>
<circle cx="479.00" cy="353.66" r="1.05" fill="#1c2a6a" stroke="none" stroke-width="0.5"/>
<circle cx="481.40" cy="357.78" r="1.05" fill="#1c2a6a" stroke="none" stroke-width="0.5"/>
<circle cx="480.20" cy="357.32" r="1.05" fill="#1c2a6a" stroke="none" stroke-width="0.5"/>
<rect x="484.80" y="372.43" width="5.80" height="12.37" fill="#f5a394" stroke="#e07a6a" stroke-width="0.5"/>
<line x1="487.70" y1="371.06" x2="487.70" y2="373.81" stroke="#333" stroke-width="0.6"/>
<line x1="486.50" y1="371.06" x2="488.90" y2="371.06" stroke="#333" stroke-width="0.6"/>
<circle cx="486.50" cy="371.52" r="1.05" fill="#b01c1c" stroke="none" stroke-width="0.5"/>
<circle cx="488.90" cy="371.52" r="1.05" fill="#b01c1c" stroke="none" stroke-width="0.5"/>
<circle cx="487.70" cy="376.56" r="1.05" fill="#b01c1c" stroke="none" stroke-width="0.5"/>
<line x1="421.70" y1="385.25" x2="492.00" y2="385.25" stroke="#333" stroke-width="0.9"/>
<line x1="440.10" y1="385.25" x2="440.10" y2="387.80" stroke="#333" stroke-width="0.8"/>
<line x1="476.25" y1="385.25" x2="476.25" y2="387.80" stroke="#333" stroke-width="0.8"/>
<text x="440.10" y="395.59" font-size="8.3" text-anchor="middle" font-weight="normal" fill="#1a1a1a">3</text>
<text x="476.25" y="395.59" font-size="8.3" text-anchor="middle" font-weight="normal" fill="#1a1a1a">7</text>
<text x="459.70" y="407.04" font-size="8.45" text-anchor="middle" font-weight="normal" fill="#1a1a1a">Days posttreatment</text>
<text x="471.00" y="312.72" font-size="8.4" text-anchor="middle" font-weight="normal" fill="#1a1a1a">Host T-reg cells</text>
<text x="390.40" y="368.92" font-size="8.1" text-anchor="middle" font-weight="normal" fill="#1a1a1a" transform="rotate(-90 390.40 366.00)">% of host</text>
<text x="400.80" y="368.92" font-size="8.1" text-anchor="middle" font-weight="normal" fill="#1a1a1a" transform="rotate(-90 400.80 366.00)">CD4 T cells</text>
<line x1="464.50" y1="324.50" x2="487.70" y2="324.50" stroke="#444" stroke-width="0.85"/>
<text x="476.10" y="324.70" font-size="8.2" text-anchor="middle" font-weight="normal" fill="#222">*</text>
<line x1="472.40" y1="332.50" x2="487.70" y2="332.50" stroke="#444" stroke-width="0.85"/>
<text x="480.05" y="332.70" font-size="8.2" text-anchor="middle" font-weight="normal" fill="#222">*</text>
<text x="1.50" y="429.60" font-size="15.2" font-weight="bold" fill="#000">H</text>
<line x1="45.00" y1="443.80" x2="45.00" y2="490.95" stroke="#333" stroke-width="0.9"/>
<line x1="42.40" y1="490.50" x2="45.00" y2="490.50" stroke="#333" stroke-width="0.9"/>
<text x="41.60" y="493.31" font-size="7.8" text-anchor="end" font-weight="normal" fill="#1a1a1a">0</text>
<line x1="42.40" y1="478.82" x2="45.00" y2="478.82" stroke="#333" stroke-width="0.9"/>
<text x="41.60" y="481.63" font-size="7.8" text-anchor="end" font-weight="normal" fill="#1a1a1a">10</text>
<line x1="42.40" y1="467.15" x2="45.00" y2="467.15" stroke="#333" stroke-width="0.9"/>
<text x="41.60" y="469.96" font-size="7.8" text-anchor="end" font-weight="normal" fill="#1a1a1a">20</text>
<line x1="42.40" y1="455.48" x2="45.00" y2="455.48" stroke="#333" stroke-width="0.9"/>
<text x="41.60" y="458.28" font-size="7.8" text-anchor="end" font-weight="normal" fill="#1a1a1a">30</text>
<line x1="42.40" y1="443.80" x2="45.00" y2="443.80" stroke="#333" stroke-width="0.9"/>
<text x="41.60" y="446.61" font-size="7.8" text-anchor="end" font-weight="normal" fill="#1a1a1a">40</text>
<rect x="47.10" y="474.16" width="5.80" height="16.34" fill="#bdbdbd" stroke="#8a8a8a" stroke-width="0.5"/>
<line x1="50.00" y1="462.48" x2="50.00" y2="485.83" stroke="#333" stroke-width="0.6"/>
<line x1="48.80" y1="462.48" x2="51.20" y2="462.48" stroke="#333" stroke-width="0.6"/>
<circle cx="48.80" cy="451.97" r="1.05" fill="#555555" stroke="none" stroke-width="0.5"/>
<circle cx="51.20" cy="488.17" r="1.05" fill="#555555" stroke="none" stroke-width="0.5"/>
<circle cx="50.00" cy="474.16" r="1.05" fill="#555555" stroke="none" stroke-width="0.5"/>
<rect x="55.10" y="475.32" width="5.80" height="15.18" fill="#8fd0a0" stroke="#5fae74" stroke-width="0.5"/>
<line x1="58.00" y1="471.82" x2="58.00" y2="478.82" stroke="#2e6e3a" stroke-width="0.6"/>
<line x1="56.80" y1="471.82" x2="59.20" y2="471.82" stroke="#333" stroke-width="0.6"/>
<circle cx="56.80" cy="472.99" r="1.05" fill="#2e7d3e" stroke="none" stroke-width="0.5"/>
<circle cx="59.20" cy="478.82" r="1.05" fill="#2e7d3e" stroke="none" stroke-width="0.5"/>
<circle cx="58.00" cy="474.16" r="1.05" fill="#2e7d3e" stroke="none" stroke-width="0.5"/>
<rect x="62.70" y="489.57" width="5.80" height="0.93" fill="#abb7e0" stroke="#7f8fc8" stroke-width="0.5"/>
<circle cx="64.40" cy="489.92" r="1.05" fill="#1c2a6a" stroke="none" stroke-width="0.5"/>
<circle cx="66.80" cy="489.92" r="1.05" fill="#1c2a6a" stroke="none" stroke-width="0.5"/>
<circle cx="65.60" cy="489.92" r="1.05" fill="#1c2a6a" stroke="none" stroke-width="0.5"/>
<rect x="70.90" y="472.99" width="5.80" height="17.51" fill="#f5a394" stroke="#e07a6a" stroke-width="0.5"/>
<line x1="73.80" y1="462.48" x2="73.80" y2="483.50" stroke="#333" stroke-width="0.6"/>
<line x1="72.60" y1="462.48" x2="75.00" y2="462.48" stroke="#333" stroke-width="0.6"/>
<circle cx="72.60" cy="451.97" r="1.05" fill="#b01c1c" stroke="none" stroke-width="0.5"/>
<circle cx="75.00" cy="485.83" r="1.05" fill="#b01c1c" stroke="none" stroke-width="0.5"/>
<circle cx="73.80" cy="478.82" r="1.05" fill="#b01c1c" stroke="none" stroke-width="0.5"/>
<circle cx="84.90" cy="489.50" r="0.90" fill="none" stroke="#8a8a8a" stroke-width="0.5"/>
<circle cx="87.70" cy="489.50" r="0.90" fill="none" stroke="#8a8a8a" stroke-width="0.5"/>
<rect x="91.60" y="484.66" width="5.80" height="5.84" fill="#8fd0a0" stroke="#5fae74" stroke-width="0.5"/>
<line x1="94.50" y1="478.83" x2="94.50" y2="490.50" stroke="#2e6e3a" stroke-width="0.6"/>
<line x1="93.30" y1="478.83" x2="95.70" y2="478.83" stroke="#333" stroke-width="0.6"/>
<circle cx="93.30" cy="472.99" r="1.05" fill="#2e7d3e" stroke="none" stroke-width="0.5"/>
<circle cx="95.70" cy="489.33" r="1.05" fill="#2e7d3e" stroke="none" stroke-width="0.5"/>
<circle cx="94.50" cy="487.00" r="1.05" fill="#2e7d3e" stroke="none" stroke-width="0.5"/>
<rect x="99.10" y="487.00" width="5.80" height="3.50" fill="#abb7e0" stroke="#7f8fc8" stroke-width="0.5"/>
<line x1="102.00" y1="483.50" x2="102.00" y2="490.50" stroke="#333" stroke-width="0.6"/>
<line x1="100.80" y1="483.50" x2="103.20" y2="483.50" stroke="#333" stroke-width="0.6"/>
<circle cx="100.80" cy="481.16" r="1.05" fill="#1c2a6a" stroke="none" stroke-width="0.5"/>
<circle cx="103.20" cy="489.33" r="1.05" fill="#1c2a6a" stroke="none" stroke-width="0.5"/>
<circle cx="102.00" cy="488.17" r="1.05" fill="#1c2a6a" stroke="none" stroke-width="0.5"/>
<rect x="107.10" y="479.99" width="5.80" height="10.51" fill="#f5a394" stroke="#e07a6a" stroke-width="0.5"/>
<line x1="110.00" y1="476.49" x2="110.00" y2="483.50" stroke="#333" stroke-width="0.6"/>
<line x1="108.80" y1="476.49" x2="111.20" y2="476.49" stroke="#333" stroke-width="0.6"/>
<circle cx="108.80" cy="472.99" r="1.05" fill="#b01c1c" stroke="none" stroke-width="0.5"/>
<circle cx="111.20" cy="483.50" r="1.05" fill="#b01c1c" stroke="none" stroke-width="0.5"/>
<circle cx="110.00" cy="481.16" r="1.05" fill="#b01c1c" stroke="none" stroke-width="0.5"/>
<line x1="45.00" y1="490.95" x2="114.50" y2="490.95" stroke="#333" stroke-width="0.9"/>
<line x1="61.90" y1="490.95" x2="61.90" y2="493.50" stroke="#333" stroke-width="0.8"/>
<line x1="98.15" y1="490.95" x2="98.15" y2="493.50" stroke="#333" stroke-width="0.8"/>
<text x="61.90" y="501.29" font-size="8.3" text-anchor="middle" font-weight="normal" fill="#1a1a1a">3</text>
<text x="98.15" y="501.29" font-size="8.3" text-anchor="middle" font-weight="normal" fill="#1a1a1a">7</text>
<text x="82.00" y="511.04" font-size="8.45" text-anchor="middle" font-weight="normal" fill="#1a1a1a">Days posttreatment</text>
<text x="87.50" y="434.32" font-size="8.4" text-anchor="middle" font-weight="normal" fill="#1a1a1a">Host Th1 cells</text>
<text x="11.25" y="470.12" font-size="8.1" text-anchor="middle" font-weight="normal" fill="#1a1a1a" transform="rotate(-90 11.25 467.20)">% of host CD4</text>
<text x="21.65" y="470.12" font-size="8.1" text-anchor="middle" font-weight="normal" fill="#1a1a1a" transform="rotate(-90 21.65 467.20)">T cells</text>
<text x="143.50" y="428.40" font-size="15.2" font-weight="bold" fill="#000">I</text>
<line x1="176.30" y1="442.50" x2="176.30" y2="490.45" stroke="#333" stroke-width="0.9"/>
<line x1="173.70" y1="490.00" x2="176.30" y2="490.00" stroke="#333" stroke-width="0.9"/>
<text x="172.90" y="492.81" font-size="7.8" text-anchor="end" font-weight="normal" fill="#1a1a1a">0</text>
<line x1="173.70" y1="474.17" x2="176.30" y2="474.17" stroke="#333" stroke-width="0.9"/>
<text x="172.90" y="476.97" font-size="7.8" text-anchor="end" font-weight="normal" fill="#1a1a1a">20</text>
<line x1="173.70" y1="458.33" x2="176.30" y2="458.33" stroke="#333" stroke-width="0.9"/>
<text x="172.90" y="461.14" font-size="7.8" text-anchor="end" font-weight="normal" fill="#1a1a1a">40</text>
<line x1="173.70" y1="442.50" x2="176.30" y2="442.50" stroke="#333" stroke-width="0.9"/>
<text x="172.90" y="445.31" font-size="7.8" text-anchor="end" font-weight="normal" fill="#1a1a1a">60</text>
<rect x="178.40" y="481.29" width="5.80" height="8.71" fill="#bdbdbd" stroke="#8a8a8a" stroke-width="0.5"/>
<line x1="181.30" y1="472.58" x2="181.30" y2="490.00" stroke="#333" stroke-width="0.6"/>
<line x1="180.10" y1="472.58" x2="182.50" y2="472.58" stroke="#333" stroke-width="0.6"/>
<circle cx="180.10" cy="463.08" r="1.05" fill="#555555" stroke="none" stroke-width="0.5"/>
<circle cx="182.50" cy="487.62" r="1.05" fill="#555555" stroke="none" stroke-width="0.5"/>
<circle cx="181.30" cy="483.67" r="1.05" fill="#555555" stroke="none" stroke-width="0.5"/>
<rect x="185.90" y="476.54" width="5.80" height="13.46" fill="#8fd0a0" stroke="#5fae74" stroke-width="0.5"/>
<line x1="188.80" y1="475.75" x2="188.80" y2="477.33" stroke="#2e6e3a" stroke-width="0.6"/>
<line x1="187.60" y1="475.75" x2="190.00" y2="475.75" stroke="#333" stroke-width="0.6"/>
<circle cx="187.60" cy="476.54" r="1.05" fill="#2e7d3e" stroke="none" stroke-width="0.5"/>
<circle cx="190.00" cy="476.54" r="1.05" fill="#2e7d3e" stroke="none" stroke-width="0.5"/>
<circle cx="188.80" cy="477.33" r="1.05" fill="#2e7d3e" stroke="none" stroke-width="0.5"/>
<rect x="194.10" y="477.33" width="5.80" height="12.67" fill="#abb7e0" stroke="#7f8fc8" stroke-width="0.5"/>
<line x1="197.00" y1="470.21" x2="197.00" y2="484.46" stroke="#333" stroke-width="0.6"/>
<line x1="195.80" y1="470.21" x2="198.20" y2="470.21" stroke="#333" stroke-width="0.6"/>
<circle cx="195.80" cy="463.08" r="1.05" fill="#1c2a6a" stroke="none" stroke-width="0.5"/>
<circle cx="198.20" cy="486.04" r="1.05" fill="#1c2a6a" stroke="none" stroke-width="0.5"/>
<circle cx="197.00" cy="482.08" r="1.05" fill="#1c2a6a" stroke="none" stroke-width="0.5"/>
<rect x="202.10" y="475.75" width="5.80" height="14.25" fill="#f5a394" stroke="#e07a6a" stroke-width="0.5"/>
<line x1="205.00" y1="471.79" x2="205.00" y2="479.71" stroke="#333" stroke-width="0.6"/>
<line x1="203.80" y1="471.79" x2="206.20" y2="471.79" stroke="#333" stroke-width="0.6"/>
<circle cx="203.80" cy="471.00" r="1.05" fill="#b01c1c" stroke="none" stroke-width="0.5"/>
<circle cx="206.20" cy="480.50" r="1.05" fill="#b01c1c" stroke="none" stroke-width="0.5"/>
<circle cx="205.00" cy="475.75" r="1.05" fill="#b01c1c" stroke="none" stroke-width="0.5"/>
<rect x="215.10" y="480.50" width="5.80" height="9.50" fill="#bdbdbd" stroke="#8a8a8a" stroke-width="0.5"/>
<line x1="218.00" y1="469.42" x2="218.00" y2="490.00" stroke="#333" stroke-width="0.6"/>
<line x1="216.80" y1="469.42" x2="219.20" y2="469.42" stroke="#333" stroke-width="0.6"/>
<circle cx="216.80" cy="469.42" r="1.05" fill="#555555" stroke="none" stroke-width="0.5"/>
<circle cx="219.20" cy="487.62" r="1.05" fill="#555555" stroke="none" stroke-width="0.5"/>
<circle cx="218.00" cy="485.25" r="1.05" fill="#555555" stroke="none" stroke-width="0.5"/>
<rect x="222.60" y="473.38" width="5.80" height="16.62" fill="#8fd0a0" stroke="#5fae74" stroke-width="0.5"/>
<line x1="225.50" y1="472.58" x2="225.50" y2="474.17" stroke="#2e6e3a" stroke-width="0.6"/>
<line x1="224.30" y1="472.58" x2="226.70" y2="472.58" stroke="#333" stroke-width="0.6"/>
<circle cx="224.30" cy="472.58" r="1.05" fill="#2e7d3e" stroke="none" stroke-width="0.5"/>
<circle cx="226.70" cy="473.38" r="1.05" fill="#2e7d3e" stroke="none" stroke-width="0.5"/>
<circle cx="225.50" cy="474.17" r="1.05" fill="#2e7d3e" stroke="none" stroke-width="0.5"/>
<rect x="230.90" y="475.75" width="5.80" height="14.25" fill="#abb7e0" stroke="#7f8fc8" stroke-width="0.5"/>
<line x1="233.80" y1="472.58" x2="233.80" y2="478.92" stroke="#333" stroke-width="0.6"/>
<line x1="232.60" y1="472.58" x2="235.00" y2="472.58" stroke="#333" stroke-width="0.6"/>
<circle cx="232.60" cy="471.00" r="1.05" fill="#1c2a6a" stroke="none" stroke-width="0.5"/>
<circle cx="235.00" cy="478.92" r="1.05" fill="#1c2a6a" stroke="none" stroke-width="0.5"/>
<circle cx="233.80" cy="475.75" r="1.05" fill="#1c2a6a" stroke="none" stroke-width="0.5"/>
<rect x="238.40" y="452.00" width="5.80" height="38.00" fill="#f5a394" stroke="#e07a6a" stroke-width="0.5"/>
<line x1="241.30" y1="450.42" x2="241.30" y2="453.58" stroke="#333" stroke-width="0.6"/>
<line x1="240.10" y1="450.42" x2="242.50" y2="450.42" stroke="#333" stroke-width="0.6"/>
<circle cx="240.10" cy="449.62" r="1.05" fill="#b01c1c" stroke="none" stroke-width="0.5"/>
<circle cx="242.50" cy="453.58" r="1.05" fill="#b01c1c" stroke="none" stroke-width="0.5"/>
<circle cx="241.30" cy="452.00" r="1.05" fill="#b01c1c" stroke="none" stroke-width="0.5"/>
<line x1="176.30" y1="490.45" x2="245.50" y2="490.45" stroke="#333" stroke-width="0.9"/>
<line x1="193.15" y1="490.45" x2="193.15" y2="493.00" stroke="#333" stroke-width="0.8"/>
<line x1="229.65" y1="490.45" x2="229.65" y2="493.00" stroke="#333" stroke-width="0.8"/>
<text x="193.15" y="500.79" font-size="8.3" text-anchor="middle" font-weight="normal" fill="#1a1a1a">3</text>
<text x="229.65" y="500.79" font-size="8.3" text-anchor="middle" font-weight="normal" fill="#1a1a1a">7</text>
<text x="215.40" y="510.54" font-size="8.45" text-anchor="middle" font-weight="normal" fill="#1a1a1a">Days posttreatment</text>
<text x="216.00" y="434.32" font-size="8.4" text-anchor="middle" font-weight="normal" fill="#1a1a1a">Host Th2 cells</text>
<text x="143.60" y="469.92" font-size="8.1" text-anchor="middle" font-weight="normal" fill="#1a1a1a" transform="rotate(-90 143.60 467.00)">% of host CD4</text>
<text x="154.00" y="469.92" font-size="8.1" text-anchor="middle" font-weight="normal" fill="#1a1a1a" transform="rotate(-90 154.00 467.00)">T cells</text>
<line x1="234.50" y1="444.50" x2="242.00" y2="444.50" stroke="#444" stroke-width="0.85"/>
<text x="238.25" y="444.70" font-size="8.2" text-anchor="middle" font-weight="normal" fill="#222">**</text>
<text x="3.50" y="536.40" font-size="15.2" font-weight="bold" fill="#000">J</text>
<line x1="40.00" y1="551.30" x2="40.00" y2="599.25" stroke="#333" stroke-width="0.9"/>
<line x1="37.40" y1="598.80" x2="40.00" y2="598.80" stroke="#333" stroke-width="0.9"/>
<text x="36.60" y="601.61" font-size="7.8" text-anchor="end" font-weight="normal" fill="#1a1a1a">0</text>
<line x1="37.40" y1="589.30" x2="40.00" y2="589.30" stroke="#333" stroke-width="0.9"/>
<text x="36.60" y="592.11" font-size="7.8" text-anchor="end" font-weight="normal" fill="#1a1a1a">20</text>
<line x1="37.40" y1="579.80" x2="40.00" y2="579.80" stroke="#333" stroke-width="0.9"/>
<text x="36.60" y="582.61" font-size="7.8" text-anchor="end" font-weight="normal" fill="#1a1a1a">40</text>
<line x1="37.40" y1="570.30" x2="40.00" y2="570.30" stroke="#333" stroke-width="0.9"/>
<text x="36.60" y="573.11" font-size="7.8" text-anchor="end" font-weight="normal" fill="#1a1a1a">60</text>
<line x1="37.40" y1="560.80" x2="40.00" y2="560.80" stroke="#333" stroke-width="0.9"/>
<text x="36.60" y="563.61" font-size="7.8" text-anchor="end" font-weight="normal" fill="#1a1a1a">80</text>
<line x1="37.40" y1="551.30" x2="40.00" y2="551.30" stroke="#333" stroke-width="0.9"/>
<text x="36.60" y="554.11" font-size="7.8" text-anchor="end" font-weight="normal" fill="#1a1a1a">100</text>
<rect x="42.10" y="557.00" width="5.80" height="41.80" fill="#bdbdbd" stroke="#8a8a8a" stroke-width="0.5"/>
<line x1="45.00" y1="556.52" x2="45.00" y2="557.48" stroke="#333" stroke-width="0.6"/>
<line x1="43.80" y1="556.52" x2="46.20" y2="556.52" stroke="#333" stroke-width="0.6"/>
<circle cx="43.80" cy="557.00" r="1.05" fill="#555555" stroke="none" stroke-width="0.5"/>
<circle cx="46.20" cy="557.00" r="1.05" fill="#555555" stroke="none" stroke-width="0.5"/>
<circle cx="45.00" cy="557.47" r="1.05" fill="#555555" stroke="none" stroke-width="0.5"/>
<rect x="50.20" y="557.00" width="5.80" height="41.80" fill="#8fd0a0" stroke="#5fae74" stroke-width="0.5"/>
<line x1="53.10" y1="555.10" x2="53.10" y2="558.90" stroke="#2e6e3a" stroke-width="0.6"/>
<line x1="51.90" y1="555.10" x2="54.30" y2="555.10" stroke="#333" stroke-width="0.6"/>
<circle cx="51.90" cy="556.05" r="1.05" fill="#2e7d3e" stroke="none" stroke-width="0.5"/>
<circle cx="54.30" cy="558.42" r="1.05" fill="#2e7d3e" stroke="none" stroke-width="0.5"/>
<circle cx="53.10" cy="559.85" r="1.05" fill="#2e7d3e" stroke="none" stroke-width="0.5"/>
<rect x="58.10" y="556.05" width="5.80" height="42.75" fill="#abb7e0" stroke="#7f8fc8" stroke-width="0.5"/>
<line x1="61.00" y1="555.57" x2="61.00" y2="556.52" stroke="#333" stroke-width="0.6"/>
<line x1="59.80" y1="555.57" x2="62.20" y2="555.57" stroke="#333" stroke-width="0.6"/>
<circle cx="59.80" cy="555.10" r="1.05" fill="#1c2a6a" stroke="none" stroke-width="0.5"/>
<circle cx="62.20" cy="556.52" r="1.05" fill="#1c2a6a" stroke="none" stroke-width="0.5"/>
<circle cx="61.00" cy="555.57" r="1.05" fill="#1c2a6a" stroke="none" stroke-width="0.5"/>
<rect x="66.00" y="555.57" width="5.80" height="43.23" fill="#f5a394" stroke="#e07a6a" stroke-width="0.5"/>
<line x1="68.90" y1="555.10" x2="68.90" y2="556.05" stroke="#333" stroke-width="0.6"/>
<line x1="67.70" y1="555.10" x2="70.10" y2="555.10" stroke="#333" stroke-width="0.6"/>
<circle cx="67.70" cy="555.10" r="1.05" fill="#b01c1c" stroke="none" stroke-width="0.5"/>
<circle cx="70.10" cy="555.10" r="1.05" fill="#b01c1c" stroke="none" stroke-width="0.5"/>
<circle cx="68.90" cy="556.05" r="1.05" fill="#b01c1c" stroke="none" stroke-width="0.5"/>
<rect x="78.90" y="555.10" width="5.80" height="43.70" fill="#bdbdbd" stroke="#8a8a8a" stroke-width="0.5"/>
<line x1="81.80" y1="554.62" x2="81.80" y2="555.57" stroke="#333" stroke-width="0.6"/>
<line x1="80.60" y1="554.62" x2="83.00" y2="554.62" stroke="#333" stroke-width="0.6"/>
<circle cx="80.60" cy="554.15" r="1.05" fill="#555555" stroke="none" stroke-width="0.5"/>
<circle cx="83.00" cy="555.10" r="1.05" fill="#555555" stroke="none" stroke-width="0.5"/>
<circle cx="81.80" cy="554.62" r="1.05" fill="#555555" stroke="none" stroke-width="0.5"/>
<rect x="86.90" y="557.95" width="5.80" height="40.85" fill="#8fd0a0" stroke="#5fae74" stroke-width="0.5"/>
<line x1="89.80" y1="556.05" x2="89.80" y2="559.85" stroke="#2e6e3a" stroke-width="0.6"/>
<line x1="88.60" y1="556.05" x2="91.00" y2="556.05" stroke="#333" stroke-width="0.6"/>
<circle cx="88.60" cy="557.00" r="1.05" fill="#2e7d3e" stroke="none" stroke-width="0.5"/>
<circle cx="91.00" cy="558.90" r="1.05" fill="#2e7d3e" stroke="none" stroke-width="0.5"/>
<circle cx="89.80" cy="560.80" r="1.05" fill="#2e7d3e" stroke="none" stroke-width="0.5"/>
<rect x="94.80" y="556.52" width="5.80" height="42.27" fill="#abb7e0" stroke="#7f8fc8" stroke-width="0.5"/>
<line x1="97.70" y1="556.05" x2="97.70" y2="557.00" stroke="#333" stroke-width="0.6"/>
<line x1="96.50" y1="556.05" x2="98.90" y2="556.05" stroke="#333" stroke-width="0.6"/>
<circle cx="96.50" cy="556.52" r="1.05" fill="#1c2a6a" stroke="none" stroke-width="0.5"/>
<circle cx="98.90" cy="556.05" r="1.05" fill="#1c2a6a" stroke="none" stroke-width="0.5"/>
<circle cx="97.70" cy="557.00" r="1.05" fill="#1c2a6a" stroke="none" stroke-width="0.5"/>
<rect x="102.80" y="555.57" width="5.80" height="43.23" fill="#f5a394" stroke="#e07a6a" stroke-width="0.5"/>
<line x1="105.70" y1="555.10" x2="105.70" y2="556.05" stroke="#333" stroke-width="0.6"/>
<line x1="104.50" y1="555.10" x2="106.90" y2="555.10" stroke="#333" stroke-width="0.6"/>
<circle cx="104.50" cy="555.10" r="1.05" fill="#b01c1c" stroke="none" stroke-width="0.5"/>
<circle cx="106.90" cy="555.57" r="1.05" fill="#b01c1c" stroke="none" stroke-width="0.5"/>
<circle cx="105.70" cy="555.57" r="1.05" fill="#b01c1c" stroke="none" stroke-width="0.5"/>
<line x1="40.00" y1="599.25" x2="110.50" y2="599.25" stroke="#333" stroke-width="0.9"/>
<line x1="56.95" y1="599.25" x2="56.95" y2="601.80" stroke="#333" stroke-width="0.8"/>
<line x1="93.75" y1="599.25" x2="93.75" y2="601.80" stroke="#333" stroke-width="0.8"/>
<text x="56.95" y="609.59" font-size="8.3" text-anchor="middle" font-weight="normal" fill="#1a1a1a">3</text>
<text x="93.75" y="609.59" font-size="8.3" text-anchor="middle" font-weight="normal" fill="#1a1a1a">7</text>
<text x="78.20" y="621.74" font-size="8.45" text-anchor="middle" font-weight="normal" fill="#1a1a1a">Days posttreatment</text>
<text x="90.00" y="543.52" font-size="8.4" text-anchor="middle" font-weight="normal" fill="#1a1a1a">Host myeloid cells</text>
<text x="9.00" y="604.92" font-size="8.1" text-anchor="start" font-weight="normal" fill="#1a1a1a" transform="rotate(-90 9.00 602.00)">% of host CD3<tspan font-size="5" dy="-3">neg</tspan></text>
<text x="19.40" y="604.92" font-size="8.1" text-anchor="start" font-weight="normal" fill="#1a1a1a" transform="rotate(-90 19.40 602.00)">out o CD45</text>
<text x="144.40" y="533.10" font-size="15.2" font-weight="bold" fill="#000">K</text>
<line x1="178.80" y1="552.00" x2="178.80" y2="599.25" stroke="#333" stroke-width="0.9"/>
<line x1="176.20" y1="598.80" x2="178.80" y2="598.80" stroke="#333" stroke-width="0.9"/>
<text x="175.40" y="601.61" font-size="7.8" text-anchor="end" font-weight="normal" fill="#1a1a1a">0</text>
<line x1="176.20" y1="589.44" x2="178.80" y2="589.44" stroke="#333" stroke-width="0.9"/>
<text x="175.40" y="592.25" font-size="7.8" text-anchor="end" font-weight="normal" fill="#1a1a1a">20</text>
<line x1="176.20" y1="580.08" x2="178.80" y2="580.08" stroke="#333" stroke-width="0.9"/>
<text x="175.40" y="582.89" font-size="7.8" text-anchor="end" font-weight="normal" fill="#1a1a1a">40</text>
<line x1="176.20" y1="570.72" x2="178.80" y2="570.72" stroke="#333" stroke-width="0.9"/>
<text x="175.40" y="573.53" font-size="7.8" text-anchor="end" font-weight="normal" fill="#1a1a1a">60</text>
<line x1="176.20" y1="561.36" x2="178.80" y2="561.36" stroke="#333" stroke-width="0.9"/>
<text x="175.40" y="564.17" font-size="7.8" text-anchor="end" font-weight="normal" fill="#1a1a1a">80</text>
<line x1="176.20" y1="552.00" x2="178.80" y2="552.00" stroke="#333" stroke-width="0.9"/>
<text x="175.40" y="554.81" font-size="7.8" text-anchor="end" font-weight="normal" fill="#1a1a1a">100</text>
<rect x="181.40" y="567.44" width="5.80" height="31.36" fill="#bdbdbd" stroke="#8a8a8a" stroke-width="0.5"/>
<line x1="184.30" y1="566.51" x2="184.30" y2="568.38" stroke="#333" stroke-width="0.6"/>
<line x1="183.10" y1="566.51" x2="185.50" y2="566.51" stroke="#333" stroke-width="0.6"/>
<circle cx="183.10" cy="566.98" r="1.05" fill="#555555" stroke="none" stroke-width="0.5"/>
<circle cx="185.50" cy="567.91" r="1.05" fill="#555555" stroke="none" stroke-width="0.5"/>
<circle cx="184.30" cy="567.44" r="1.05" fill="#555555" stroke="none" stroke-width="0.5"/>
<rect x="189.60" y="571.66" width="5.80" height="27.14" fill="#8fd0a0" stroke="#5fae74" stroke-width="0.5"/>
<line x1="192.50" y1="571.19" x2="192.50" y2="572.12" stroke="#2e6e3a" stroke-width="0.6"/>
<line x1="191.30" y1="571.19" x2="193.70" y2="571.19" stroke="#333" stroke-width="0.6"/>
<circle cx="191.30" cy="571.19" r="1.05" fill="#2e7d3e" stroke="none" stroke-width="0.5"/>
<circle cx="193.70" cy="571.66" r="1.05" fill="#2e7d3e" stroke="none" stroke-width="0.5"/>
<circle cx="192.50" cy="571.66" r="1.05" fill="#2e7d3e" stroke="none" stroke-width="0.5"/>
<rect x="197.30" y="574.00" width="5.80" height="24.80" fill="#abb7e0" stroke="#7f8fc8" stroke-width="0.5"/>
<line x1="200.20" y1="571.66" x2="200.20" y2="576.34" stroke="#333" stroke-width="0.6"/>
<line x1="199.00" y1="571.66" x2="201.40" y2="571.66" stroke="#333" stroke-width="0.6"/>
<circle cx="199.00" cy="570.72" r="1.05" fill="#1c2a6a" stroke="none" stroke-width="0.5"/>
<circle cx="201.40" cy="574.46" r="1.05" fill="#1c2a6a" stroke="none" stroke-width="0.5"/>
<circle cx="200.20" cy="576.34" r="1.05" fill="#1c2a6a" stroke="none" stroke-width="0.5"/>
<rect x="205.80" y="577.74" width="5.80" height="21.06" fill="#f5a394" stroke="#e07a6a" stroke-width="0.5"/>
<line x1="208.70" y1="575.40" x2="208.70" y2="580.08" stroke="#333" stroke-width="0.6"/>
<line x1="207.50" y1="575.40" x2="209.90" y2="575.40" stroke="#333" stroke-width="0.6"/>
<circle cx="207.50" cy="574.46" r="1.05" fill="#b01c1c" stroke="none" stroke-width="0.5"/>
<circle cx="209.90" cy="581.02" r="1.05" fill="#b01c1c" stroke="none" stroke-width="0.5"/>
<circle cx="208.70" cy="577.74" r="1.05" fill="#b01c1c" stroke="none" stroke-width="0.5"/>
<rect x="218.40" y="582.42" width="5.80" height="16.38" fill="#bdbdbd" stroke="#8a8a8a" stroke-width="0.5"/>
<line x1="221.30" y1="576.80" x2="221.30" y2="588.04" stroke="#333" stroke-width="0.6"/>
<line x1="220.10" y1="576.80" x2="222.50" y2="576.80" stroke="#333" stroke-width="0.6"/>
<circle cx="220.10" cy="576.80" r="1.05" fill="#555555" stroke="none" stroke-width="0.5"/>
<circle cx="222.50" cy="585.70" r="1.05" fill="#555555" stroke="none" stroke-width="0.5"/>
<circle cx="221.30" cy="583.82" r="1.05" fill="#555555" stroke="none" stroke-width="0.5"/>
<rect x="225.90" y="575.40" width="5.80" height="23.40" fill="#8fd0a0" stroke="#5fae74" stroke-width="0.5"/>
<line x1="228.80" y1="574.00" x2="228.80" y2="576.80" stroke="#2e6e3a" stroke-width="0.6"/>
<line x1="227.60" y1="574.00" x2="230.00" y2="574.00" stroke="#333" stroke-width="0.6"/>
<circle cx="227.60" cy="573.53" r="1.05" fill="#2e7d3e" stroke="none" stroke-width="0.5"/>
<circle cx="230.00" cy="575.40" r="1.05" fill="#2e7d3e" stroke="none" stroke-width="0.5"/>
<circle cx="228.80" cy="576.34" r="1.05" fill="#2e7d3e" stroke="none" stroke-width="0.5"/>
<rect x="234.10" y="576.34" width="5.80" height="22.46" fill="#abb7e0" stroke="#7f8fc8" stroke-width="0.5"/>
<line x1="237.00" y1="575.87" x2="237.00" y2="576.80" stroke="#333" stroke-width="0.6"/>
<line x1="235.80" y1="575.87" x2="238.20" y2="575.87" stroke="#333" stroke-width="0.6"/>
<circle cx="235.80" cy="575.40" r="1.05" fill="#1c2a6a" stroke="none" stroke-width="0.5"/>
<circle cx="238.20" cy="576.34" r="1.05" fill="#1c2a6a" stroke="none" stroke-width="0.5"/>
<circle cx="237.00" cy="576.80" r="1.05" fill="#1c2a6a" stroke="none" stroke-width="0.5"/>
<rect x="242.10" y="591.78" width="5.80" height="7.02" fill="#f5a394" stroke="#e07a6a" stroke-width="0.5"/>
<line x1="245.00" y1="590.84" x2="245.00" y2="592.72" stroke="#333" stroke-width="0.6"/>
<line x1="243.80" y1="590.84" x2="246.20" y2="590.84" stroke="#333" stroke-width="0.6"/>
<circle cx="243.80" cy="590.38" r="1.05" fill="#b01c1c" stroke="none" stroke-width="0.5"/>
<circle cx="246.20" cy="592.72" r="1.05" fill="#b01c1c" stroke="none" stroke-width="0.5"/>
<circle cx="245.00" cy="592.25" r="1.05" fill="#b01c1c" stroke="none" stroke-width="0.5"/>
<line x1="178.80" y1="599.25" x2="249.50" y2="599.25" stroke="#333" stroke-width="0.9"/>
<line x1="196.50" y1="599.25" x2="196.50" y2="601.80" stroke="#333" stroke-width="0.8"/>
<line x1="233.15" y1="599.25" x2="233.15" y2="601.80" stroke="#333" stroke-width="0.8"/>
<text x="196.50" y="609.59" font-size="8.3" text-anchor="middle" font-weight="normal" fill="#1a1a1a">3</text>
<text x="233.15" y="609.59" font-size="8.3" text-anchor="middle" font-weight="normal" fill="#1a1a1a">7</text>
<text x="215.00" y="621.74" font-size="8.45" text-anchor="middle" font-weight="normal" fill="#1a1a1a">Days posttreatment</text>
<text x="226.30" y="543.52" font-size="8.4" text-anchor="middle" font-weight="normal" fill="#1a1a1a">Host APC cells</text>
<text x="147.60" y="602.92" font-size="8.1" text-anchor="start" font-weight="normal" fill="#1a1a1a" transform="rotate(-90 147.60 600.00)">% of host</text>
<text x="158.00" y="602.92" font-size="8.1" text-anchor="start" font-weight="normal" fill="#1a1a1a" transform="rotate(-90 158.00 600.00)">myeloid cells</text>
<line x1="185.00" y1="560.50" x2="208.70" y2="560.50" stroke="#444" stroke-width="0.85"/>
<text x="196.85" y="560.70" font-size="8.2" text-anchor="middle" font-weight="normal" fill="#222">*</text>
<text x="280.00" y="533.90" font-size="15.2" font-weight="bold" fill="#000">L</text>
<line x1="316.00" y1="551.70" x2="316.00" y2="597.95" stroke="#333" stroke-width="0.9"/>
<line x1="313.40" y1="597.50" x2="316.00" y2="597.50" stroke="#333" stroke-width="0.9"/>
<text x="312.60" y="600.31" font-size="7.8" text-anchor="end" font-weight="normal" fill="#1a1a1a">0</text>
<line x1="313.40" y1="588.34" x2="316.00" y2="588.34" stroke="#333" stroke-width="0.9"/>
<text x="312.60" y="591.15" font-size="7.8" text-anchor="end" font-weight="normal" fill="#1a1a1a">20</text>
<line x1="313.40" y1="579.18" x2="316.00" y2="579.18" stroke="#333" stroke-width="0.9"/>
<text x="312.60" y="581.99" font-size="7.8" text-anchor="end" font-weight="normal" fill="#1a1a1a">40</text>
<line x1="313.40" y1="570.02" x2="316.00" y2="570.02" stroke="#333" stroke-width="0.9"/>
<text x="312.60" y="572.83" font-size="7.8" text-anchor="end" font-weight="normal" fill="#1a1a1a">60</text>
<line x1="313.40" y1="560.86" x2="316.00" y2="560.86" stroke="#333" stroke-width="0.9"/>
<text x="312.60" y="563.67" font-size="7.8" text-anchor="end" font-weight="normal" fill="#1a1a1a">80</text>
<line x1="313.40" y1="551.70" x2="316.00" y2="551.70" stroke="#333" stroke-width="0.9"/>
<text x="312.60" y="554.51" font-size="7.8" text-anchor="end" font-weight="normal" fill="#1a1a1a">100</text>
<rect x="318.50" y="572.31" width="5.80" height="25.19" fill="#bdbdbd" stroke="#8a8a8a" stroke-width="0.5"/>
<line x1="321.40" y1="570.02" x2="321.40" y2="574.60" stroke="#333" stroke-width="0.6"/>
<line x1="320.20" y1="570.02" x2="322.60" y2="570.02" stroke="#333" stroke-width="0.6"/>
<circle cx="320.20" cy="570.94" r="1.05" fill="#555555" stroke="none" stroke-width="0.5"/>
<circle cx="322.60" cy="573.68" r="1.05" fill="#555555" stroke="none" stroke-width="0.5"/>
<circle cx="321.40" cy="572.31" r="1.05" fill="#555555" stroke="none" stroke-width="0.5"/>
<rect x="325.70" y="582.39" width="5.80" height="15.11" fill="#8fd0a0" stroke="#5fae74" stroke-width="0.5"/>
<line x1="328.60" y1="577.81" x2="328.60" y2="586.97" stroke="#2e6e3a" stroke-width="0.6"/>
<line x1="327.40" y1="577.81" x2="329.80" y2="577.81" stroke="#333" stroke-width="0.6"/>
<circle cx="327.40" cy="576.89" r="1.05" fill="#2e7d3e" stroke="none" stroke-width="0.5"/>
<circle cx="329.80" cy="586.05" r="1.05" fill="#2e7d3e" stroke="none" stroke-width="0.5"/>
<circle cx="328.60" cy="583.76" r="1.05" fill="#2e7d3e" stroke="none" stroke-width="0.5"/>
<rect x="333.80" y="583.76" width="5.80" height="13.74" fill="#abb7e0" stroke="#7f8fc8" stroke-width="0.5"/>
<line x1="336.70" y1="579.18" x2="336.70" y2="588.34" stroke="#333" stroke-width="0.6"/>
<line x1="335.50" y1="579.18" x2="337.90" y2="579.18" stroke="#333" stroke-width="0.6"/>
<circle cx="335.50" cy="576.89" r="1.05" fill="#1c2a6a" stroke="none" stroke-width="0.5"/>
<circle cx="337.90" cy="588.34" r="1.05" fill="#1c2a6a" stroke="none" stroke-width="0.5"/>
<circle cx="336.70" cy="585.59" r="1.05" fill="#1c2a6a" stroke="none" stroke-width="0.5"/>
<rect x="341.90" y="581.47" width="5.80" height="16.03" fill="#f5a394" stroke="#e07a6a" stroke-width="0.5"/>
<line x1="344.80" y1="580.10" x2="344.80" y2="582.84" stroke="#333" stroke-width="0.6"/>
<line x1="343.60" y1="580.10" x2="346.00" y2="580.10" stroke="#333" stroke-width="0.6"/>
<circle cx="343.60" cy="580.10" r="1.05" fill="#b01c1c" stroke="none" stroke-width="0.5"/>
<circle cx="346.00" cy="582.84" r="1.05" fill="#b01c1c" stroke="none" stroke-width="0.5"/>
<circle cx="344.80" cy="581.01" r="1.05" fill="#b01c1c" stroke="none" stroke-width="0.5"/>
<rect x="354.80" y="596.13" width="5.80" height="1.37" fill="#bdbdbd" stroke="#8a8a8a" stroke-width="0.5"/>
<line x1="357.70" y1="595.67" x2="357.70" y2="596.58" stroke="#333" stroke-width="0.6"/>
<line x1="356.50" y1="595.67" x2="358.90" y2="595.67" stroke="#333" stroke-width="0.6"/>
<circle cx="356.50" cy="596.13" r="1.05" fill="#555555" stroke="none" stroke-width="0.5"/>
<circle cx="358.90" cy="596.13" r="1.05" fill="#555555" stroke="none" stroke-width="0.5"/>
<circle cx="357.70" cy="596.13" r="1.05" fill="#555555" stroke="none" stroke-width="0.5"/>
<rect x="362.30" y="594.75" width="5.80" height="2.75" fill="#8fd0a0" stroke="#5fae74" stroke-width="0.5"/>
<line x1="365.20" y1="594.29" x2="365.20" y2="595.21" stroke="#2e6e3a" stroke-width="0.6"/>
<line x1="364.00" y1="594.29" x2="366.40" y2="594.29" stroke="#333" stroke-width="0.6"/>
<circle cx="364.00" cy="594.75" r="1.05" fill="#2e7d3e" stroke="none" stroke-width="0.5"/>
<circle cx="366.40" cy="594.75" r="1.05" fill="#2e7d3e" stroke="none" stroke-width="0.5"/>
<circle cx="365.20" cy="594.75" r="1.05" fill="#2e7d3e" stroke="none" stroke-width="0.5"/>
<rect x="370.40" y="594.75" width="5.80" height="2.75" fill="#abb7e0" stroke="#7f8fc8" stroke-width="0.5"/>
<line x1="373.30" y1="594.29" x2="373.30" y2="595.21" stroke="#333" stroke-width="0.6"/>
<line x1="372.10" y1="594.29" x2="374.50" y2="594.29" stroke="#333" stroke-width="0.6"/>
<circle cx="372.10" cy="594.29" r="1.05" fill="#1c2a6a" stroke="none" stroke-width="0.5"/>
<circle cx="374.50" cy="595.21" r="1.05" fill="#1c2a6a" stroke="none" stroke-width="0.5"/>
<circle cx="373.30" cy="594.75" r="1.05" fill="#1c2a6a" stroke="none" stroke-width="0.5"/>
<rect x="378.50" y="589.26" width="5.80" height="8.24" fill="#f5a394" stroke="#e07a6a" stroke-width="0.5"/>
<line x1="381.40" y1="588.80" x2="381.40" y2="589.71" stroke="#333" stroke-width="0.6"/>
<line x1="380.20" y1="588.80" x2="382.60" y2="588.80" stroke="#333" stroke-width="0.6"/>
<circle cx="380.20" cy="588.34" r="1.05" fill="#b01c1c" stroke="none" stroke-width="0.5"/>
<circle cx="382.60" cy="589.71" r="1.05" fill="#b01c1c" stroke="none" stroke-width="0.5"/>
<circle cx="381.40" cy="589.26" r="1.05" fill="#b01c1c" stroke="none" stroke-width="0.5"/>
<line x1="316.00" y1="597.95" x2="386.20" y2="597.95" stroke="#333" stroke-width="0.9"/>
<line x1="333.10" y1="597.95" x2="333.10" y2="600.50" stroke="#333" stroke-width="0.8"/>
<line x1="369.55" y1="597.95" x2="369.55" y2="600.50" stroke="#333" stroke-width="0.8"/>
<text x="333.10" y="608.29" font-size="8.3" text-anchor="middle" font-weight="normal" fill="#1a1a1a">3</text>
<text x="369.55" y="608.29" font-size="8.3" text-anchor="middle" font-weight="normal" fill="#1a1a1a">7</text>
<text x="351.00" y="622.04" font-size="8.45" text-anchor="middle" font-weight="normal" fill="#1a1a1a">Days posttreatment</text>
<text x="368.00" y="542.62" font-size="8.4" text-anchor="middle" font-weight="normal" fill="#1a1a1a">CD40<tspan font-size="5" dy="-3">+</tspan><tspan dy="3"> myeloid cells</tspan></text>
<text x="282.80" y="603.92" font-size="8.1" text-anchor="start" font-weight="normal" fill="#1a1a1a" transform="rotate(-90 282.80 601.00)">% of host</text>
<text x="293.20" y="603.92" font-size="8.1" text-anchor="start" font-weight="normal" fill="#1a1a1a" transform="rotate(-90 293.20 601.00)">myeloid cells</text>
<line x1="321.40" y1="566.50" x2="345.60" y2="566.50" stroke="#444" stroke-width="0.85"/>
<text x="333.50" y="566.70" font-size="8.2" text-anchor="middle" font-weight="normal" fill="#222">**</text>
<text x="2.50" y="648.20" font-size="15.2" font-weight="bold" fill="#000">M</text>
<text x="73.10" y="644.22" font-size="8.4" text-anchor="middle" font-weight="normal" fill="#1a1a1a">Heart</text>
<text x="172.70" y="644.22" font-size="8.4" text-anchor="middle" font-weight="normal" fill="#1a1a1a">Kidney</text>
<text x="272.50" y="644.22" font-size="8.4" text-anchor="middle" font-weight="normal" fill="#1a1a1a">Liver</text>
<text x="372.70" y="644.22" font-size="8.4" text-anchor="middle" font-weight="normal" fill="#1a1a1a">Spleen</text>
<text x="473.60" y="644.22" font-size="8.4" text-anchor="middle" font-weight="normal" fill="#1a1a1a">Lung</text>
<text x="21.80" y="691.82" font-size="8.4" text-anchor="middle" font-weight="normal" fill="#1a1a1a" transform="rotate(-90 21.80 688.80)">Naïve</text>
<text x="22.20" y="771.90" font-size="8.6" text-anchor="middle" font-weight="normal" fill="#1a1a1a" transform="rotate(-90 22.20 768.80)">AG2G+TA99</text>
<g clip-path="url(#c00)">
<rect x="33.30" y="650.20" width="88.30" height="73.40" fill="#000" filter="url(#fHeartN)" opacity="1.0"/>
<g clip-path="url(#hz1)"><g transform="rotate(-80 77.4 686.9)"><rect x="-6.7" y="610.2" width="168.3" height="153.4" fill="#000" filter="url(#fibN)" opacity="0.55"/></g></g>
<g clip-path="url(#hz2)"><g transform="rotate(-15 77.4 686.9)"><rect x="-6.7" y="610.2" width="168.3" height="153.4" fill="#000" filter="url(#fibN)" opacity="0.55"/></g></g>
<g clip-path="url(#hz3)"><g transform="rotate(-35 77.4 686.9)"><rect x="-6.7" y="610.2" width="168.3" height="153.4" fill="#000" filter="url(#fibN)" opacity="0.55"/></g></g>
<rect x="33.30" y="650.20" width="88.30" height="73.40" fill="#000" filter="url(#dLight)" opacity="0.25"/>
<path d="M37.3 652.0 Q37.5 665.9 40.6 679.4 Q40.4 665.6 37.3 652.0Z" fill="#f8dde2" opacity="0.9" filter="url(#bl05)"/>
<path d="M33.7 699.5 Q41.9 694.7 48.3 687.7 Q40.1 692.5 33.7 699.5Z" fill="#f8dde2" opacity="0.9" filter="url(#bl05)"/>
<path d="M35.5 705.9 Q47.3 699.3 57.4 690.4 Q45.6 697.0 35.5 705.9Z" fill="#f8dde2" opacity="0.9" filter="url(#bl05)"/>
<path d="M37.3 709.6 Q52.6 703.3 66.6 694.4 Q51.3 700.7 37.3 709.6Z" fill="#f8dde2" opacity="0.9" filter="url(#bl05)"/>
<path d="M41.0 715.1 Q57.1 708.6 72.0 699.5 Q55.9 706.0 41.0 715.1Z" fill="#f8dde2" opacity="0.9" filter="url(#bl05)"/>
<path d="M33.7 692.6 Q40.7 689.3 46.5 684.0 Q39.4 687.3 33.7 692.6Z" fill="#f8dde2" opacity="0.9" filter="url(#bl05)"/>
<path d="M34.6 681.3 Q39.4 677.3 42.8 672.1 Q38.0 676.1 34.6 681.3Z" fill="#f8dde2" opacity="0.9" filter="url(#bl05)"/>
<path d="M44.6 705.0 Q53.2 702.2 61.1 697.7 Q52.5 700.5 44.6 705.0Z" fill="#f8dde2" opacity="0.9" filter="url(#bl05)"/>
<path d="M48.3 714.2 Q63.4 708.9 77.5 701.4 Q62.4 706.7 48.3 714.2Z" fill="#f8dde2" opacity="0.9" filter="url(#bl05)"/>
<path d="M57.4 716.9 Q71.5 711.8 84.8 705.0 Q70.8 710.1 57.4 716.9Z" fill="#f8dde2" opacity="0.9" filter="url(#bl05)"/>
<path d="M35.5 666.6 Q38.7 664.4 41.0 661.2 Q37.7 663.4 35.5 666.6Z" fill="#f8dde2" opacity="0.9" filter="url(#bl05)"/>
<path d="M34.6 716.9 Q41.0 714.5 46.5 710.5 Q40.1 712.9 34.6 716.9Z" fill="#f8dde2" opacity="0.9" filter="url(#bl05)"/>
<line x1="37.30" y1="716.70" x2="57.30" y2="716.70" stroke="#f0c8d0" stroke-width="0.7"/>
</g>
<g clip-path="url(#c01)">
<rect x="33.30" y="736.70" width="88.30" height="72.80" fill="#000" filter="url(#fHeartA)" opacity="1.0"/>
<g transform="rotate(-12 77.4 773.1)"><rect x="13.3" y="716.7" width="128.3" height="112.8" fill="#000" filter="url(#fibA)" opacity="0.5"/></g>
<rect x="33.30" y="736.70" width="88.30" height="72.80" fill="#000" filter="url(#dLight)" opacity="0.3"/>
<path d="M37.3 755.9 Q58.1 753.1 84.8 750.4 Q56.8 742.2 37.3 755.9Z" fill="#fbf0f3" opacity="0.95" filter="url(#bl05)"/>
<path d="M62.9 744.9 Q74.2 745.4 84.8 743.1 Q73.6 738.1 62.9 744.9Z" fill="#fbf0f3" opacity="0.95" filter="url(#bl05)"/>
<path d="M35.5 760.4 Q45.1 761.1 53.8 757.7 Q44.2 755.3 35.5 760.4Z" fill="#fbf0f3" opacity="0.95" filter="url(#bl05)"/>
<path d="M41.0 763.2 Q52.3 763.0 62.0 760.4 Q51.6 757.9 41.0 763.2Z" fill="#fbf0f3" opacity="0.95" filter="url(#bl05)"/>
<path d="M37.3 775.4 Q52.9 772.9 71.1 767.7 Q51.0 764.4 37.3 775.4Z" fill="#fbf0f3" opacity="0.95" filter="url(#bl05)"/>
<path d="M35.5 781.4 Q47.4 779.3 57.4 773.6 Q45.5 773.8 35.5 781.4Z" fill="#fbf0f3" opacity="0.95" filter="url(#bl05)"/>
<path d="M55.6 777.8 Q67.7 776.2 69.9 788.8 Q70.9 772.1 55.6 777.8Z" fill="#fbf0f3" opacity="0.95" filter="url(#bl05)"/>
<path d="M66.6 793.3 Q69.4 802.7 73.9 808.0 Q74.0 800.4 66.6 793.3Z" fill="#fbf0f3" opacity="0.95" filter="url(#bl05)"/>
<path d="M35.5 787.8 Q43.7 787.5 51.9 782.4 Q41.9 782.0 35.5 787.8Z" fill="#fbf0f3" opacity="0.95" filter="url(#bl05)"/>
<path d="M37.3 795.2 Q47.5 793.9 55.6 787.8 Q45.4 788.4 37.3 795.2Z" fill="#fbf0f3" opacity="0.95" filter="url(#bl05)"/>
<path d="M37.3 803.4 Q51.3 801.9 61.1 795.2 Q48.9 795.0 37.3 803.4Z" fill="#fbf0f3" opacity="0.95" filter="url(#bl05)"/>
<path d="M75.7 782.7 Q84.7 782.6 90.7 779.6 Q83.2 775.5 75.7 782.7Z" fill="#fbf0f3" opacity="0.95" filter="url(#bl05)"/>
<path d="M99.5 784.6 Q109.5 785.2 118.1 780.9 Q107.8 776.6 99.5 784.6Z" fill="#fbf0f3" opacity="0.95" filter="url(#bl05)"/>
<path d="M105.0 772.7 Q111.4 773.3 115.2 769.6 Q109.5 767.0 105.0 772.7Z" fill="#fbf0f3" opacity="0.95" filter="url(#bl05)"/>
<path d="M73.9 795.5 Q81.7 795.5 88.5 792.4 Q80.7 790.5 73.9 795.5Z" fill="#fbf0f3" opacity="0.95" filter="url(#bl05)"/>
<path d="M84.8 802.8 Q95.1 801.5 103.1 795.5 Q92.9 796.1 84.8 802.8Z" fill="#fbf0f3" opacity="0.95" filter="url(#bl05)"/>
<path d="M94.0 791.9 Q102.1 791.7 106.8 787.8 Q100.5 786.9 94.0 791.9Z" fill="#fbf0f3" opacity="0.95" filter="url(#bl05)"/>
<path d="M35.5 746.2 Q41.3 746.5 48.3 744.0 Q40.7 742.9 35.5 746.2Z" fill="#fbf0f3" opacity="0.95" filter="url(#bl05)"/>
<path d="M48.3 787.8 Q54.4 787.2 60.2 784.6 Q53.2 783.0 48.3 787.8Z" fill="#fbf0f3" opacity="0.95" filter="url(#bl05)"/>
<path d="M59.3 804.3 Q67.7 802.5 72.0 797.0 Q65.5 798.7 59.3 804.3Z" fill="#fbf0f3" opacity="0.95" filter="url(#bl05)"/>
<path d="M84.8 760.4 Q90.6 760.4 97.6 758.2 Q90.0 756.8 84.8 760.4Z" fill="#fbf0f3" opacity="0.95" filter="url(#bl05)"/>
<path d="M106.8 753.1 Q110.9 752.7 115.9 750.4 Q110.0 749.9 106.8 753.1Z" fill="#fbf0f3" opacity="0.95" filter="url(#bl05)"/>
</g>
<g clip-path="url(#c10)">
<rect x="133.00" y="650.20" width="88.30" height="73.40" fill="#000" filter="url(#fKidN)" opacity="1.0"/>
<rect x="133.00" y="650.20" width="88.30" height="73.40" fill="#000" filter="url(#kNet)" opacity="0.3"/>
<rect x="133.00" y="650.20" width="88.30" height="73.40" fill="#000" filter="url(#dPurp)" opacity="0.3"/>
<g fill="#fbeef4"><circle cx="188.0" cy="704.6" r="0.94" fill-opacity="0.98"/><circle cx="198.3" cy="717.9" r="0.52" fill-opacity="0.79"/><circle cx="216.3" cy="697.8" r="1.00" fill-opacity="0.65"/><circle cx="174.4" cy="668.3" r="0.80" fill-opacity="0.83"/><circle cx="134.2" cy="666.1" r="0.65" fill-opacity="0.97"/><circle cx="200.6" cy="661.9" r="0.94" fill-opacity="0.66"/><circle cx="187.5" cy="659.5" r="0.50" fill-opacity="0.95"/><circle cx="151.5" cy="666.0" r="1.04" fill-opacity="0.95"/><circle cx="158.5" cy="720.8" r="0.80" fill-opacity="0.87"/><circle cx="151.1" cy="719.3" r="0.88" fill-opacity="0.99"/><circle cx="211.9" cy="672.1" r="0.70" fill-opacity="0.67"/><circle cx="145.9" cy="655.0" r="0.67" fill-opacity="0.84"/><circle cx="133.3" cy="700.0" r="0.69" fill-opacity="0.72"/><circle cx="205.3" cy="685.5" r="0.67" fill-opacity="0.79"/><circle cx="195.2" cy="654.4" r="1.04" fill-opacity="0.61"/><circle cx="199.2" cy="712.2" r="0.51" fill-opacity="0.92"/><circle cx="165.3" cy="692.7" r="0.50" fill-opacity="0.62"/><circle cx="149.0" cy="720.3" r="0.61" fill-opacity="0.90"/><circle cx="215.1" cy="719.3" r="0.69" fill-opacity="0.74"/><circle cx="179.3" cy="707.1" r="0.56" fill-opacity="0.90"/><circle cx="203.4" cy="713.3" r="0.52" fill-opacity="0.98"/><circle cx="141.1" cy="675.2" r="0.84" fill-opacity="0.97"/><circle cx="163.0" cy="718.0" r="0.80" fill-opacity="0.72"/><circle cx="161.0" cy="663.2" r="0.54" fill-opacity="0.66"/><circle cx="193.9" cy="723.4" r="0.59" fill-opacity="0.62"/><circle cx="220.1" cy="689.4" r="0.72" fill-opacity="0.69"/><circle cx="185.4" cy="710.9" r="0.75" fill-opacity="0.77"/><circle cx="137.9" cy="717.4" r="0.52" fill-opacity="0.80"/><circle cx="207.0" cy="659.8" r="0.90" fill-opacity="0.98"/><circle cx="188.7" cy="708.0" r="0.56" fill-opacity="0.77"/><circle cx="146.2" cy="712.2" r="0.66" fill-opacity="0.78"/><circle cx="221.2" cy="712.8" r="1.04" fill-opacity="0.78"/><circle cx="176.1" cy="703.7" r="0.76" fill-opacity="0.72"/><circle cx="168.7" cy="661.0" r="0.71" fill-opacity="1.00"/><circle cx="217.8" cy="696.2" r="0.77" fill-opacity="0.74"/><circle cx="140.9" cy="670.2" r="0.93" fill-opacity="0.95"/><circle cx="164.9" cy="707.9" r="0.93" fill-opacity="0.88"/><circle cx="191.6" cy="706.0" r="0.70" fill-opacity="0.88"/><circle cx="157.8" cy="685.8" r="0.92" fill-opacity="0.88"/><circle cx="158.9" cy="719.6" r="0.86" fill-opacity="0.83"/><circle cx="134.0" cy="690.3" r="0.64" fill-opacity="0.87"/><circle cx="173.9" cy="710.1" r="0.86" fill-opacity="0.92"/><circle cx="163.7" cy="697.5" r="0.91" fill-opacity="0.93"/><circle cx="163.9" cy="712.1" r="0.98" fill-opacity="0.88"/><circle cx="219.2" cy="720.4" r="0.78" fill-opacity="0.81"/><circle cx="147.7" cy="711.6" r="1.02" fill-opacity="0.79"/><circle cx="194.1" cy="703.0" r="0.90" fill-opacity="0.67"/><circle cx="201.9" cy="692.8" r="0.87" fill-opacity="0.77"/><circle cx="188.1" cy="707.1" r="0.85" fill-opacity="0.89"/><circle cx="135.4" cy="661.9" r="0.74" fill-opacity="0.86"/><circle cx="152.3" cy="700.5" r="0.85" fill-opacity="0.62"/><circle cx="174.6" cy="666.8" r="0.53" fill-opacity="0.65"/><circle cx="161.0" cy="663.5" r="0.61" fill-opacity="0.61"/><circle cx="174.1" cy="678.1" r="0.84" fill-opacity="0.84"/><circle cx="154.0" cy="716.5" r="0.50" fill-opacity="0.76"/><circle cx="157.6" cy="680.3" r="0.56" fill-opacity="0.93"/><circle cx="166.0" cy="652.8" r="0.84" fill-opacity="0.64"/><circle cx="181.1" cy="675.1" r="0.82" fill-opacity="0.98"/><circle cx="205.3" cy="681.0" r="0.95" fill-opacity="0.86"/><circle cx="165.6" cy="660.6" r="0.83" fill-opacity="0.83"/><circle cx="217.5" cy="721.3" r="0.83" fill-opacity="0.74"/><circle cx="211.9" cy="650.3" r="0.56" fill-opacity="0.83"/><circle cx="187.3" cy="660.5" r="0.85" fill-opacity="0.96"/><circle cx="166.2" cy="681.9" r="0.62" fill-opacity="0.72"/><circle cx="218.9" cy="678.1" r="1.03" fill-opacity="0.97"/><circle cx="185.6" cy="669.3" r="1.04" fill-opacity="0.80"/><circle cx="169.7" cy="673.6" r="1.04" fill-opacity="0.80"/><circle cx="158.3" cy="685.2" r="0.57" fill-opacity="0.85"/><circle cx="172.2" cy="671.7" r="0.93" fill-opacity="0.93"/><circle cx="134.2" cy="689.3" r="0.65" fill-opacity="0.97"/><circle cx="202.0" cy="668.2" r="0.65" fill-opacity="0.66"/><circle cx="220.3" cy="671.7" r="0.83" fill-opacity="0.79"/><circle cx="189.9" cy="694.5" r="0.91" fill-opacity="0.65"/><circle cx="200.1" cy="672.3" r="0.79" fill-opacity="0.73"/><circle cx="159.2" cy="689.1" r="0.76" fill-opacity="0.74"/><circle cx="198.8" cy="693.6" r="0.52" fill-opacity="0.70"/><circle cx="173.2" cy="717.5" r="0.99" fill-opacity="0.82"/><circle cx="134.3" cy="707.3" r="0.74" fill-opacity="0.83"/><circle cx="195.5" cy="696.6" r="0.77" fill-opacity="0.96"/><circle cx="167.0" cy="679.0" r="0.97" fill-opacity="0.68"/><circle cx="159.2" cy="711.1" r="0.54" fill-opacity="0.93"/><circle cx="194.3" cy="682.0" r="0.66" fill-opacity="0.91"/><circle cx="213.4" cy="660.7" r="0.76" fill-opacity="0.82"/><circle cx="176.9" cy="674.5" r="0.58" fill-opacity="0.83"/><circle cx="204.7" cy="655.2" r="0.63" fill-opacity="0.93"/><circle cx="202.9" cy="698.9" r="0.51" fill-opacity="0.89"/><circle cx="219.4" cy="723.5" r="0.89" fill-opacity="0.62"/><circle cx="207.4" cy="666.3" r="0.86" fill-opacity="0.98"/><circle cx="195.9" cy="660.1" r="0.66" fill-opacity="0.97"/><circle cx="146.2" cy="695.0" r="0.73" fill-opacity="0.66"/><circle cx="188.0" cy="653.4" r="0.56" fill-opacity="0.75"/><circle cx="139.4" cy="654.4" r="0.82" fill-opacity="0.90"/><circle cx="210.6" cy="660.1" r="0.74" fill-opacity="0.73"/><circle cx="186.0" cy="686.1" r="1.02" fill-opacity="0.75"/><circle cx="137.9" cy="701.4" r="0.58" fill-opacity="0.85"/><circle cx="177.7" cy="717.0" r="0.81" fill-opacity="0.85"/><circle cx="156.2" cy="690.7" r="0.64" fill-opacity="0.90"/><circle cx="178.7" cy="660.0" r="0.63" fill-opacity="0.75"/><circle cx="198.1" cy="663.4" r="0.89" fill-opacity="0.86"/><circle cx="140.5" cy="699.2" r="0.55" fill-opacity="0.65"/><circle cx="185.4" cy="667.7" r="0.98" fill-opacity="0.79"/><circle cx="161.5" cy="708.7" r="0.52" fill-opacity="0.89"/><circle cx="137.7" cy="661.3" r="1.02" fill-opacity="0.87"/><circle cx="152.7" cy="658.7" r="1.03" fill-opacity="0.87"/><circle cx="205.5" cy="660.5" r="0.84" fill-opacity="0.74"/><circle cx="153.8" cy="674.7" r="0.84" fill-opacity="0.74"/><circle cx="167.1" cy="660.2" r="0.96" fill-opacity="0.86"/><circle cx="204.0" cy="682.0" r="0.97" fill-opacity="0.81"/><circle cx="185.3" cy="692.3" r="0.91" fill-opacity="0.76"/><circle cx="141.6" cy="652.6" r="0.61" fill-opacity="0.62"/><circle cx="211.5" cy="685.5" r="0.92" fill-opacity="0.60"/><circle cx="174.5" cy="715.5" r="0.84" fill-opacity="0.77"/><circle cx="174.1" cy="657.5" r="0.59" fill-opacity="0.66"/><circle cx="166.1" cy="678.5" r="0.98" fill-opacity="0.66"/><circle cx="155.4" cy="670.6" r="0.59" fill-opacity="0.71"/><circle cx="153.8" cy="685.6" r="0.52" fill-opacity="0.97"/><circle cx="165.6" cy="719.0" r="0.88" fill-opacity="0.87"/><circle cx="174.7" cy="719.6" r="0.56" fill-opacity="0.87"/><circle cx="158.7" cy="699.7" r="0.90" fill-opacity="0.67"/><circle cx="150.8" cy="652.0" r="0.63" fill-opacity="0.63"/><circle cx="168.4" cy="721.7" r="0.70" fill-opacity="0.72"/><circle cx="174.3" cy="671.0" r="0.90" fill-opacity="0.89"/><circle cx="147.4" cy="667.9" r="0.87" fill-opacity="0.98"/><circle cx="190.0" cy="681.8" r="1.04" fill-opacity="0.60"/><circle cx="138.4" cy="707.4" r="0.73" fill-opacity="0.62"/><circle cx="181.4" cy="722.8" r="0.79" fill-opacity="0.74"/><circle cx="141.3" cy="655.4" r="0.99" fill-opacity="0.80"/><circle cx="215.6" cy="654.1" r="0.63" fill-opacity="0.62"/><circle cx="168.1" cy="654.6" r="0.64" fill-opacity="0.76"/><circle cx="160.0" cy="654.0" r="0.52" fill-opacity="0.99"/><circle cx="148.8" cy="687.5" r="0.72" fill-opacity="0.81"/><circle cx="140.4" cy="673.2" r="0.56" fill-opacity="0.82"/><circle cx="214.4" cy="694.1" r="0.97" fill-opacity="0.69"/><circle cx="134.5" cy="689.8" r="0.77" fill-opacity="0.83"/><circle cx="166.3" cy="696.1" r="0.90" fill-opacity="0.97"/><circle cx="160.2" cy="683.2" r="0.95" fill-opacity="0.69"/><circle cx="143.2" cy="673.1" r="0.55" fill-opacity="0.91"/><circle cx="205.4" cy="673.2" r="0.57" fill-opacity="0.63"/><circle cx="154.6" cy="656.4" r="0.74" fill-opacity="0.83"/><circle cx="154.7" cy="654.7" r="0.89" fill-opacity="0.62"/><circle cx="150.6" cy="671.2" r="0.71" fill-opacity="0.64"/><circle cx="170.1" cy="673.2" r="0.91" fill-opacity="0.82"/><circle cx="212.1" cy="698.2" r="0.92" fill-opacity="0.83"/><circle cx="172.0" cy="710.2" r="0.86" fill-opacity="0.98"/><circle cx="197.3" cy="701.7" r="0.65" fill-opacity="0.92"/><circle cx="166.8" cy="659.8" r="0.54" fill-opacity="0.67"/><circle cx="156.2" cy="699.8" r="0.66" fill-opacity="0.63"/><circle cx="200.4" cy="691.1" r="0.52" fill-opacity="0.62"/><circle cx="144.5" cy="676.4" r="0.97" fill-opacity="0.98"/><circle cx="187.0" cy="667.2" r="0.74" fill-opacity="0.74"/><circle cx="162.2" cy="651.1" r="0.82" fill-opacity="0.93"/><circle cx="197.2" cy="657.2" r="0.79" fill-opacity="0.67"/><circle cx="195.6" cy="683.0" r="1.02" fill-opacity="0.92"/><circle cx="143.4" cy="673.5" r="1.00" fill-opacity="0.78"/><circle cx="171.3" cy="682.6" r="0.92" fill-opacity="0.97"/><circle cx="180.0" cy="721.4" r="0.83" fill-opacity="0.64"/><circle cx="204.9" cy="681.0" r="0.53" fill-opacity="0.99"/><circle cx="135.9" cy="692.6" r="0.77" fill-opacity="0.95"/><circle cx="167.7" cy="666.0" r="0.65" fill-opacity="0.68"/><circle cx="182.7" cy="676.4" r="0.91" fill-opacity="0.70"/><circle cx="164.1" cy="668.4" r="1.04" fill-opacity="0.94"/><circle cx="208.0" cy="695.6" r="0.72" fill-opacity="0.66"/><circle cx="206.4" cy="686.2" r="0.52" fill-opacity="0.67"/><circle cx="141.7" cy="702.9" r="1.00" fill-opacity="0.68"/><circle cx="203.4" cy="674.0" r="0.88" fill-opacity="0.95"/><circle cx="188.0" cy="708.9" r="0.71" fill-opacity="0.60"/><circle cx="178.2" cy="693.3" r="0.60" fill-opacity="0.76"/><circle cx="161.0" cy="652.2" r="0.67" fill-opacity="0.75"/><circle cx="175.0" cy="701.8" r="0.72" fill-opacity="0.99"/><circle cx="205.0" cy="718.0" r="0.88" fill-opacity="0.87"/><circle cx="180.4" cy="708.8" r="0.70" fill-opacity="0.84"/><circle cx="193.0" cy="688.5" r="0.66" fill-opacity="0.63"/><circle cx="140.7" cy="676.3" r="0.82" fill-opacity="0.90"/><circle cx="196.1" cy="672.7" r="1.01" fill-opacity="0.71"/><circle cx="196.2" cy="655.5" r="0.91" fill-opacity="0.87"/><circle cx="217.5" cy="716.1" r="0.88" fill-opacity="0.94"/><circle cx="198.2" cy="695.0" r="0.61" fill-opacity="0.81"/><circle cx="212.1" cy="667.7" r="1.04" fill-opacity="0.82"/><circle cx="167.7" cy="650.4" r="0.71" fill-opacity="0.67"/><circle cx="190.7" cy="716.2" r="1.00" fill-opacity="0.85"/><circle cx="167.1" cy="658.2" r="0.88" fill-opacity="0.82"/><circle cx="196.2" cy="677.7" r="0.99" fill-opacity="0.69"/><circle cx="160.0" cy="669.8" r="0.84" fill-opacity="0.96"/><circle cx="147.8" cy="696.6" r="0.92" fill-opacity="0.69"/><circle cx="138.5" cy="691.7" r="0.96" fill-opacity="0.95"/><circle cx="197.3" cy="680.8" r="0.73" fill-opacity="0.81"/><circle cx="212.9" cy="672.4" r="0.65" fill-opacity="0.84"/><circle cx="218.3" cy="663.9" r="0.52" fill-opacity="0.65"/><circle cx="182.7" cy="694.5" r="0.60" fill-opacity="0.68"/><circle cx="185.5" cy="697.6" r="0.88" fill-opacity="0.89"/><circle cx="138.4" cy="685.8" r="0.96" fill-opacity="0.98"/><circle cx="161.1" cy="712.6" r="0.85" fill-opacity="0.97"/><circle cx="153.2" cy="701.3" r="0.96" fill-opacity="0.79"/><circle cx="141.9" cy="664.4" r="0.59" fill-opacity="0.64"/><circle cx="146.4" cy="695.4" r="0.56" fill-opacity="0.90"/><circle cx="198.0" cy="710.1" r="0.94" fill-opacity="0.89"/><circle cx="214.6" cy="720.4" r="0.84" fill-opacity="0.99"/><circle cx="142.1" cy="657.8" r="0.54" fill-opacity="0.68"/><circle cx="166.1" cy="683.9" r="0.87" fill-opacity="0.90"/><circle cx="140.4" cy="679.8" r="0.80" fill-opacity="0.75"/><circle cx="143.4" cy="694.0" r="0.71" fill-opacity="0.87"/><circle cx="176.8" cy="720.9" r="1.02" fill-opacity="0.63"/><circle cx="200.1" cy="703.1" r="0.66" fill-opacity="0.65"/><circle cx="175.3" cy="676.2" r="0.91" fill-opacity="0.97"/><circle cx="166.7" cy="671.5" r="0.77" fill-opacity="0.88"/><circle cx="202.7" cy="692.5" r="0.66" fill-opacity="0.73"/><circle cx="207.9" cy="688.3" r="0.53" fill-opacity="0.77"/><circle cx="154.0" cy="699.1" r="0.54" fill-opacity="0.71"/><circle cx="141.5" cy="685.3" r="1.04" fill-opacity="0.82"/><circle cx="167.1" cy="718.7" r="0.55" fill-opacity="0.74"/><circle cx="204.6" cy="650.6" r="0.92" fill-opacity="0.74"/><circle cx="134.4" cy="668.6" r="0.75" fill-opacity="0.75"/><circle cx="178.6" cy="654.1" r="0.62" fill-opacity="0.99"/><circle cx="172.1" cy="684.8" r="0.55" fill-opacity="0.71"/><circle cx="217.3" cy="700.6" r="0.78" fill-opacity="0.62"/><circle cx="167.7" cy="707.3" r="0.74" fill-opacity="0.84"/><circle cx="212.7" cy="697.6" r="0.85" fill-opacity="0.61"/><circle cx="135.1" cy="706.7" r="0.73" fill-opacity="0.95"/><circle cx="205.9" cy="717.4" r="0.71" fill-opacity="1.00"/><circle cx="199.8" cy="715.7" r="0.58" fill-opacity="0.91"/><circle cx="170.3" cy="721.6" r="1.05" fill-opacity="0.69"/><circle cx="170.2" cy="670.1" r="0.76" fill-opacity="0.71"/><circle cx="191.9" cy="659.3" r="0.59" fill-opacity="0.78"/><circle cx="139.5" cy="678.2" r="0.99" fill-opacity="0.95"/><circle cx="150.4" cy="651.6" r="0.96" fill-opacity="0.98"/><circle cx="185.9" cy="660.2" r="0.63" fill-opacity="0.97"/><circle cx="215.8" cy="652.5" r="0.60" fill-opacity="0.77"/><circle cx="156.5" cy="705.5" r="0.71" fill-opacity="0.91"/><circle cx="146.4" cy="688.2" r="1.04" fill-opacity="0.88"/><circle cx="141.0" cy="658.3" r="0.85" fill-opacity="0.75"/></g>
<ellipse cx="157.4" cy="684.3" rx="5.5" ry="7.2" fill="#8a2c6a" opacity="0.75" filter="url(#bl05)"/>
<circle cx="159.57" cy="687.49" r="1.41" fill="#c03050" stroke="none" stroke-width="0.5"/>
<circle cx="159.56" cy="686.89" r="1.18" fill="#e8c0d8" stroke="none" stroke-width="0.5"/>
<circle cx="157.49" cy="683.84" r="0.82" fill="#e8c0d8" stroke="none" stroke-width="0.5"/>
<circle cx="154.72" cy="685.88" r="0.80" fill="#e8c0d8" stroke="none" stroke-width="0.5"/>
<circle cx="157.08" cy="688.32" r="1.27" fill="#3a1450" stroke="none" stroke-width="0.5"/>
<circle cx="157.50" cy="684.21" r="0.82" fill="#3a1450" stroke="none" stroke-width="0.5"/>
<circle cx="158.76" cy="683.58" r="0.97" fill="#e8c0d8" stroke="none" stroke-width="0.5"/>
<circle cx="157.09" cy="681.67" r="1.41" fill="#e8c0d8" stroke="none" stroke-width="0.5"/>
<circle cx="156.14" cy="683.73" r="1.34" fill="#e8c0d8" stroke="none" stroke-width="0.5"/>
<path d="M156.4 691.4 A5.5 7.2 0 1 1 160.2 678.1" fill="none" stroke="#f6eef2" stroke-width="1.4" opacity="0.95"/>
<ellipse cx="212.3" cy="688.0" rx="7.3" ry="8.2" fill="#8a2c6a" opacity="0.75" filter="url(#bl05)"/>
<circle cx="216.96" cy="686.52" r="0.85" fill="#3a1450" stroke="none" stroke-width="0.5"/>
<circle cx="211.74" cy="688.74" r="1.45" fill="#c03050" stroke="none" stroke-width="0.5"/>
<circle cx="212.29" cy="689.22" r="0.83" fill="#4a1a5a" stroke="none" stroke-width="0.5"/>
<circle cx="215.56" cy="687.99" r="1.44" fill="#c03050" stroke="none" stroke-width="0.5"/>
<circle cx="210.11" cy="687.30" r="1.01" fill="#3a1450" stroke="none" stroke-width="0.5"/>
<circle cx="213.58" cy="686.49" r="1.55" fill="#e8c0d8" stroke="none" stroke-width="0.5"/>
<circle cx="208.29" cy="690.34" r="0.93" fill="#4a1a5a" stroke="none" stroke-width="0.5"/>
<circle cx="212.31" cy="688.14" r="1.06" fill="#4a1a5a" stroke="none" stroke-width="0.5"/>
<circle cx="210.47" cy="687.87" r="1.21" fill="#4a1a5a" stroke="none" stroke-width="0.5"/>
<path d="M216.0 695.1 A7.3 8.2 0 1 1 209.8 680.3" fill="none" stroke="#f6eef2" stroke-width="1.4" opacity="0.95"/>
<ellipse cx="203.0" cy="653.0" rx="6.5" ry="6.0" fill="#8a2c6a" opacity="0.75" filter="url(#bl05)"/>
<circle cx="203.19" cy="655.28" r="1.10" fill="#e8c0d8" stroke="none" stroke-width="0.5"/>
<circle cx="202.79" cy="652.80" r="0.81" fill="#e8c0d8" stroke="none" stroke-width="0.5"/>
<circle cx="202.94" cy="653.98" r="1.60" fill="#e8c0d8" stroke="none" stroke-width="0.5"/>
<circle cx="200.58" cy="652.41" r="1.12" fill="#4a1a5a" stroke="none" stroke-width="0.5"/>
<circle cx="203.08" cy="653.63" r="1.54" fill="#e8c0d8" stroke="none" stroke-width="0.5"/>
<circle cx="202.83" cy="650.18" r="0.85" fill="#3a1450" stroke="none" stroke-width="0.5"/>
<circle cx="202.96" cy="653.12" r="1.49" fill="#e8c0d8" stroke="none" stroke-width="0.5"/>
<circle cx="199.53" cy="650.83" r="1.11" fill="#e8c0d8" stroke="none" stroke-width="0.5"/>
<circle cx="200.12" cy="655.06" r="1.16" fill="#4a1a5a" stroke="none" stroke-width="0.5"/>
<path d="M197.4 656.0 A6.5 6.0 0 1 1 208.0 656.9" fill="none" stroke="#f6eef2" stroke-width="1.4" opacity="0.95"/>
<ellipse cx="146.5" cy="714.5" rx="5.0" ry="4.0" fill="#f2e0ea" opacity="0.85" filter="url(#bl1)"/>
</g>
<g clip-path="url(#c11)">
<rect x="133.00" y="736.70" width="88.30" height="72.80" fill="#000" filter="url(#fKidA)" opacity="1.0"/>
<rect x="133.00" y="736.70" width="88.30" height="72.80" fill="#000" filter="url(#kNet)" opacity="0.3"/>
<rect x="133.00" y="736.70" width="88.30" height="72.80" fill="#000" filter="url(#dPurp)" opacity="0.3"/>
<g fill="#fbeef4"><circle cx="188.0" cy="790.7" r="0.94" fill-opacity="0.98"/><circle cx="198.3" cy="803.8" r="0.52" fill-opacity="0.79"/><circle cx="216.3" cy="783.9" r="1.00" fill-opacity="0.65"/><circle cx="174.4" cy="754.7" r="0.80" fill-opacity="0.83"/><circle cx="134.2" cy="752.5" r="0.65" fill-opacity="0.97"/><circle cx="200.6" cy="748.3" r="0.94" fill-opacity="0.66"/><circle cx="187.5" cy="745.9" r="0.50" fill-opacity="0.95"/><circle cx="151.5" cy="752.4" r="1.04" fill-opacity="0.95"/><circle cx="158.5" cy="806.7" r="0.80" fill-opacity="0.87"/><circle cx="151.1" cy="805.2" r="0.88" fill-opacity="0.99"/><circle cx="211.9" cy="758.5" r="0.70" fill-opacity="0.67"/><circle cx="145.9" cy="741.4" r="0.67" fill-opacity="0.84"/><circle cx="133.3" cy="786.1" r="0.69" fill-opacity="0.72"/><circle cx="205.3" cy="771.7" r="0.67" fill-opacity="0.79"/><circle cx="195.2" cy="740.8" r="1.04" fill-opacity="0.61"/><circle cx="199.2" cy="798.2" r="0.51" fill-opacity="0.92"/><circle cx="165.3" cy="778.8" r="0.50" fill-opacity="0.62"/><circle cx="149.0" cy="806.2" r="0.61" fill-opacity="0.90"/><circle cx="215.1" cy="805.3" r="0.69" fill-opacity="0.74"/><circle cx="179.3" cy="793.2" r="0.56" fill-opacity="0.90"/><circle cx="203.4" cy="799.3" r="0.52" fill-opacity="0.98"/><circle cx="141.1" cy="761.5" r="0.84" fill-opacity="0.97"/><circle cx="163.0" cy="804.0" r="0.80" fill-opacity="0.72"/><circle cx="161.0" cy="749.6" r="0.54" fill-opacity="0.66"/><circle cx="193.9" cy="809.3" r="0.59" fill-opacity="0.62"/><circle cx="220.1" cy="775.5" r="0.72" fill-opacity="0.69"/><circle cx="185.4" cy="796.9" r="0.75" fill-opacity="0.77"/><circle cx="137.9" cy="803.4" r="0.52" fill-opacity="0.80"/><circle cx="207.0" cy="746.2" r="0.90" fill-opacity="0.98"/><circle cx="188.7" cy="794.1" r="0.56" fill-opacity="0.77"/><circle cx="146.2" cy="798.2" r="0.66" fill-opacity="0.78"/><circle cx="221.2" cy="798.7" r="1.04" fill-opacity="0.78"/><circle cx="176.1" cy="789.8" r="0.76" fill-opacity="0.72"/><circle cx="168.7" cy="747.4" r="0.71" fill-opacity="1.00"/><circle cx="217.8" cy="782.3" r="0.77" fill-opacity="0.74"/><circle cx="140.9" cy="756.5" r="0.93" fill-opacity="0.95"/><circle cx="164.9" cy="793.9" r="0.93" fill-opacity="0.88"/><circle cx="191.6" cy="792.0" r="0.70" fill-opacity="0.88"/><circle cx="157.8" cy="772.1" r="0.92" fill-opacity="0.88"/><circle cx="158.9" cy="805.5" r="0.86" fill-opacity="0.83"/><circle cx="134.0" cy="776.5" r="0.64" fill-opacity="0.87"/><circle cx="173.9" cy="796.2" r="0.86" fill-opacity="0.92"/><circle cx="163.7" cy="783.6" r="0.91" fill-opacity="0.93"/><circle cx="163.9" cy="798.1" r="0.98" fill-opacity="0.88"/><circle cx="219.2" cy="806.3" r="0.78" fill-opacity="0.81"/><circle cx="147.7" cy="797.6" r="1.02" fill-opacity="0.79"/><circle cx="194.1" cy="789.1" r="0.90" fill-opacity="0.67"/><circle cx="201.9" cy="779.0" r="0.87" fill-opacity="0.77"/><circle cx="188.1" cy="793.1" r="0.85" fill-opacity="0.89"/><circle cx="135.4" cy="748.3" r="0.74" fill-opacity="0.86"/><circle cx="152.3" cy="786.6" r="0.85" fill-opacity="0.62"/><circle cx="174.6" cy="753.2" r="0.53" fill-opacity="0.65"/><circle cx="161.0" cy="749.9" r="0.61" fill-opacity="0.61"/><circle cx="174.1" cy="764.4" r="0.84" fill-opacity="0.84"/><circle cx="154.0" cy="802.5" r="0.50" fill-opacity="0.76"/><circle cx="157.6" cy="766.6" r="0.56" fill-opacity="0.93"/><circle cx="166.0" cy="739.3" r="0.84" fill-opacity="0.64"/><circle cx="181.1" cy="761.4" r="0.82" fill-opacity="0.98"/><circle cx="205.3" cy="767.2" r="0.95" fill-opacity="0.86"/><circle cx="165.6" cy="747.0" r="0.83" fill-opacity="0.83"/><circle cx="217.5" cy="807.2" r="0.83" fill-opacity="0.74"/><circle cx="211.9" cy="736.8" r="0.56" fill-opacity="0.83"/><circle cx="187.3" cy="746.9" r="0.85" fill-opacity="0.96"/><circle cx="166.2" cy="768.1" r="0.62" fill-opacity="0.72"/><circle cx="218.9" cy="764.3" r="1.03" fill-opacity="0.97"/><circle cx="185.6" cy="755.6" r="1.04" fill-opacity="0.80"/><circle cx="169.7" cy="759.9" r="1.04" fill-opacity="0.80"/><circle cx="158.3" cy="771.4" r="0.57" fill-opacity="0.85"/><circle cx="172.2" cy="758.0" r="0.93" fill-opacity="0.93"/><circle cx="134.2" cy="775.5" r="0.65" fill-opacity="0.97"/><circle cx="202.0" cy="754.6" r="0.65" fill-opacity="0.66"/><circle cx="220.3" cy="758.0" r="0.83" fill-opacity="0.79"/><circle cx="189.9" cy="780.7" r="0.91" fill-opacity="0.65"/><circle cx="200.1" cy="758.6" r="0.79" fill-opacity="0.73"/><circle cx="159.2" cy="775.3" r="0.76" fill-opacity="0.74"/><circle cx="198.8" cy="779.7" r="0.52" fill-opacity="0.70"/><circle cx="173.2" cy="803.4" r="0.99" fill-opacity="0.82"/><circle cx="134.3" cy="793.4" r="0.74" fill-opacity="0.83"/><circle cx="195.5" cy="782.7" r="0.77" fill-opacity="0.96"/><circle cx="167.0" cy="765.2" r="0.97" fill-opacity="0.68"/><circle cx="159.2" cy="797.1" r="0.54" fill-opacity="0.93"/><circle cx="194.3" cy="768.2" r="0.66" fill-opacity="0.91"/><circle cx="213.4" cy="747.1" r="0.76" fill-opacity="0.82"/><circle cx="176.9" cy="760.8" r="0.58" fill-opacity="0.83"/><circle cx="204.7" cy="741.7" r="0.63" fill-opacity="0.93"/><circle cx="202.9" cy="785.0" r="0.51" fill-opacity="0.89"/><circle cx="219.4" cy="809.4" r="0.89" fill-opacity="0.62"/><circle cx="207.4" cy="752.7" r="0.86" fill-opacity="0.98"/><circle cx="195.9" cy="746.5" r="0.66" fill-opacity="0.97"/><circle cx="146.2" cy="781.2" r="0.73" fill-opacity="0.66"/><circle cx="188.0" cy="739.9" r="0.56" fill-opacity="0.75"/><circle cx="139.4" cy="740.9" r="0.82" fill-opacity="0.90"/><circle cx="210.6" cy="746.5" r="0.74" fill-opacity="0.73"/><circle cx="186.0" cy="772.3" r="1.02" fill-opacity="0.75"/><circle cx="137.9" cy="787.5" r="0.58" fill-opacity="0.85"/><circle cx="177.7" cy="803.0" r="0.81" fill-opacity="0.85"/><circle cx="156.2" cy="776.9" r="0.64" fill-opacity="0.90"/><circle cx="178.7" cy="746.4" r="0.63" fill-opacity="0.75"/><circle cx="198.1" cy="749.8" r="0.89" fill-opacity="0.86"/><circle cx="140.5" cy="785.3" r="0.55" fill-opacity="0.65"/><circle cx="185.4" cy="754.1" r="0.98" fill-opacity="0.79"/><circle cx="161.5" cy="794.7" r="0.52" fill-opacity="0.89"/><circle cx="137.7" cy="747.7" r="1.02" fill-opacity="0.87"/><circle cx="152.7" cy="745.2" r="1.03" fill-opacity="0.87"/><circle cx="205.5" cy="746.9" r="0.84" fill-opacity="0.74"/><circle cx="153.8" cy="761.0" r="0.84" fill-opacity="0.74"/><circle cx="167.1" cy="746.6" r="0.96" fill-opacity="0.86"/><circle cx="204.0" cy="768.3" r="0.97" fill-opacity="0.81"/><circle cx="185.3" cy="778.4" r="0.91" fill-opacity="0.76"/><circle cx="141.6" cy="739.1" r="0.61" fill-opacity="0.62"/><circle cx="211.5" cy="771.7" r="0.92" fill-opacity="0.60"/><circle cx="174.5" cy="801.5" r="0.84" fill-opacity="0.77"/><circle cx="174.1" cy="744.0" r="0.59" fill-opacity="0.66"/><circle cx="166.1" cy="764.8" r="0.98" fill-opacity="0.66"/><circle cx="155.4" cy="756.9" r="0.59" fill-opacity="0.71"/><circle cx="153.8" cy="771.8" r="0.52" fill-opacity="0.97"/><circle cx="165.6" cy="805.0" r="0.88" fill-opacity="0.87"/><circle cx="174.7" cy="805.5" r="0.56" fill-opacity="0.87"/><circle cx="158.7" cy="785.8" r="0.90" fill-opacity="0.67"/><circle cx="150.8" cy="738.5" r="0.63" fill-opacity="0.63"/><circle cx="168.4" cy="807.6" r="0.70" fill-opacity="0.72"/><circle cx="174.3" cy="757.3" r="0.90" fill-opacity="0.89"/><circle cx="147.4" cy="754.2" r="0.87" fill-opacity="0.98"/><circle cx="190.0" cy="768.1" r="1.04" fill-opacity="0.60"/><circle cx="138.4" cy="793.4" r="0.73" fill-opacity="0.62"/><circle cx="181.4" cy="808.7" r="0.79" fill-opacity="0.74"/><circle cx="141.3" cy="741.9" r="0.99" fill-opacity="0.80"/><circle cx="215.6" cy="740.6" r="0.63" fill-opacity="0.62"/><circle cx="168.1" cy="741.1" r="0.64" fill-opacity="0.76"/><circle cx="160.0" cy="740.4" r="0.52" fill-opacity="0.99"/><circle cx="148.8" cy="773.7" r="0.72" fill-opacity="0.81"/><circle cx="140.4" cy="759.6" r="0.56" fill-opacity="0.82"/><circle cx="214.4" cy="780.3" r="0.97" fill-opacity="0.69"/><circle cx="134.5" cy="776.0" r="0.77" fill-opacity="0.83"/><circle cx="166.3" cy="782.2" r="0.90" fill-opacity="0.97"/><circle cx="160.2" cy="769.4" r="0.95" fill-opacity="0.69"/><circle cx="143.2" cy="759.4" r="0.55" fill-opacity="0.91"/><circle cx="205.4" cy="759.5" r="0.57" fill-opacity="0.63"/><circle cx="154.6" cy="742.8" r="0.74" fill-opacity="0.83"/><circle cx="154.7" cy="741.2" r="0.89" fill-opacity="0.62"/><circle cx="150.6" cy="757.5" r="0.71" fill-opacity="0.64"/><circle cx="170.1" cy="759.6" r="0.91" fill-opacity="0.82"/><circle cx="212.1" cy="784.3" r="0.92" fill-opacity="0.83"/><circle cx="172.0" cy="796.2" r="0.86" fill-opacity="0.98"/><circle cx="197.3" cy="787.7" r="0.65" fill-opacity="0.92"/><circle cx="166.8" cy="746.2" r="0.54" fill-opacity="0.67"/><circle cx="156.2" cy="785.9" r="0.66" fill-opacity="0.63"/><circle cx="200.4" cy="777.3" r="0.52" fill-opacity="0.62"/><circle cx="144.5" cy="762.7" r="0.97" fill-opacity="0.98"/><circle cx="187.0" cy="753.5" r="0.74" fill-opacity="0.74"/><circle cx="162.2" cy="737.6" r="0.82" fill-opacity="0.93"/><circle cx="197.2" cy="743.6" r="0.79" fill-opacity="0.67"/><circle cx="195.6" cy="769.2" r="1.02" fill-opacity="0.92"/><circle cx="143.4" cy="759.8" r="1.00" fill-opacity="0.78"/><circle cx="171.3" cy="768.8" r="0.92" fill-opacity="0.97"/><circle cx="180.0" cy="807.3" r="0.83" fill-opacity="0.64"/><circle cx="204.9" cy="767.2" r="0.53" fill-opacity="0.99"/><circle cx="135.9" cy="778.7" r="0.77" fill-opacity="0.95"/><circle cx="167.7" cy="752.4" r="0.65" fill-opacity="0.68"/><circle cx="182.7" cy="762.7" r="0.91" fill-opacity="0.70"/><circle cx="164.1" cy="754.8" r="1.04" fill-opacity="0.94"/><circle cx="208.0" cy="781.7" r="0.72" fill-opacity="0.66"/><circle cx="206.4" cy="772.4" r="0.52" fill-opacity="0.67"/><circle cx="141.7" cy="788.9" r="1.00" fill-opacity="0.68"/><circle cx="203.4" cy="760.3" r="0.88" fill-opacity="0.95"/><circle cx="188.0" cy="795.0" r="0.71" fill-opacity="0.60"/><circle cx="178.2" cy="779.4" r="0.60" fill-opacity="0.76"/><circle cx="161.0" cy="738.7" r="0.67" fill-opacity="0.75"/><circle cx="175.0" cy="787.9" r="0.72" fill-opacity="0.99"/><circle cx="205.0" cy="804.0" r="0.88" fill-opacity="0.87"/><circle cx="180.4" cy="794.8" r="0.70" fill-opacity="0.84"/><circle cx="193.0" cy="774.7" r="0.66" fill-opacity="0.63"/><circle cx="140.7" cy="762.6" r="0.82" fill-opacity="0.90"/><circle cx="196.1" cy="759.0" r="1.01" fill-opacity="0.71"/><circle cx="196.2" cy="741.9" r="0.91" fill-opacity="0.87"/><circle cx="217.5" cy="802.0" r="0.88" fill-opacity="0.94"/><circle cx="198.2" cy="781.2" r="0.61" fill-opacity="0.81"/><circle cx="212.1" cy="754.1" r="1.04" fill-opacity="0.82"/><circle cx="167.7" cy="736.9" r="0.71" fill-opacity="0.67"/><circle cx="190.7" cy="802.2" r="1.00" fill-opacity="0.85"/><circle cx="167.1" cy="744.6" r="0.88" fill-opacity="0.82"/><circle cx="196.2" cy="763.9" r="0.99" fill-opacity="0.69"/><circle cx="160.0" cy="756.2" r="0.84" fill-opacity="0.96"/><circle cx="147.8" cy="782.8" r="0.92" fill-opacity="0.69"/><circle cx="138.5" cy="777.9" r="0.96" fill-opacity="0.95"/><circle cx="197.3" cy="767.0" r="0.73" fill-opacity="0.81"/><circle cx="212.9" cy="758.7" r="0.65" fill-opacity="0.84"/><circle cx="218.3" cy="750.3" r="0.52" fill-opacity="0.65"/><circle cx="182.7" cy="780.6" r="0.60" fill-opacity="0.68"/><circle cx="185.5" cy="783.8" r="0.88" fill-opacity="0.89"/><circle cx="138.4" cy="772.0" r="0.96" fill-opacity="0.98"/><circle cx="161.1" cy="798.6" r="0.85" fill-opacity="0.97"/><circle cx="153.2" cy="787.4" r="0.96" fill-opacity="0.79"/><circle cx="141.9" cy="750.8" r="0.59" fill-opacity="0.64"/><circle cx="146.4" cy="781.5" r="0.56" fill-opacity="0.90"/><circle cx="198.0" cy="796.1" r="0.94" fill-opacity="0.89"/><circle cx="214.6" cy="806.4" r="0.84" fill-opacity="0.99"/><circle cx="142.1" cy="744.2" r="0.54" fill-opacity="0.68"/><circle cx="166.1" cy="770.1" r="0.87" fill-opacity="0.90"/><circle cx="140.4" cy="766.1" r="0.80" fill-opacity="0.75"/><circle cx="143.4" cy="780.2" r="0.71" fill-opacity="0.87"/><circle cx="176.8" cy="806.8" r="1.02" fill-opacity="0.63"/><circle cx="200.1" cy="789.2" r="0.66" fill-opacity="0.65"/><circle cx="175.3" cy="762.5" r="0.91" fill-opacity="0.97"/><circle cx="166.7" cy="757.9" r="0.77" fill-opacity="0.88"/><circle cx="202.7" cy="778.6" r="0.66" fill-opacity="0.73"/><circle cx="207.9" cy="774.5" r="0.53" fill-opacity="0.77"/><circle cx="154.0" cy="785.2" r="0.54" fill-opacity="0.71"/><circle cx="141.5" cy="771.5" r="1.04" fill-opacity="0.82"/><circle cx="167.1" cy="804.7" r="0.55" fill-opacity="0.74"/><circle cx="204.6" cy="737.1" r="0.92" fill-opacity="0.74"/><circle cx="134.4" cy="755.0" r="0.75" fill-opacity="0.75"/><circle cx="178.6" cy="740.6" r="0.62" fill-opacity="0.99"/><circle cx="172.1" cy="771.1" r="0.55" fill-opacity="0.71"/><circle cx="217.3" cy="786.7" r="0.78" fill-opacity="0.62"/><circle cx="167.7" cy="793.4" r="0.74" fill-opacity="0.84"/><circle cx="212.7" cy="783.7" r="0.85" fill-opacity="0.61"/><circle cx="135.1" cy="792.7" r="0.73" fill-opacity="0.95"/><circle cx="205.9" cy="803.3" r="0.71" fill-opacity="1.00"/><circle cx="199.8" cy="801.6" r="0.58" fill-opacity="0.91"/><circle cx="170.3" cy="807.5" r="1.05" fill-opacity="0.69"/><circle cx="170.2" cy="756.4" r="0.76" fill-opacity="0.71"/><circle cx="191.9" cy="745.7" r="0.59" fill-opacity="0.78"/><circle cx="139.5" cy="764.4" r="0.99" fill-opacity="0.95"/><circle cx="150.4" cy="738.0" r="0.96" fill-opacity="0.98"/><circle cx="185.9" cy="746.6" r="0.63" fill-opacity="0.97"/><circle cx="215.8" cy="739.0" r="0.60" fill-opacity="0.77"/><circle cx="156.5" cy="791.6" r="0.71" fill-opacity="0.91"/><circle cx="146.4" cy="774.4" r="1.04" fill-opacity="0.88"/><circle cx="141.0" cy="744.8" r="0.85" fill-opacity="0.75"/></g>
<ellipse cx="176.8" cy="749.5" rx="7.0" ry="7.5" fill="#8a2c6a" opacity="0.75" filter="url(#bl05)"/>
<circle cx="176.84" cy="750.04" r="1.12" fill="#4a1a5a" stroke="none" stroke-width="0.5"/>
<circle cx="176.88" cy="749.56" r="1.24" fill="#c03050" stroke="none" stroke-width="0.5"/>
<circle cx="177.97" cy="745.68" r="0.98" fill="#c03050" stroke="none" stroke-width="0.5"/>
<circle cx="176.66" cy="750.39" r="0.88" fill="#4a1a5a" stroke="none" stroke-width="0.5"/>
<circle cx="176.92" cy="749.45" r="1.31" fill="#c03050" stroke="none" stroke-width="0.5"/>
<circle cx="177.10" cy="748.54" r="1.05" fill="#c03050" stroke="none" stroke-width="0.5"/>
<circle cx="179.34" cy="751.15" r="1.34" fill="#4a1a5a" stroke="none" stroke-width="0.5"/>
<circle cx="177.82" cy="751.73" r="0.87" fill="#c03050" stroke="none" stroke-width="0.5"/>
<circle cx="178.23" cy="749.57" r="1.36" fill="#c03050" stroke="none" stroke-width="0.5"/>
<path d="M183.8 749.5 A7.0 7.5 0 1 1 182.9 745.8" fill="none" stroke="#f6eef2" stroke-width="1.4" opacity="0.95"/>
<ellipse cx="155.0" cy="763.0" rx="6.0" ry="6.5" fill="#8a2c6a" opacity="0.75" filter="url(#bl05)"/>
<circle cx="152.77" cy="760.65" r="1.44" fill="#3a1450" stroke="none" stroke-width="0.5"/>
<circle cx="156.75" cy="760.02" r="1.00" fill="#3a1450" stroke="none" stroke-width="0.5"/>
<circle cx="155.39" cy="762.70" r="1.18" fill="#4a1a5a" stroke="none" stroke-width="0.5"/>
<circle cx="154.69" cy="763.32" r="1.00" fill="#4a1a5a" stroke="none" stroke-width="0.5"/>
<circle cx="154.36" cy="763.45" r="1.49" fill="#e8c0d8" stroke="none" stroke-width="0.5"/>
<circle cx="156.80" cy="766.06" r="0.91" fill="#e8c0d8" stroke="none" stroke-width="0.5"/>
<circle cx="155.01" cy="763.01" r="1.50" fill="#4a1a5a" stroke="none" stroke-width="0.5"/>
<circle cx="155.60" cy="758.68" r="0.93" fill="#4a1a5a" stroke="none" stroke-width="0.5"/>
<circle cx="154.01" cy="767.24" r="1.23" fill="#4a1a5a" stroke="none" stroke-width="0.5"/>
<path d="M154.0 769.4 A6.0 6.5 0 1 1 160.2 759.8" fill="none" stroke="#f6eef2" stroke-width="1.4" opacity="0.95"/>
<ellipse cx="213.0" cy="755.0" rx="5.5" ry="6.5" fill="#8a2c6a" opacity="0.75" filter="url(#bl05)"/>
<circle cx="213.85" cy="751.40" r="1.19" fill="#c03050" stroke="none" stroke-width="0.5"/>
<circle cx="213.55" cy="755.15" r="1.27" fill="#c03050" stroke="none" stroke-width="0.5"/>
<circle cx="212.96" cy="755.09" r="1.19" fill="#4a1a5a" stroke="none" stroke-width="0.5"/>
<circle cx="212.80" cy="753.13" r="1.23" fill="#3a1450" stroke="none" stroke-width="0.5"/>
<circle cx="213.75" cy="757.36" r="1.44" fill="#c03050" stroke="none" stroke-width="0.5"/>
<circle cx="211.78" cy="752.63" r="0.87" fill="#e8c0d8" stroke="none" stroke-width="0.5"/>
<circle cx="212.82" cy="755.36" r="1.44" fill="#c03050" stroke="none" stroke-width="0.5"/>
<circle cx="212.66" cy="755.14" r="0.96" fill="#c03050" stroke="none" stroke-width="0.5"/>
<circle cx="213.14" cy="755.12" r="1.52" fill="#c03050" stroke="none" stroke-width="0.5"/>
<path d="M210.2 760.6 A5.5 6.5 0 1 1 217.8 751.8" fill="none" stroke="#f6eef2" stroke-width="1.4" opacity="0.95"/>
<path d="M161 768 Q166 772 165 778 Q170 786 166 795 Q160 790 158 782 Q156 774 161 768Z" fill="#faf2f6" opacity="0.95" filter="url(#bl05)"/>
<ellipse cx="150.0" cy="786.0" rx="3.0" ry="5.0" fill="#f8eef3" opacity="0.9" filter="url(#bl1)"/>
<ellipse cx="175.0" cy="790.0" rx="4.0" ry="3.0" fill="#f6e8ef" opacity="0.85" filter="url(#bl1)"/>
<ellipse cx="185.0" cy="795.0" rx="5.0" ry="3.0" fill="#f6e8ef" opacity="0.7" filter="url(#bl1)"/>
</g>
<g clip-path="url(#c20)">
<rect x="232.60" y="650.20" width="88.30" height="73.40" fill="#000" filter="url(#fLivN)" opacity="1.0"/>
<rect x="232.60" y="650.20" width="88.30" height="73.40" fill="#000" filter="url(#livNet)" opacity="0.35"/>
<rect x="232.60" y="650.20" width="88.30" height="73.40" fill="#000" filter="url(#dDark)" opacity="0.35"/>
<rect x="232.60" y="650.20" width="88.30" height="73.40" fill="#000" filter="url(#dLight2)" opacity="0.35"/>
<path d="M250.5 692.8 L248 700 L248.6 704 L246 712 L245 720 L243.5 724 L246 724 L247.5 712 L250 704 L249.4 700 L251.6 693Z" fill="#fbf1f4"/>
<line x1="235.00" y1="718.50" x2="270.00" y2="718.50" stroke="#ecd0d8" stroke-width="0.8"/>
<ellipse cx="280.3" cy="684.9" rx="5.2" ry="7.0" transform="rotate(-20 280.3 684.9)" fill="#c4283c" stroke="#f3dde4" stroke-width="1.1"/>
<path d="M303.4 710.4 Q312 713 318 718 Q322 722 321 725 L305 725 Q302 716 303.4 710.4Z" fill="#d8321e" stroke="#f5e2e6" stroke-width="1.2"/>
</g>
<g clip-path="url(#c21)">
<rect x="232.60" y="736.70" width="88.30" height="72.80" fill="#000" filter="url(#fLivA)" opacity="1.0"/>
<rect x="232.60" y="736.70" width="88.30" height="72.80" fill="#000" filter="url(#livNet2)" opacity="0.4"/>
<rect x="232.60" y="736.70" width="88.30" height="72.80" fill="#000" filter="url(#dDark)" opacity="0.4"/>
<rect x="232.60" y="736.70" width="88.30" height="72.80" fill="#000" filter="url(#dLight2)" opacity="0.3"/>
<ellipse cx="283.0" cy="770.6" rx="3.6" ry="4.3" fill="#fbf5f7" opacity="1.0"/>
<path d="M243 736.7 Q243 744 245.5 745 Q248 744 248 736.7Z" fill="#fbf5f7"/>
<line x1="239.00" y1="804.50" x2="278.00" y2="804.50" stroke="#e8c8d2" stroke-width="0.7"/>
</g>
<g clip-path="url(#c30)">
<rect x="331.80" y="650.20" width="88.30" height="73.40" fill="#000" filter="url(#fSplN)" opacity="1.0"/>
<g transform="rotate(-60 375.9 686.9)"><rect x="301.8" y="620.2" width="148.3" height="133.4" fill="#000" filter="url(#fibN)" opacity="0.35"/></g>
<ellipse cx="370.0" cy="676.0" rx="24.7" ry="27.3" fill="#8a3478" opacity="0.49500000000000005" filter="url(#bl4)"/>
<ellipse cx="373.7" cy="707.0" rx="16.9" ry="15.6" fill="#8a3478" opacity="0.49500000000000005" filter="url(#bl4)"/>
<ellipse cx="409.0" cy="685.0" rx="16.9" ry="24.7" fill="#8a3478" opacity="0.4675" filter="url(#bl4)"/>
<ellipse cx="339.0" cy="656.0" rx="15.6" ry="13.0" fill="#8a3478" opacity="0.41250000000000003" filter="url(#bl4)"/>
<ellipse cx="390.0" cy="654.0" rx="11.7" ry="10.4" fill="#8a3478" opacity="0.30250000000000005" filter="url(#bl4)"/>
<ellipse cx="352.0" cy="690.0" rx="7.8" ry="10.4" fill="#8a3478" opacity="0.22000000000000003" filter="url(#bl4)"/>
<rect x="331.8" y="650.2" width="88.3" height="73.4" fill="#000" filter="url(#fPurp)" mask="url(#mSN)"/>
<ellipse cx="370.0" cy="676.0" rx="10.0" ry="11.0" fill="#34205a" opacity="0.45" filter="url(#bl4)"/>
<rect x="331.80" y="650.20" width="88.30" height="73.40" fill="#000" filter="url(#dPurp)" opacity="0.45"/>
<rect x="331.80" y="650.20" width="88.30" height="73.40" fill="#000" filter="url(#splDots)" opacity="0.35"/>
</g>
<path d="M331.8 702 L349 724.5 L330.5 724.5 L330.5 702Z" fill="#ffffff"/>
<g clip-path="url(#c31)">
<rect x="331.80" y="736.70" width="88.30" height="72.80" fill="#000" filter="url(#fSplA)" opacity="1.0"/>
<g transform="rotate(-70 375.9 773.1)"><rect x="301.8" y="706.7" width="148.3" height="132.8" fill="#000" filter="url(#fibN)" opacity="0.4"/></g>
<ellipse cx="388.3" cy="773.9" rx="30.0" ry="23.8" fill="#8a3478" opacity="0.5225" filter="url(#bl4)"/>
<ellipse cx="339.0" cy="744.6" rx="15.0" ry="12.5" fill="#8a3478" opacity="0.41250000000000003" filter="url(#bl4)"/>
<ellipse cx="339.0" cy="763.0" rx="10.0" ry="10.0" fill="#8a3478" opacity="0.33" filter="url(#bl4)"/>
<ellipse cx="355.4" cy="790.0" rx="11.2" ry="10.0" fill="#8a3478" opacity="0.30250000000000005" filter="url(#bl4)"/>
<ellipse cx="370.0" cy="742.0" rx="11.2" ry="8.8" fill="#8a3478" opacity="0.275" filter="url(#bl4)"/>
<ellipse cx="400.0" cy="745.0" rx="10.0" ry="8.8" fill="#8a3478" opacity="0.24750000000000003" filter="url(#bl4)"/>
<rect x="331.8" y="736.7" width="88.3" height="72.8" fill="#000" filter="url(#fPurp2)" mask="url(#mSA)"/>
<ellipse cx="390.0" cy="775.0" rx="14.0" ry="11.0" fill="#2a1a4a" opacity="0.55" filter="url(#bl4)"/>
<rect x="331.80" y="736.70" width="88.30" height="72.80" fill="#000" filter="url(#dPurp)" opacity="0.45"/>
<rect x="331.80" y="736.70" width="88.30" height="72.80" fill="#000" filter="url(#splDots)" opacity="0.35"/>
<line x1="414.00" y1="737.00" x2="421.00" y2="752.00" stroke="#ffffff" stroke-width="2.2"/>
<line x1="410.00" y1="737.00" x2="418.00" y2="762.00" stroke="#f4e6ee" stroke-width="1.0"/>
<line x1="407.50" y1="737.00" x2="416.00" y2="765.00" stroke="#2a0a20" stroke-width="0.9"/>
<line x1="405.00" y1="740.00" x2="412.00" y2="768.00" stroke="#f0dde6" stroke-width="0.6"/>
<path d="M417 736.7 Q420 744 421 750 L421 736.7Z" fill="#ffffff"/>
</g>
<path d="M331.8 781 L348 811 L330.5 811 L330.5 781Z" fill="#ffffff"/>
<g clip-path="url(#c40)">
<rect x="431.30" y="650.20" width="88.30" height="73.40" fill="#000" filter="url(#fLung)" opacity="1.0"/>
<ellipse cx="470.0" cy="665.0" rx="10.0" ry="7.0" fill="#e6b8d6" opacity="0.5" filter="url(#bl2)"/>
<ellipse cx="500.0" cy="700.0" rx="12.0" ry="9.0" fill="#e6b8d6" opacity="0.45" filter="url(#bl2)"/>
<ellipse cx="455.0" cy="715.0" rx="10.0" ry="6.0" fill="#e6b8d6" opacity="0.45" filter="url(#bl2)"/>
<ellipse cx="505.0" cy="660.0" rx="8.0" ry="6.0" fill="#e6b8d6" opacity="0.4" filter="url(#bl2)"/>
<rect x="431.30" y="650.20" width="88.30" height="73.40" fill="#000" filter="url(#lungMesh)" opacity="0.6"/>
<rect x="431.30" y="650.20" width="88.30" height="73.40" fill="#000" filter="url(#lungMesh2)" opacity="0.35"/>
<path d="M437 680 Q447 676 452 684 Q460 690 457 700 Q452 707 444 704 Q438 698 437 690Z" fill="#fdfbfc" opacity="0.95" filter="url(#bl05)"/>
<ellipse cx="494.5" cy="687.0" rx="5.5" ry="5.0" fill="#fdfbfc" opacity="0.95" filter="url(#bl05)"/>
<ellipse cx="483.5" cy="660.5" rx="5.5" ry="4.5" fill="#5a1e5e" opacity="0.9" filter="url(#bl1)"/>
<ellipse cx="432.5" cy="680.0" rx="2.5" ry="6.0" fill="#7a2a6a" opacity="0.7" filter="url(#bl1)"/>
<ellipse cx="436.0" cy="703.5" rx="3.0" ry="3.0" fill="#7a2a6a" opacity="0.6" filter="url(#bl1)"/>
<ellipse cx="434.0" cy="714.5" rx="4.0" ry="2.5" fill="#7a2a6a" opacity="0.6" filter="url(#bl1)"/>
</g>
<g clip-path="url(#c41)">
<rect x="431.30" y="736.70" width="88.30" height="72.80" fill="#000" filter="url(#fLung)" opacity="1.0"/>
<ellipse cx="465.0" cy="757.0" rx="10.0" ry="8.0" fill="#e0aed0" opacity="0.6" filter="url(#bl2)"/>
<ellipse cx="490.0" cy="770.0" rx="12.0" ry="9.0" fill="#e0aed0" opacity="0.45" filter="url(#bl2)"/>
<ellipse cx="450.0" cy="790.0" rx="9.0" ry="7.0" fill="#e0aed0" opacity="0.45" filter="url(#bl2)"/>
<ellipse cx="505.0" cy="795.0" rx="8.0" ry="8.0" fill="#e0aed0" opacity="0.4" filter="url(#bl2)"/>
<ellipse cx="480.0" cy="745.0" rx="9.0" ry="6.0" fill="#e0aed0" opacity="0.4" filter="url(#bl2)"/>
<rect x="431.30" y="736.70" width="88.30" height="72.80" fill="#000" filter="url(#lungMesh)" opacity="0.6"/>
<rect x="431.30" y="736.70" width="88.30" height="72.80" fill="#000" filter="url(#lungMesh2)" opacity="0.45"/>
<ellipse cx="466.1" cy="793" rx="8.5" ry="8" fill="#fdfbfc" stroke="#9a3a86" stroke-width="2.6"/>
<ellipse cx="441.5" cy="741.0" rx="7.0" ry="6.0" fill="#fdfbfc" opacity="0.95" filter="url(#bl05)"/>
<ellipse cx="463.4" cy="764.7" rx="2.5" ry="2.0" fill="#6a1e62" opacity="0.8" filter="url(#bl05)"/>
</g></svg>
</body></html>
